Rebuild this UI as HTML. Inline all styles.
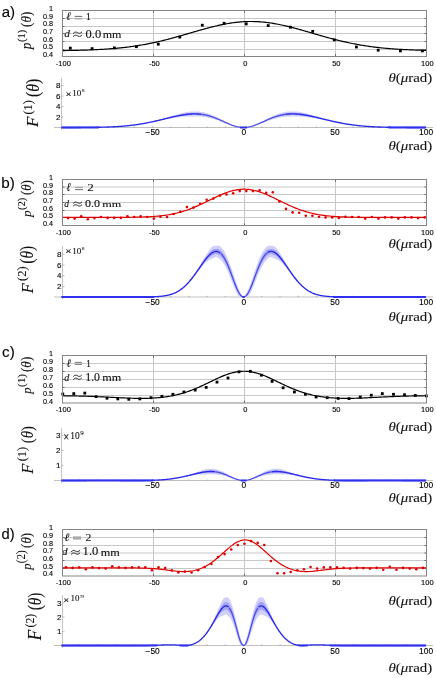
<!DOCTYPE html>
<html><head><meta charset="utf-8"><style>
html,body{margin:0;padding:0;background:#fff;}
svg{display:block;will-change:transform;}
</style></head><body>
<svg width="436" height="678" viewBox="0 0 436 678">
<rect width="436" height="678" fill="#fff"/>
<line x1="62.50" y1="18.50" x2="426.50" y2="18.50" stroke="#c8c8c8" stroke-width="1"/>
<line x1="62.50" y1="26.50" x2="426.50" y2="26.50" stroke="#c8c8c8" stroke-width="1"/>
<line x1="62.50" y1="33.50" x2="426.50" y2="33.50" stroke="#c8c8c8" stroke-width="1"/>
<line x1="62.50" y1="41.50" x2="426.50" y2="41.50" stroke="#c8c8c8" stroke-width="1"/>
<line x1="62.50" y1="49.50" x2="426.50" y2="49.50" stroke="#c8c8c8" stroke-width="1"/>
<line x1="153.50" y1="10.50" x2="153.50" y2="56.50" stroke="#c8c8c8" stroke-width="1"/>
<line x1="153.50" y1="10.50" x2="153.50" y2="12.70" stroke="#666" stroke-width="1"/>
<line x1="153.50" y1="54.30" x2="153.50" y2="56.50" stroke="#666" stroke-width="1"/>
<line x1="244.50" y1="10.50" x2="244.50" y2="56.50" stroke="#c8c8c8" stroke-width="1"/>
<line x1="244.50" y1="10.50" x2="244.50" y2="12.70" stroke="#666" stroke-width="1"/>
<line x1="244.50" y1="54.30" x2="244.50" y2="56.50" stroke="#666" stroke-width="1"/>
<line x1="335.50" y1="10.50" x2="335.50" y2="56.50" stroke="#c8c8c8" stroke-width="1"/>
<line x1="335.50" y1="10.50" x2="335.50" y2="12.70" stroke="#666" stroke-width="1"/>
<line x1="335.50" y1="54.30" x2="335.50" y2="56.50" stroke="#666" stroke-width="1"/>
<line x1="62.50" y1="18.50" x2="64.50" y2="18.50" stroke="#666" stroke-width="1"/>
<line x1="424.50" y1="18.50" x2="426.50" y2="18.50" stroke="#666" stroke-width="1"/>
<line x1="62.50" y1="26.50" x2="64.50" y2="26.50" stroke="#666" stroke-width="1"/>
<line x1="424.50" y1="26.50" x2="426.50" y2="26.50" stroke="#666" stroke-width="1"/>
<line x1="62.50" y1="33.50" x2="64.50" y2="33.50" stroke="#666" stroke-width="1"/>
<line x1="424.50" y1="33.50" x2="426.50" y2="33.50" stroke="#666" stroke-width="1"/>
<line x1="62.50" y1="41.50" x2="64.50" y2="41.50" stroke="#666" stroke-width="1"/>
<line x1="424.50" y1="41.50" x2="426.50" y2="41.50" stroke="#666" stroke-width="1"/>
<line x1="62.50" y1="49.50" x2="64.50" y2="49.50" stroke="#666" stroke-width="1"/>
<line x1="424.50" y1="49.50" x2="426.50" y2="49.50" stroke="#666" stroke-width="1"/>
<text transform="matrix(1.0739 0 0 1.1551 66.180 20.287)" x="0" y="0" fill="#111" stroke="#111" stroke-width="0.108" style="font-kerning:none" ><tspan style="font-family:'Liberation Serif',serif;font-style:italic;font-size:10.00px" y="0.00">ℓ</tspan></text>
<line x1="74.75" y1="16.40" x2="82.20" y2="16.40" stroke="#444" stroke-width="0.8"/>
<line x1="74.75" y1="18.90" x2="82.20" y2="18.90" stroke="#888" stroke-width="0.8"/>
<text transform="matrix(0.9658 0 0 0.9392 86.051 20.400)" x="0" y="0" fill="#111" stroke="#111" stroke-width="0.126" style="font-kerning:none" ><tspan style="font-family:'Liberation Serif',serif;font-style:normal;font-size:10.00px" y="0.00">1</tspan></text>
<text transform="matrix(1.1437 0 0 1.1078 64.154 37.286)" x="0" y="0" fill="#111" stroke="#111" stroke-width="0.107" style="font-kerning:none" ><tspan style="font-family:'Liberation Serif',serif;font-style:italic;font-size:10.00px" y="0.00">d</tspan></text>
<path d="M73.10 33.50 C74.88 31.40 76.66 32.10 77.55 32.70 C78.44 33.30 80.22 34.00 82.00 31.90" fill="none" stroke="#111" stroke-width="0.9"/>
<path d="M73.10 36.60 C74.88 34.50 76.66 35.20 77.55 35.80 C78.44 36.40 80.22 37.10 82.00 35.00" fill="none" stroke="#111" stroke-width="0.9"/>
<text transform="matrix(1.2523 0 0 1.2220 85.523 38.027)" x="0" y="0" fill="#111" stroke="#111" stroke-width="0.097" style="font-kerning:none" ><tspan style="font-family:'Liberation Serif',serif;font-style:normal;font-size:10.00px" y="0.00">0.0</tspan></text>
<text transform="matrix(1.2047 0 0 1.1036 102.747 37.900)" x="0" y="0" fill="#111" stroke="#111" stroke-width="0.104" style="font-kerning:none" ><tspan style="font-family:'Liberation Serif',serif;font-style:normal;font-size:10.00px" y="0.00">mm</tspan></text>
<path d="M62.50 50.56 L63.72 50.55 L64.93 50.53 L66.15 50.51 L67.37 50.49 L68.59 50.47 L69.80 50.45 L71.02 50.43 L72.24 50.41 L73.46 50.39 L74.67 50.36 L75.89 50.34 L77.11 50.31 L78.33 50.28 L79.54 50.25 L80.76 50.22 L81.98 50.19 L83.20 50.15 L84.41 50.11 L85.63 50.07 L86.85 50.03 L88.07 49.99 L89.28 49.95 L90.50 49.90 L91.72 49.85 L92.93 49.80 L94.15 49.75 L95.37 49.69 L96.59 49.64 L97.80 49.57 L99.02 49.51 L100.24 49.45 L101.46 49.38 L102.67 49.31 L103.89 49.23 L105.11 49.15 L106.33 49.07 L107.54 48.99 L108.76 48.90 L109.98 48.81 L111.20 48.72 L112.41 48.62 L113.63 48.52 L114.85 48.41 L116.07 48.30 L117.28 48.19 L118.50 48.07 L119.72 47.95 L120.93 47.83 L122.15 47.70 L123.37 47.56 L124.59 47.43 L125.80 47.28 L127.02 47.14 L128.24 46.98 L129.46 46.83 L130.67 46.67 L131.89 46.50 L133.11 46.33 L134.33 46.15 L135.54 45.97 L136.76 45.79 L137.98 45.59 L139.20 45.40 L140.41 45.20 L141.63 44.99 L142.85 44.78 L144.07 44.56 L145.28 44.34 L146.50 44.11 L147.72 43.88 L148.93 43.64 L150.15 43.40 L151.37 43.15 L152.59 42.89 L153.80 42.64 L155.02 42.37 L156.24 42.10 L157.46 41.83 L158.67 41.55 L159.89 41.27 L161.11 40.98 L162.33 40.68 L163.54 40.39 L164.76 40.08 L165.98 39.78 L167.20 39.47 L168.41 39.15 L169.63 38.83 L170.85 38.51 L172.07 38.19 L173.28 37.86 L174.50 37.52 L175.72 37.19 L176.93 36.85 L178.15 36.51 L179.37 36.16 L180.59 35.82 L181.80 35.47 L183.02 35.12 L184.24 34.77 L185.46 34.41 L186.67 34.06 L187.89 33.70 L189.11 33.35 L190.33 32.99 L191.54 32.64 L192.76 32.28 L193.98 31.93 L195.20 31.57 L196.41 31.22 L197.63 30.87 L198.85 30.52 L200.07 30.17 L201.28 29.83 L202.50 29.48 L203.72 29.15 L204.93 28.81 L206.15 28.48 L207.37 28.15 L208.59 27.83 L209.80 27.51 L211.02 27.20 L212.24 26.89 L213.46 26.59 L214.67 26.29 L215.89 26.00 L217.11 25.72 L218.33 25.44 L219.54 25.17 L220.76 24.91 L221.98 24.65 L223.20 24.41 L224.41 24.17 L225.63 23.94 L226.85 23.72 L228.07 23.51 L229.28 23.31 L230.50 23.12 L231.72 22.94 L232.93 22.77 L234.15 22.60 L235.37 22.45 L236.59 22.31 L237.80 22.18 L239.02 22.06 L240.24 21.96 L241.46 21.86 L242.67 21.77 L243.89 21.70 L245.11 21.64 L246.33 21.59 L247.54 21.55 L248.76 21.52 L249.98 21.50 L251.20 21.50 L252.41 21.51 L253.63 21.53 L254.85 21.56 L256.07 21.60 L257.28 21.66 L258.50 21.72 L259.72 21.80 L260.93 21.89 L262.15 21.99 L263.37 22.10 L264.59 22.22 L265.80 22.36 L267.02 22.50 L268.24 22.65 L269.46 22.82 L270.67 22.99 L271.89 23.18 L273.11 23.37 L274.33 23.58 L275.54 23.79 L276.76 24.02 L277.98 24.25 L279.20 24.49 L280.41 24.74 L281.63 24.99 L282.85 25.26 L284.07 25.53 L285.28 25.81 L286.50 26.09 L287.72 26.38 L288.93 26.68 L290.15 26.99 L291.37 27.30 L292.59 27.61 L293.80 27.93 L295.02 28.26 L296.24 28.58 L297.46 28.92 L298.67 29.25 L299.89 29.59 L301.11 29.94 L302.33 30.28 L303.54 30.63 L304.76 30.98 L305.98 31.33 L307.20 31.69 L308.41 32.04 L309.63 32.39 L310.85 32.75 L312.07 33.11 L313.28 33.46 L314.50 33.82 L315.72 34.17 L316.93 34.53 L318.15 34.88 L319.37 35.23 L320.59 35.58 L321.80 35.93 L323.02 36.27 L324.24 36.62 L325.46 36.96 L326.67 37.30 L327.89 37.63 L329.11 37.96 L330.33 38.29 L331.54 38.62 L332.76 38.94 L333.98 39.25 L335.20 39.57 L336.41 39.88 L337.63 40.18 L338.85 40.48 L340.07 40.78 L341.28 41.07 L342.50 41.36 L343.72 41.64 L344.93 41.92 L346.15 42.19 L347.37 42.46 L348.59 42.72 L349.80 42.98 L351.02 43.23 L352.24 43.48 L353.46 43.72 L354.67 43.95 L355.89 44.18 L357.11 44.41 L358.33 44.63 L359.54 44.85 L360.76 45.06 L361.98 45.26 L363.20 45.46 L364.41 45.66 L365.63 45.85 L366.85 46.03 L368.07 46.21 L369.28 46.38 L370.50 46.55 L371.72 46.72 L372.93 46.88 L374.15 47.03 L375.37 47.18 L376.59 47.33 L377.80 47.47 L379.02 47.61 L380.24 47.74 L381.46 47.87 L382.67 47.99 L383.89 48.11 L385.11 48.23 L386.33 48.34 L387.54 48.45 L388.76 48.55 L389.98 48.65 L391.20 48.75 L392.41 48.84 L393.63 48.93 L394.85 49.02 L396.07 49.10 L397.28 49.18 L398.50 49.26 L399.72 49.33 L400.93 49.40 L402.15 49.47 L403.37 49.53 L404.59 49.59 L405.80 49.65 L407.02 49.71 L408.24 49.77 L409.46 49.82 L410.67 49.87 L411.89 49.92 L413.11 49.96 L414.33 50.01 L415.54 50.05 L416.76 50.09 L417.98 50.13 L419.20 50.16 L420.41 50.20 L421.63 50.23 L422.85 50.26 L424.07 50.29 L425.28 50.32 L426.50 50.35" fill="none" stroke="#000" stroke-width="1.2"/>
<rect x="68.90" y="46.70" width="2.8" height="2.8" fill="#000"/>
<rect x="90.70" y="47.20" width="2.8" height="2.8" fill="#000"/>
<rect x="113.00" y="46.50" width="2.8" height="2.8" fill="#000"/>
<rect x="135.00" y="45.30" width="2.8" height="2.8" fill="#000"/>
<rect x="156.90" y="42.80" width="2.8" height="2.8" fill="#000"/>
<rect x="178.40" y="35.70" width="2.8" height="2.8" fill="#000"/>
<rect x="200.90" y="23.80" width="2.8" height="2.8" fill="#000"/>
<rect x="222.70" y="21.90" width="2.8" height="2.8" fill="#000"/>
<rect x="244.80" y="22.50" width="2.8" height="2.8" fill="#000"/>
<rect x="266.80" y="24.20" width="2.8" height="2.8" fill="#000"/>
<rect x="289.10" y="25.80" width="2.8" height="2.8" fill="#000"/>
<rect x="311.30" y="30.00" width="2.8" height="2.8" fill="#000"/>
<rect x="332.90" y="38.50" width="2.8" height="2.8" fill="#000"/>
<rect x="355.00" y="45.60" width="2.8" height="2.8" fill="#000"/>
<rect x="376.80" y="48.80" width="2.8" height="2.8" fill="#000"/>
<rect x="399.00" y="49.50" width="2.8" height="2.8" fill="#000"/>
<rect x="421.00" y="49.50" width="2.8" height="2.8" fill="#000"/>
<rect x="62.50" y="10.50" width="364.00" height="46.00" fill="none" stroke="#858585" stroke-width="1"/>
<text transform="translate(53.05 11.05) scale(0.930 1)" text-anchor="end" style="font-family:'Liberation Sans',sans-serif;font-size:7.80px;font-kerning:none" fill="#000" stroke="#000" stroke-width="0.12">1</text>
<text transform="translate(53.05 18.69) scale(0.930 1)" text-anchor="end" style="font-family:'Liberation Sans',sans-serif;font-size:7.80px;font-kerning:none" fill="#000" stroke="#000" stroke-width="0.12">0.9</text>
<text transform="translate(53.05 26.33) scale(0.930 1)" text-anchor="end" style="font-family:'Liberation Sans',sans-serif;font-size:7.80px;font-kerning:none" fill="#000" stroke="#000" stroke-width="0.12">0.8</text>
<text transform="translate(53.05 33.98) scale(0.930 1)" text-anchor="end" style="font-family:'Liberation Sans',sans-serif;font-size:7.80px;font-kerning:none" fill="#000" stroke="#000" stroke-width="0.12">0.7</text>
<text transform="translate(53.05 41.62) scale(0.930 1)" text-anchor="end" style="font-family:'Liberation Sans',sans-serif;font-size:7.80px;font-kerning:none" fill="#000" stroke="#000" stroke-width="0.12">0.6</text>
<text transform="translate(53.05 49.26) scale(0.930 1)" text-anchor="end" style="font-family:'Liberation Sans',sans-serif;font-size:7.80px;font-kerning:none" fill="#000" stroke="#000" stroke-width="0.12">0.5</text>
<text transform="translate(53.05 56.90) scale(0.930 1)" text-anchor="end" style="font-family:'Liberation Sans',sans-serif;font-size:7.80px;font-kerning:none" fill="#000" stroke="#000" stroke-width="0.12">0.4</text>
<text transform="translate(63.30 65.50) scale(1.040 1)" text-anchor="middle" style="font-family:'Liberation Sans',sans-serif;font-size:7.20px;font-kerning:none" fill="#000" stroke="#000" stroke-width="0.12">-100</text>
<text transform="translate(154.30 65.50) scale(1.040 1)" text-anchor="middle" style="font-family:'Liberation Sans',sans-serif;font-size:7.20px;font-kerning:none" fill="#000" stroke="#000" stroke-width="0.12">-50</text>
<text transform="translate(245.30 65.50) scale(1.040 1)" text-anchor="middle" style="font-family:'Liberation Sans',sans-serif;font-size:7.20px;font-kerning:none" fill="#000" stroke="#000" stroke-width="0.12">0</text>
<text transform="translate(336.30 65.50) scale(1.040 1)" text-anchor="middle" style="font-family:'Liberation Sans',sans-serif;font-size:7.20px;font-kerning:none" fill="#000" stroke="#000" stroke-width="0.12">50</text>
<text transform="translate(427.30 65.50) scale(1.040 1)" text-anchor="middle" style="font-family:'Liberation Sans',sans-serif;font-size:7.20px;font-kerning:none" fill="#000" stroke="#000" stroke-width="0.12">100</text>
<text transform="matrix(1.4912 0 0 1.2814 388.472 81.960)" x="0" y="0" fill="#111" stroke="#111" stroke-width="0.072" style="font-kerning:none" ><tspan style="font-family:'Liberation Serif',serif;font-style:italic;font-size:10.00px" y="0.00">θ</tspan><tspan style="font-family:'Liberation Serif',serif;font-style:normal;font-size:10.00px" y="0.00">(</tspan><tspan style="font-family:'Liberation Serif',serif;font-style:italic;font-size:10.00px" y="0.00">μ</tspan><tspan style="font-family:'Liberation Serif',serif;font-style:normal;font-size:10.00px" y="0.00">rad)</tspan></text>
<text transform="matrix(1.5038 0 0 1.4705 1.661 17.356)" x="0" y="0" fill="#000" stroke="#000" stroke-width="0.067" style="font-kerning:none" ><tspan style="font-family:'Liberation Sans',sans-serif;font-style:normal;font-size:10.00px" y="0.00">a)</tspan></text>
<text transform="matrix(0 -1.3060 1.3595 0 30.806 49.235)" x="0" y="0" fill="#111" stroke="#111" stroke-width="0.075" style="font-kerning:none" ><tspan style="font-family:'Liberation Serif',serif;font-style:italic;font-size:10.00px" y="0.00">p</tspan></text>
<text transform="matrix(0 -1.0388 1.0698 0 25.023 41.957)" x="0" y="0" fill="#111" stroke="#111" stroke-width="0.095" style="font-kerning:none" ><tspan style="font-family:'Liberation Serif',serif;font-style:normal;font-size:10.00px" y="0.00">(1)</tspan></text>
<text transform="matrix(0 -1.3279 1.5020 0 30.902 26.984)" x="0" y="0" fill="#111" stroke="#111" stroke-width="0.071" style="font-kerning:none" ><tspan style="font-family:'Liberation Serif',serif;font-style:normal;font-size:10.00px" y="0.00">(</tspan><tspan style="font-family:'Liberation Serif',serif;font-style:italic;font-size:10.00px" y="0.00">θ</tspan><tspan style="font-family:'Liberation Serif',serif;font-style:normal;font-size:10.00px" y="0.00">)</tspan></text>
<line x1="54" y1="127.50" x2="433" y2="127.50" stroke="#c0c0c0" stroke-width="1"/>
<line x1="61.50" y1="77.70" x2="61.50" y2="130.00" stroke="#c4c4c4" stroke-width="1"/>
<line x1="79.56" y1="126.30" x2="79.56" y2="127.50" stroke="#909090" stroke-width="0.6"/>
<line x1="97.78" y1="126.30" x2="97.78" y2="127.50" stroke="#909090" stroke-width="0.6"/>
<line x1="116.01" y1="126.30" x2="116.01" y2="127.50" stroke="#909090" stroke-width="0.6"/>
<line x1="134.24" y1="126.30" x2="134.24" y2="127.50" stroke="#909090" stroke-width="0.6"/>
<line x1="152.46" y1="126.30" x2="152.46" y2="127.50" stroke="#909090" stroke-width="0.6"/>
<line x1="170.69" y1="126.30" x2="170.69" y2="127.50" stroke="#909090" stroke-width="0.6"/>
<line x1="188.92" y1="126.30" x2="188.92" y2="127.50" stroke="#909090" stroke-width="0.6"/>
<line x1="207.15" y1="126.30" x2="207.15" y2="127.50" stroke="#909090" stroke-width="0.6"/>
<line x1="225.37" y1="126.30" x2="225.37" y2="127.50" stroke="#909090" stroke-width="0.6"/>
<line x1="243.60" y1="126.30" x2="243.60" y2="127.50" stroke="#909090" stroke-width="0.6"/>
<line x1="261.83" y1="126.30" x2="261.83" y2="127.50" stroke="#909090" stroke-width="0.6"/>
<line x1="280.05" y1="126.30" x2="280.05" y2="127.50" stroke="#909090" stroke-width="0.6"/>
<line x1="298.28" y1="126.30" x2="298.28" y2="127.50" stroke="#909090" stroke-width="0.6"/>
<line x1="316.51" y1="126.30" x2="316.51" y2="127.50" stroke="#909090" stroke-width="0.6"/>
<line x1="334.74" y1="126.30" x2="334.74" y2="127.50" stroke="#909090" stroke-width="0.6"/>
<line x1="352.96" y1="126.30" x2="352.96" y2="127.50" stroke="#909090" stroke-width="0.6"/>
<line x1="371.19" y1="126.30" x2="371.19" y2="127.50" stroke="#909090" stroke-width="0.6"/>
<line x1="389.42" y1="126.30" x2="389.42" y2="127.50" stroke="#909090" stroke-width="0.6"/>
<line x1="407.64" y1="126.30" x2="407.64" y2="127.50" stroke="#909090" stroke-width="0.6"/>
<line x1="425.87" y1="126.30" x2="425.87" y2="127.50" stroke="#909090" stroke-width="0.6"/>
<path d="M61.53 127.49 L62.13 127.49 L62.73 127.49 L63.33 127.49 L63.93 127.49 L64.53 127.49 L65.13 127.49 L65.73 127.49 L66.33 127.49 L66.94 127.49 L67.54 127.48 L68.14 127.48 L68.74 127.48 L69.34 127.48 L69.94 127.48 L70.54 127.48 L71.14 127.48 L71.74 127.48 L72.34 127.48 L72.94 127.47 L73.54 127.47 L74.14 127.47 L74.74 127.47 L75.34 127.47 L75.94 127.47 L76.54 127.46 L77.14 127.46 L77.75 127.46 L78.35 127.46 L78.95 127.45 L79.55 127.45 L80.15 127.45 L80.75 127.45 L81.35 127.44 L81.95 127.44 L82.55 127.44 L83.15 127.43 L83.75 127.43 L84.35 127.42 L84.95 127.42 L85.55 127.42 L86.15 127.41 L86.75 127.41 L87.35 127.40 L87.95 127.40 L88.56 127.39 L89.16 127.38 L89.76 127.38 L90.36 127.37 L90.96 127.37 L91.56 127.36 L92.16 127.35 L92.76 127.34 L93.36 127.34 L93.96 127.33 L94.56 127.32 L95.16 127.31 L95.76 127.30 L96.36 127.29 L96.96 127.28 L97.56 127.27 L98.16 127.26 L98.76 127.25 L99.37 127.23 L99.97 127.22 L100.57 127.21 L101.17 127.19 L101.77 127.18 L102.37 127.17 L102.97 127.15 L103.57 127.13 L104.17 127.12 L104.77 127.10 L105.37 127.08 L105.97 127.06 L106.57 127.04 L107.17 127.02 L107.77 127.00 L108.37 126.98 L108.97 126.96 L109.57 126.93 L110.18 126.91 L110.78 126.88 L111.38 126.86 L111.98 126.83 L112.58 126.80 L113.18 126.77 L113.78 126.74 L114.38 126.71 L114.98 126.68 L115.58 126.65 L116.18 126.61 L116.78 126.57 L117.38 126.54 L117.98 126.50 L118.58 126.46 L119.18 126.42 L119.78 126.38 L120.38 126.34 L120.99 126.29 L121.59 126.25 L122.19 126.20 L122.79 126.15 L123.39 126.10 L123.99 126.05 L124.59 126.00 L125.19 125.94 L125.79 125.88 L126.39 125.83 L126.99 125.77 L127.59 125.71 L128.19 125.64 L128.79 125.58 L129.39 125.51 L129.99 125.45 L130.59 125.38 L131.20 125.31 L131.80 125.23 L132.40 125.16 L133.00 125.08 L133.60 125.00 L134.20 124.92 L134.80 124.84 L135.40 124.76 L136.00 124.67 L136.60 124.58 L137.20 124.49 L137.80 124.40 L138.40 124.31 L139.00 124.21 L139.60 124.11 L140.20 124.01 L140.80 123.91 L141.40 123.81 L142.01 123.70 L142.61 123.59 L143.21 123.48 L143.81 123.37 L144.41 123.25 L145.01 123.14 L145.61 123.02 L146.21 122.90 L146.81 122.77 L147.41 122.65 L148.01 122.52 L148.61 122.39 L149.21 122.26 L149.81 122.13 L150.41 121.99 L151.01 121.85 L151.61 121.71 L152.21 121.57 L152.82 121.42 L153.42 121.28 L154.02 121.13 L154.62 120.98 L155.22 120.82 L155.82 120.67 L156.42 120.51 L157.02 120.35 L157.62 120.19 L158.22 120.03 L158.82 119.87 L159.42 119.70 L160.02 119.53 L160.62 119.36 L161.22 119.19 L161.82 119.02 L162.42 118.85 L163.02 118.67 L163.63 118.50 L164.23 118.32 L164.83 118.14 L165.43 117.96 L166.03 117.78 L166.63 117.60 L167.23 117.41 L167.83 117.23 L168.43 117.05 L169.03 116.86 L169.63 116.68 L170.23 116.50 L170.83 116.31 L171.43 116.13 L172.03 115.94 L172.63 115.76 L173.23 115.58 L173.83 115.40 L174.44 115.22 L175.04 115.04 L175.64 114.86 L176.24 114.69 L176.84 114.51 L177.44 114.34 L178.04 114.17 L178.64 113.99 L179.24 113.82 L179.84 113.65 L180.44 113.48 L181.04 113.32 L181.64 113.16 L182.24 113.01 L182.84 112.86 L183.44 112.71 L184.04 112.58 L184.64 112.44 L185.25 112.32 L185.85 112.20 L186.45 112.08 L187.05 111.98 L187.65 111.88 L188.25 111.80 L188.85 111.72 L189.45 111.65 L190.05 111.59 L190.65 111.54 L191.25 111.50 L191.85 111.47 L192.45 111.45 L193.05 111.44 L193.65 111.44 L194.25 111.44 L194.85 111.44 L195.45 111.43 L196.06 111.44 L196.66 111.45 L197.26 111.47 L197.86 111.50 L198.46 111.54 L199.06 111.59 L199.66 111.65 L200.26 111.72 L200.86 111.80 L201.46 111.89 L202.06 111.99 L202.66 112.10 L203.26 112.22 L203.86 112.35 L204.46 112.49 L205.06 112.64 L205.66 112.80 L206.27 112.97 L206.87 113.15 L207.47 113.33 L208.07 113.53 L208.67 113.73 L209.27 113.95 L209.87 114.17 L210.47 114.40 L211.07 114.63 L211.67 114.87 L212.27 115.12 L212.87 115.38 L213.47 115.64 L214.07 115.91 L214.67 116.18 L215.27 116.46 L215.87 116.74 L216.47 117.02 L217.08 117.31 L217.68 117.60 L218.28 117.90 L218.88 118.19 L219.48 118.49 L220.08 118.79 L220.68 119.09 L221.28 119.39 L221.88 119.70 L222.48 120.00 L223.08 120.30 L223.68 120.60 L224.28 120.90 L224.88 121.20 L225.48 121.50 L226.08 121.79 L226.68 122.08 L227.28 122.37 L227.89 122.66 L228.49 122.94 L229.09 123.22 L229.69 123.49 L230.29 123.76 L230.89 124.02 L231.49 124.28 L232.09 124.53 L232.69 124.77 L233.29 125.00 L233.89 125.23 L234.49 125.45 L235.09 125.66 L235.69 125.87 L236.29 126.06 L236.89 126.24 L237.49 126.42 L238.09 126.58 L238.70 126.73 L239.30 126.87 L239.90 127.00 L240.50 127.11 L241.10 127.21 L241.70 127.30 L242.30 127.38 L242.90 127.44 L243.50 127.49 L244.10 127.46 L244.70 127.40 L245.30 127.33 L245.90 127.24 L246.50 127.15 L247.10 127.04 L247.70 126.91 L248.30 126.78 L248.90 126.63 L249.51 126.47 L250.11 126.30 L250.71 126.12 L251.31 125.93 L251.91 125.73 L252.51 125.52 L253.11 125.31 L253.71 125.08 L254.31 124.85 L254.91 124.61 L255.51 124.36 L256.11 124.11 L256.71 123.85 L257.31 123.58 L257.91 123.31 L258.51 123.03 L259.11 122.75 L259.71 122.47 L260.32 122.18 L260.92 121.89 L261.52 121.60 L262.12 121.30 L262.72 121.00 L263.32 120.70 L263.92 120.40 L264.52 120.10 L265.12 119.80 L265.72 119.50 L266.32 119.19 L266.92 118.89 L267.52 118.59 L268.12 118.29 L268.72 117.99 L269.32 117.70 L269.92 117.41 L270.53 117.12 L271.13 116.83 L271.73 116.55 L272.33 116.27 L272.93 116.00 L273.53 115.73 L274.13 115.47 L274.73 115.21 L275.33 114.96 L275.93 114.71 L276.53 114.47 L277.13 114.24 L277.73 114.02 L278.33 113.80 L278.93 113.60 L279.53 113.40 L280.13 113.21 L280.73 113.03 L281.34 112.85 L281.94 112.69 L282.54 112.54 L283.14 112.39 L283.74 112.26 L284.34 112.14 L284.94 112.02 L285.54 111.92 L286.14 111.82 L286.74 111.74 L287.34 111.67 L287.94 111.60 L288.54 111.55 L289.14 111.51 L289.74 111.47 L290.34 111.45 L290.94 111.44 L291.54 111.43 L292.15 111.44 L292.75 111.45 L293.35 111.44 L293.95 111.43 L294.55 111.44 L295.15 111.46 L295.75 111.49 L296.35 111.52 L296.95 111.57 L297.55 111.63 L298.15 111.69 L298.75 111.77 L299.35 111.85 L299.95 111.95 L300.55 112.05 L301.15 112.16 L301.75 112.28 L302.35 112.40 L302.96 112.53 L303.56 112.67 L304.16 112.81 L304.76 112.96 L305.36 113.11 L305.96 113.27 L306.56 113.43 L307.16 113.59 L307.76 113.76 L308.36 113.93 L308.96 114.11 L309.56 114.28 L310.16 114.45 L310.76 114.63 L311.36 114.80 L311.96 114.98 L312.56 115.16 L313.16 115.34 L313.77 115.52 L314.37 115.70 L314.97 115.88 L315.57 116.07 L316.17 116.25 L316.77 116.43 L317.37 116.62 L317.97 116.80 L318.57 116.99 L319.17 117.17 L319.77 117.35 L320.37 117.54 L320.97 117.72 L321.57 117.90 L322.17 118.08 L322.77 118.26 L323.37 118.44 L323.97 118.61 L324.58 118.79 L325.18 118.96 L325.78 119.14 L326.38 119.31 L326.98 119.48 L327.58 119.64 L328.18 119.81 L328.78 119.98 L329.38 120.14 L329.98 120.30 L330.58 120.46 L331.18 120.62 L331.78 120.77 L332.38 120.93 L332.98 121.08 L333.58 121.23 L334.18 121.37 L334.78 121.52 L335.39 121.66 L335.99 121.80 L336.59 121.94 L337.19 122.08 L337.79 122.21 L338.39 122.35 L338.99 122.48 L339.59 122.61 L340.19 122.73 L340.79 122.86 L341.39 122.98 L341.99 123.10 L342.59 123.22 L343.19 123.33 L343.79 123.45 L344.39 123.56 L344.99 123.67 L345.60 123.77 L346.20 123.88 L346.80 123.98 L347.40 124.08 L348.00 124.18 L348.60 124.28 L349.20 124.37 L349.80 124.46 L350.40 124.55 L351.00 124.64 L351.60 124.73 L352.20 124.81 L352.80 124.90 L353.40 124.98 L354.00 125.06 L354.60 125.13 L355.20 125.21 L355.80 125.28 L356.41 125.35 L357.01 125.42 L357.61 125.49 L358.21 125.56 L358.81 125.62 L359.41 125.69 L360.01 125.75 L360.61 125.81 L361.21 125.87 L361.81 125.92 L362.41 125.98 L363.01 126.03 L363.61 126.08 L364.21 126.13 L364.81 126.18 L365.41 126.23 L366.01 126.28 L366.61 126.32 L367.22 126.36 L367.82 126.41 L368.42 126.45 L369.02 126.49 L369.62 126.53 L370.22 126.56 L370.82 126.60 L371.42 126.63 L372.02 126.67 L372.62 126.70 L373.22 126.73 L373.82 126.76 L374.42 126.79 L375.02 126.82 L375.62 126.85 L376.22 126.87 L376.82 126.90 L377.42 126.92 L378.03 126.95 L378.63 126.97 L379.23 126.99 L379.83 127.02 L380.43 127.04 L381.03 127.06 L381.63 127.07 L382.23 127.09 L382.83 127.11 L383.43 127.13 L384.03 127.14 L384.63 127.16 L385.23 127.18 L385.83 127.19 L386.43 127.20 L387.03 127.22 L387.63 127.23 L388.23 127.24 L388.84 127.25 L389.44 127.27 L390.04 127.28 L390.64 127.29 L391.24 127.30 L391.84 127.31 L392.44 127.32 L393.04 127.32 L393.64 127.33 L394.24 127.34 L394.84 127.35 L395.44 127.36 L396.04 127.36 L396.64 127.37 L397.24 127.38 L397.84 127.38 L398.44 127.39 L399.04 127.39 L399.65 127.40 L400.25 127.40 L400.85 127.41 L401.45 127.41 L402.05 127.42 L402.65 127.42 L403.25 127.43 L403.85 127.43 L404.45 127.43 L405.05 127.44 L405.65 127.44 L406.25 127.44 L406.85 127.45 L407.45 127.45 L408.05 127.45 L408.65 127.46 L409.25 127.46 L409.86 127.46 L410.46 127.46 L411.06 127.46 L411.66 127.47 L412.26 127.47 L412.86 127.47 L413.46 127.47 L414.06 127.47 L414.66 127.47 L415.26 127.48 L415.86 127.48 L416.46 127.48 L417.06 127.48 L417.66 127.48 L418.26 127.48 L418.86 127.48 L419.46 127.48 L420.06 127.49 L420.67 127.49 L421.27 127.49 L421.87 127.49 L422.47 127.49 L423.07 127.49 L423.67 127.49 L424.27 127.49 L424.87 127.49 L425.47 127.49 L425.47 127.49 L424.87 127.49 L424.27 127.49 L423.67 127.49 L423.07 127.49 L422.47 127.49 L421.87 127.49 L421.27 127.49 L420.67 127.49 L420.06 127.49 L419.46 127.49 L418.86 127.48 L418.26 127.48 L417.66 127.48 L417.06 127.48 L416.46 127.48 L415.86 127.48 L415.26 127.48 L414.66 127.48 L414.06 127.47 L413.46 127.47 L412.86 127.47 L412.26 127.47 L411.66 127.47 L411.06 127.47 L410.46 127.46 L409.86 127.46 L409.25 127.46 L408.65 127.46 L408.05 127.46 L407.45 127.45 L406.85 127.45 L406.25 127.45 L405.65 127.44 L405.05 127.44 L404.45 127.44 L403.85 127.43 L403.25 127.43 L402.65 127.43 L402.05 127.42 L401.45 127.42 L400.85 127.41 L400.25 127.41 L399.65 127.40 L399.04 127.40 L398.44 127.39 L397.84 127.39 L397.24 127.38 L396.64 127.38 L396.04 127.37 L395.44 127.36 L394.84 127.36 L394.24 127.35 L393.64 127.34 L393.04 127.33 L392.44 127.32 L391.84 127.32 L391.24 127.31 L390.64 127.30 L390.04 127.29 L389.44 127.28 L388.84 127.26 L388.23 127.25 L387.63 127.24 L387.03 127.23 L386.43 127.22 L385.83 127.20 L385.23 127.19 L384.63 127.17 L384.03 127.16 L383.43 127.14 L382.83 127.13 L382.23 127.11 L381.63 127.09 L381.03 127.07 L380.43 127.05 L379.83 127.03 L379.23 127.01 L378.63 126.99 L378.03 126.97 L377.42 126.95 L376.82 126.92 L376.22 126.90 L375.62 126.87 L375.02 126.85 L374.42 126.82 L373.82 126.79 L373.22 126.76 L372.62 126.73 L372.02 126.70 L371.42 126.67 L370.82 126.63 L370.22 126.60 L369.62 126.56 L369.02 126.52 L368.42 126.49 L367.82 126.45 L367.22 126.40 L366.61 126.36 L366.01 126.32 L365.41 126.28 L364.81 126.23 L364.21 126.18 L363.61 126.13 L363.01 126.08 L362.41 126.03 L361.81 125.98 L361.21 125.92 L360.61 125.87 L360.01 125.81 L359.41 125.75 L358.81 125.69 L358.21 125.63 L357.61 125.57 L357.01 125.50 L356.41 125.43 L355.80 125.37 L355.20 125.30 L354.60 125.23 L354.00 125.15 L353.40 125.08 L352.80 125.00 L352.20 124.92 L351.60 124.84 L351.00 124.76 L350.40 124.68 L349.80 124.59 L349.20 124.51 L348.60 124.42 L348.00 124.33 L347.40 124.24 L346.80 124.15 L346.20 124.05 L345.60 123.96 L344.99 123.86 L344.39 123.76 L343.79 123.66 L343.19 123.56 L342.59 123.46 L341.99 123.35 L341.39 123.25 L340.79 123.14 L340.19 123.03 L339.59 122.92 L338.99 122.81 L338.39 122.70 L337.79 122.58 L337.19 122.47 L336.59 122.36 L335.99 122.24 L335.39 122.12 L334.78 122.00 L334.18 121.89 L333.58 121.77 L332.98 121.65 L332.38 121.53 L331.78 121.41 L331.18 121.29 L330.58 121.17 L329.98 121.05 L329.38 120.92 L328.78 120.80 L328.18 120.68 L327.58 120.56 L326.98 120.44 L326.38 120.32 L325.78 120.20 L325.18 120.08 L324.58 119.96 L323.97 119.85 L323.37 119.73 L322.77 119.61 L322.17 119.50 L321.57 119.38 L320.97 119.27 L320.37 119.16 L319.77 119.05 L319.17 118.94 L318.57 118.83 L317.97 118.73 L317.37 118.62 L316.77 118.52 L316.17 118.42 L315.57 118.32 L314.97 118.23 L314.37 118.13 L313.77 118.04 L313.16 117.95 L312.56 117.86 L311.96 117.78 L311.36 117.69 L310.76 117.61 L310.16 117.53 L309.56 117.46 L308.96 117.39 L308.36 117.33 L307.76 117.27 L307.16 117.21 L306.56 117.15 L305.96 117.10 L305.36 117.05 L304.76 117.00 L304.16 116.96 L303.56 116.91 L302.96 116.87 L302.35 116.83 L301.75 116.79 L301.15 116.76 L300.55 116.72 L299.95 116.69 L299.35 116.65 L298.75 116.62 L298.15 116.59 L297.55 116.56 L296.95 116.53 L296.35 116.50 L295.75 116.47 L295.15 116.44 L294.55 116.42 L293.95 116.39 L293.35 116.37 L292.75 116.35 L292.15 116.37 L291.54 116.39 L290.94 116.41 L290.34 116.44 L289.74 116.48 L289.14 116.51 L288.54 116.55 L287.94 116.60 L287.34 116.64 L286.74 116.70 L286.14 116.75 L285.54 116.81 L284.94 116.87 L284.34 116.94 L283.74 117.01 L283.14 117.09 L282.54 117.17 L281.94 117.26 L281.34 117.35 L280.73 117.44 L280.13 117.55 L279.53 117.65 L278.93 117.77 L278.33 117.88 L277.73 118.01 L277.13 118.14 L276.53 118.27 L275.93 118.42 L275.33 118.57 L274.73 118.72 L274.13 118.88 L273.53 119.05 L272.93 119.22 L272.33 119.40 L271.73 119.59 L271.13 119.78 L270.53 119.98 L269.92 120.18 L269.32 120.39 L268.72 120.61 L268.12 120.83 L267.52 121.05 L266.92 121.28 L266.32 121.51 L265.72 121.75 L265.12 121.99 L264.52 122.23 L263.92 122.47 L263.32 122.72 L262.72 122.96 L262.12 123.21 L261.52 123.46 L260.92 123.70 L260.32 123.94 L259.71 124.18 L259.11 124.42 L258.51 124.65 L257.91 124.88 L257.31 125.11 L256.71 125.32 L256.11 125.54 L255.51 125.74 L254.91 125.93 L254.31 126.12 L253.71 126.30 L253.11 126.47 L252.51 126.62 L251.91 126.77 L251.31 126.91 L250.71 127.03 L250.11 127.14 L249.51 127.24 L248.90 127.33 L248.30 127.40 L247.70 127.46 L247.10 127.50 L246.50 127.50 L245.90 127.50 L245.30 127.50 L244.70 127.50 L244.10 127.50 L243.50 127.50 L242.90 127.50 L242.30 127.50 L241.70 127.50 L241.10 127.50 L240.50 127.50 L239.90 127.49 L239.30 127.44 L238.70 127.38 L238.09 127.30 L237.49 127.21 L236.89 127.11 L236.29 126.99 L235.69 126.86 L235.09 126.72 L234.49 126.57 L233.89 126.41 L233.29 126.24 L232.69 126.06 L232.09 125.87 L231.49 125.67 L230.89 125.47 L230.29 125.25 L229.69 125.03 L229.09 124.81 L228.49 124.58 L227.89 124.34 L227.28 124.10 L226.68 123.86 L226.08 123.62 L225.48 123.37 L224.88 123.13 L224.28 122.88 L223.68 122.64 L223.08 122.39 L222.48 122.15 L221.88 121.91 L221.28 121.67 L220.68 121.43 L220.08 121.20 L219.48 120.98 L218.88 120.75 L218.28 120.53 L217.68 120.32 L217.08 120.11 L216.47 119.91 L215.87 119.72 L215.27 119.53 L214.67 119.34 L214.07 119.16 L213.47 118.99 L212.87 118.83 L212.27 118.67 L211.67 118.52 L211.07 118.37 L210.47 118.23 L209.87 118.09 L209.27 117.97 L208.67 117.84 L208.07 117.73 L207.47 117.62 L206.87 117.51 L206.27 117.41 L205.66 117.32 L205.06 117.23 L204.46 117.14 L203.86 117.06 L203.26 116.99 L202.66 116.92 L202.06 116.85 L201.46 116.79 L200.86 116.73 L200.26 116.68 L199.66 116.63 L199.06 116.58 L198.46 116.54 L197.86 116.50 L197.26 116.47 L196.66 116.43 L196.06 116.41 L195.45 116.38 L194.85 116.36 L194.25 116.36 L193.65 116.38 L193.05 116.40 L192.45 116.42 L191.85 116.45 L191.25 116.48 L190.65 116.51 L190.05 116.54 L189.45 116.57 L188.85 116.60 L188.25 116.63 L187.65 116.66 L187.05 116.70 L186.45 116.73 L185.85 116.77 L185.25 116.81 L184.64 116.85 L184.04 116.89 L183.44 116.93 L182.84 116.97 L182.24 117.02 L181.64 117.07 L181.04 117.12 L180.44 117.17 L179.84 117.23 L179.24 117.29 L178.64 117.35 L178.04 117.41 L177.44 117.48 L176.84 117.56 L176.24 117.64 L175.64 117.72 L175.04 117.80 L174.44 117.89 L173.83 117.98 L173.23 118.07 L172.63 118.16 L172.03 118.26 L171.43 118.36 L170.83 118.45 L170.23 118.56 L169.63 118.66 L169.03 118.76 L168.43 118.87 L167.83 118.98 L167.23 119.09 L166.63 119.20 L166.03 119.31 L165.43 119.42 L164.83 119.54 L164.23 119.65 L163.63 119.77 L163.02 119.89 L162.42 120.00 L161.82 120.12 L161.22 120.24 L160.62 120.36 L160.02 120.48 L159.42 120.60 L158.82 120.72 L158.22 120.84 L157.62 120.97 L157.02 121.09 L156.42 121.21 L155.82 121.33 L155.22 121.45 L154.62 121.57 L154.02 121.69 L153.42 121.81 L152.82 121.93 L152.21 122.04 L151.61 122.16 L151.01 122.28 L150.41 122.39 L149.81 122.51 L149.21 122.62 L148.61 122.73 L148.01 122.85 L147.41 122.96 L146.81 123.07 L146.21 123.17 L145.61 123.28 L145.01 123.39 L144.41 123.49 L143.81 123.59 L143.21 123.69 L142.61 123.79 L142.01 123.89 L141.40 123.99 L140.80 124.08 L140.20 124.18 L139.60 124.27 L139.00 124.36 L138.40 124.45 L137.80 124.54 L137.20 124.62 L136.60 124.71 L136.00 124.79 L135.40 124.87 L134.80 124.95 L134.20 125.03 L133.60 125.10 L133.00 125.18 L132.40 125.25 L131.80 125.32 L131.20 125.39 L130.59 125.46 L129.99 125.52 L129.39 125.59 L128.79 125.65 L128.19 125.71 L127.59 125.77 L126.99 125.83 L126.39 125.89 L125.79 125.94 L125.19 126.00 L124.59 126.05 L123.99 126.10 L123.39 126.15 L122.79 126.20 L122.19 126.24 L121.59 126.29 L120.99 126.33 L120.38 126.38 L119.78 126.42 L119.18 126.46 L118.58 126.50 L117.98 126.54 L117.38 126.57 L116.78 126.61 L116.18 126.64 L115.58 126.68 L114.98 126.71 L114.38 126.74 L113.78 126.77 L113.18 126.80 L112.58 126.83 L111.98 126.85 L111.38 126.88 L110.78 126.91 L110.18 126.93 L109.57 126.95 L108.97 126.98 L108.37 127.00 L107.77 127.02 L107.17 127.04 L106.57 127.06 L105.97 127.08 L105.37 127.10 L104.77 127.12 L104.17 127.13 L103.57 127.15 L102.97 127.16 L102.37 127.18 L101.77 127.19 L101.17 127.21 L100.57 127.22 L99.97 127.23 L99.37 127.25 L98.76 127.26 L98.16 127.27 L97.56 127.28 L96.96 127.29 L96.36 127.30 L95.76 127.31 L95.16 127.32 L94.56 127.33 L93.96 127.34 L93.36 127.34 L92.76 127.35 L92.16 127.36 L91.56 127.37 L90.96 127.37 L90.36 127.38 L89.76 127.38 L89.16 127.39 L88.56 127.40 L87.95 127.40 L87.35 127.41 L86.75 127.41 L86.15 127.42 L85.55 127.42 L84.95 127.42 L84.35 127.43 L83.75 127.43 L83.15 127.44 L82.55 127.44 L81.95 127.44 L81.35 127.44 L80.75 127.45 L80.15 127.45 L79.55 127.45 L78.95 127.46 L78.35 127.46 L77.75 127.46 L77.14 127.46 L76.54 127.46 L75.94 127.47 L75.34 127.47 L74.74 127.47 L74.14 127.47 L73.54 127.47 L72.94 127.48 L72.34 127.48 L71.74 127.48 L71.14 127.48 L70.54 127.48 L69.94 127.48 L69.34 127.48 L68.74 127.48 L68.14 127.48 L67.54 127.49 L66.94 127.49 L66.33 127.49 L65.73 127.49 L65.13 127.49 L64.53 127.49 L63.93 127.49 L63.33 127.49 L62.73 127.49 L62.13 127.49 L61.53 127.49 Z" fill="#d0d0fa"/>
<path d="M61.53 127.49 L62.13 127.49 L62.73 127.49 L63.33 127.49 L63.93 127.49 L64.53 127.49 L65.13 127.49 L65.73 127.49 L66.33 127.49 L66.94 127.49 L67.54 127.48 L68.14 127.48 L68.74 127.48 L69.34 127.48 L69.94 127.48 L70.54 127.48 L71.14 127.48 L71.74 127.48 L72.34 127.48 L72.94 127.47 L73.54 127.47 L74.14 127.47 L74.74 127.47 L75.34 127.47 L75.94 127.47 L76.54 127.46 L77.14 127.46 L77.75 127.46 L78.35 127.46 L78.95 127.45 L79.55 127.45 L80.15 127.45 L80.75 127.45 L81.35 127.44 L81.95 127.44 L82.55 127.44 L83.15 127.43 L83.75 127.43 L84.35 127.43 L84.95 127.42 L85.55 127.42 L86.15 127.41 L86.75 127.41 L87.35 127.40 L87.95 127.40 L88.56 127.39 L89.16 127.39 L89.76 127.38 L90.36 127.37 L90.96 127.37 L91.56 127.36 L92.16 127.35 L92.76 127.35 L93.36 127.34 L93.96 127.33 L94.56 127.32 L95.16 127.31 L95.76 127.30 L96.36 127.29 L96.96 127.28 L97.56 127.27 L98.16 127.26 L98.76 127.25 L99.37 127.24 L99.97 127.22 L100.57 127.21 L101.17 127.20 L101.77 127.18 L102.37 127.17 L102.97 127.15 L103.57 127.14 L104.17 127.12 L104.77 127.10 L105.37 127.09 L105.97 127.07 L106.57 127.05 L107.17 127.03 L107.77 127.01 L108.37 126.98 L108.97 126.96 L109.57 126.94 L110.18 126.91 L110.78 126.89 L111.38 126.86 L111.98 126.84 L112.58 126.81 L113.18 126.78 L113.78 126.75 L114.38 126.72 L114.98 126.69 L115.58 126.65 L116.18 126.62 L116.78 126.58 L117.38 126.55 L117.98 126.51 L118.58 126.47 L119.18 126.43 L119.78 126.39 L120.38 126.35 L120.99 126.30 L121.59 126.26 L122.19 126.21 L122.79 126.16 L123.39 126.11 L123.99 126.06 L124.59 126.01 L125.19 125.96 L125.79 125.90 L126.39 125.84 L126.99 125.79 L127.59 125.73 L128.19 125.66 L128.79 125.60 L129.39 125.53 L129.99 125.47 L130.59 125.40 L131.20 125.33 L131.80 125.26 L132.40 125.18 L133.00 125.11 L133.60 125.03 L134.20 124.95 L134.80 124.87 L135.40 124.79 L136.00 124.70 L136.60 124.62 L137.20 124.53 L137.80 124.44 L138.40 124.35 L139.00 124.25 L139.60 124.16 L140.20 124.06 L140.80 123.96 L141.40 123.86 L142.01 123.75 L142.61 123.65 L143.21 123.54 L143.81 123.43 L144.41 123.32 L145.01 123.21 L145.61 123.09 L146.21 122.97 L146.81 122.85 L147.41 122.73 L148.01 122.61 L148.61 122.49 L149.21 122.36 L149.81 122.23 L150.41 122.10 L151.01 121.97 L151.61 121.83 L152.21 121.70 L152.82 121.56 L153.42 121.42 L154.02 121.28 L154.62 121.14 L155.22 121.00 L155.82 120.85 L156.42 120.70 L157.02 120.55 L157.62 120.41 L158.22 120.25 L158.82 120.10 L159.42 119.95 L160.02 119.79 L160.62 119.64 L161.22 119.48 L161.82 119.32 L162.42 119.16 L163.02 119.01 L163.63 118.85 L164.23 118.68 L164.83 118.52 L165.43 118.36 L166.03 118.20 L166.63 118.04 L167.23 117.87 L167.83 117.71 L168.43 117.55 L169.03 117.39 L169.63 117.22 L170.23 117.06 L170.83 116.90 L171.43 116.74 L172.03 116.58 L172.63 116.42 L173.23 116.26 L173.83 116.11 L174.44 115.95 L175.04 115.80 L175.64 115.65 L176.24 115.50 L176.84 115.35 L177.44 115.20 L178.04 115.06 L178.64 114.91 L179.24 114.77 L179.84 114.63 L180.44 114.50 L181.04 114.37 L181.64 114.24 L182.24 114.11 L182.84 113.99 L183.44 113.87 L184.04 113.76 L184.64 113.65 L185.25 113.55 L185.85 113.45 L186.45 113.36 L187.05 113.28 L187.65 113.20 L188.25 113.13 L188.85 113.06 L189.45 113.00 L190.05 112.95 L190.65 112.91 L191.25 112.87 L191.85 112.84 L192.45 112.82 L193.05 112.80 L193.65 112.79 L194.25 112.80 L194.85 112.79 L195.45 112.79 L196.06 112.80 L196.66 112.82 L197.26 112.84 L197.86 112.87 L198.46 112.91 L199.06 112.96 L199.66 113.02 L200.26 113.08 L200.86 113.15 L201.46 113.23 L202.06 113.32 L202.66 113.42 L203.26 113.53 L203.86 113.65 L204.46 113.77 L205.06 113.90 L205.66 114.04 L206.27 114.19 L206.87 114.35 L207.47 114.51 L208.07 114.68 L208.67 114.86 L209.27 115.05 L209.87 115.25 L210.47 115.45 L211.07 115.66 L211.67 115.88 L212.27 116.10 L212.87 116.33 L213.47 116.56 L214.07 116.80 L214.67 117.05 L215.27 117.30 L215.87 117.56 L216.47 117.82 L217.08 118.08 L217.68 118.35 L218.28 118.62 L218.88 118.90 L219.48 119.17 L220.08 119.45 L220.68 119.74 L221.28 120.02 L221.88 120.30 L222.48 120.59 L223.08 120.88 L223.68 121.16 L224.28 121.45 L224.88 121.73 L225.48 122.01 L226.08 122.30 L226.68 122.57 L227.28 122.85 L227.89 123.12 L228.49 123.39 L229.09 123.65 L229.69 123.91 L230.29 124.17 L230.89 124.42 L231.49 124.66 L232.09 124.90 L232.69 125.12 L233.29 125.34 L233.89 125.56 L234.49 125.76 L235.09 125.96 L235.69 126.14 L236.29 126.32 L236.89 126.48 L237.49 126.63 L238.09 126.78 L238.70 126.91 L239.30 127.03 L239.90 127.13 L240.50 127.23 L241.10 127.31 L241.70 127.37 L242.30 127.43 L242.90 127.47 L243.50 127.50 L244.10 127.48 L244.70 127.44 L245.30 127.39 L245.90 127.33 L246.50 127.25 L247.10 127.16 L247.70 127.06 L248.30 126.95 L248.90 126.82 L249.51 126.68 L250.11 126.53 L250.71 126.37 L251.31 126.20 L251.91 126.02 L252.51 125.83 L253.11 125.63 L253.71 125.42 L254.31 125.20 L254.91 124.97 L255.51 124.74 L256.11 124.50 L256.71 124.25 L257.31 124.00 L257.91 123.74 L258.51 123.48 L259.11 123.21 L259.71 122.94 L260.32 122.67 L260.92 122.39 L261.52 122.11 L262.12 121.83 L262.72 121.54 L263.32 121.26 L263.92 120.97 L264.52 120.69 L265.12 120.40 L265.72 120.12 L266.32 119.83 L266.92 119.55 L267.52 119.27 L268.12 118.99 L268.72 118.71 L269.32 118.44 L269.92 118.17 L270.53 117.90 L271.13 117.64 L271.73 117.38 L272.33 117.13 L272.93 116.88 L273.53 116.64 L274.13 116.40 L274.73 116.17 L275.33 115.95 L275.93 115.73 L276.53 115.52 L277.13 115.31 L277.73 115.12 L278.33 114.93 L278.93 114.74 L279.53 114.57 L280.13 114.40 L280.73 114.24 L281.34 114.09 L281.94 113.95 L282.54 113.81 L283.14 113.69 L283.74 113.57 L284.34 113.46 L284.94 113.36 L285.54 113.26 L286.14 113.18 L286.74 113.10 L287.34 113.04 L287.94 112.98 L288.54 112.93 L289.14 112.88 L289.74 112.85 L290.34 112.82 L290.94 112.81 L291.54 112.80 L292.15 112.79 L292.75 112.80 L293.35 112.79 L293.95 112.80 L294.55 112.81 L295.15 112.83 L295.75 112.86 L296.35 112.89 L296.95 112.93 L297.55 112.98 L298.15 113.04 L298.75 113.10 L299.35 113.17 L299.95 113.25 L300.55 113.33 L301.15 113.42 L301.75 113.52 L302.35 113.62 L302.96 113.72 L303.56 113.83 L304.16 113.95 L304.76 114.07 L305.36 114.19 L305.96 114.32 L306.56 114.45 L307.16 114.59 L307.76 114.73 L308.36 114.87 L308.96 115.01 L309.56 115.16 L310.16 115.30 L310.76 115.45 L311.36 115.60 L311.96 115.75 L312.56 115.90 L313.16 116.06 L313.77 116.21 L314.37 116.37 L314.97 116.53 L315.57 116.69 L316.17 116.85 L316.77 117.01 L317.37 117.17 L317.97 117.33 L318.57 117.49 L319.17 117.66 L319.77 117.82 L320.37 117.98 L320.97 118.14 L321.57 118.31 L322.17 118.47 L322.77 118.63 L323.37 118.79 L323.97 118.95 L324.58 119.11 L325.18 119.27 L325.78 119.43 L326.38 119.59 L326.98 119.74 L327.58 119.90 L328.18 120.05 L328.78 120.20 L329.38 120.36 L329.98 120.51 L330.58 120.65 L331.18 120.80 L331.78 120.95 L332.38 121.09 L332.98 121.23 L333.58 121.38 L334.18 121.51 L334.78 121.65 L335.39 121.79 L335.99 121.92 L336.59 122.06 L337.19 122.19 L337.79 122.32 L338.39 122.44 L338.99 122.57 L339.59 122.69 L340.19 122.81 L340.79 122.93 L341.39 123.05 L341.99 123.17 L342.59 123.28 L343.19 123.39 L343.79 123.50 L344.39 123.61 L344.99 123.72 L345.60 123.82 L346.20 123.93 L346.80 124.03 L347.40 124.12 L348.00 124.22 L348.60 124.32 L349.20 124.41 L349.80 124.50 L350.40 124.59 L351.00 124.68 L351.60 124.76 L352.20 124.84 L352.80 124.93 L353.40 125.01 L354.00 125.08 L354.60 125.16 L355.20 125.23 L355.80 125.31 L356.41 125.38 L357.01 125.45 L357.61 125.51 L358.21 125.58 L358.81 125.64 L359.41 125.70 L360.01 125.77 L360.61 125.82 L361.21 125.88 L361.81 125.94 L362.41 125.99 L363.01 126.05 L363.61 126.10 L364.21 126.15 L364.81 126.20 L365.41 126.24 L366.01 126.29 L366.61 126.33 L367.22 126.38 L367.82 126.42 L368.42 126.46 L369.02 126.50 L369.62 126.54 L370.22 126.57 L370.82 126.61 L371.42 126.64 L372.02 126.68 L372.62 126.71 L373.22 126.74 L373.82 126.77 L374.42 126.80 L375.02 126.83 L375.62 126.85 L376.22 126.88 L376.82 126.91 L377.42 126.93 L378.03 126.95 L378.63 126.98 L379.23 127.00 L379.83 127.02 L380.43 127.04 L381.03 127.06 L381.63 127.08 L382.23 127.10 L382.83 127.12 L383.43 127.13 L384.03 127.15 L384.63 127.16 L385.23 127.18 L385.83 127.19 L386.43 127.21 L387.03 127.22 L387.63 127.23 L388.23 127.25 L388.84 127.26 L389.44 127.27 L390.04 127.28 L390.64 127.29 L391.24 127.30 L391.84 127.31 L392.44 127.32 L393.04 127.33 L393.64 127.34 L394.24 127.34 L394.84 127.35 L395.44 127.36 L396.04 127.37 L396.64 127.37 L397.24 127.38 L397.84 127.38 L398.44 127.39 L399.04 127.40 L399.65 127.40 L400.25 127.41 L400.85 127.41 L401.45 127.42 L402.05 127.42 L402.65 127.42 L403.25 127.43 L403.85 127.43 L404.45 127.44 L405.05 127.44 L405.65 127.44 L406.25 127.44 L406.85 127.45 L407.45 127.45 L408.05 127.45 L408.65 127.46 L409.25 127.46 L409.86 127.46 L410.46 127.46 L411.06 127.46 L411.66 127.47 L412.26 127.47 L412.86 127.47 L413.46 127.47 L414.06 127.47 L414.66 127.48 L415.26 127.48 L415.86 127.48 L416.46 127.48 L417.06 127.48 L417.66 127.48 L418.26 127.48 L418.86 127.48 L419.46 127.48 L420.06 127.49 L420.67 127.49 L421.27 127.49 L421.87 127.49 L422.47 127.49 L423.07 127.49 L423.67 127.49 L424.27 127.49 L424.87 127.49 L425.47 127.49 L425.47 127.49 L424.87 127.49 L424.27 127.49 L423.67 127.49 L423.07 127.49 L422.47 127.49 L421.87 127.49 L421.27 127.49 L420.67 127.49 L420.06 127.49 L419.46 127.48 L418.86 127.48 L418.26 127.48 L417.66 127.48 L417.06 127.48 L416.46 127.48 L415.86 127.48 L415.26 127.48 L414.66 127.48 L414.06 127.47 L413.46 127.47 L412.86 127.47 L412.26 127.47 L411.66 127.47 L411.06 127.47 L410.46 127.46 L409.86 127.46 L409.25 127.46 L408.65 127.46 L408.05 127.45 L407.45 127.45 L406.85 127.45 L406.25 127.45 L405.65 127.44 L405.05 127.44 L404.45 127.44 L403.85 127.43 L403.25 127.43 L402.65 127.43 L402.05 127.42 L401.45 127.42 L400.85 127.41 L400.25 127.41 L399.65 127.40 L399.04 127.40 L398.44 127.39 L397.84 127.39 L397.24 127.38 L396.64 127.37 L396.04 127.37 L395.44 127.36 L394.84 127.35 L394.24 127.35 L393.64 127.34 L393.04 127.33 L392.44 127.32 L391.84 127.31 L391.24 127.30 L390.64 127.29 L390.04 127.28 L389.44 127.27 L388.84 127.26 L388.23 127.25 L387.63 127.24 L387.03 127.23 L386.43 127.21 L385.83 127.20 L385.23 127.18 L384.63 127.17 L384.03 127.15 L383.43 127.14 L382.83 127.12 L382.23 127.10 L381.63 127.09 L381.03 127.07 L380.43 127.05 L379.83 127.03 L379.23 127.01 L378.63 126.99 L378.03 126.96 L377.42 126.94 L376.82 126.92 L376.22 126.89 L375.62 126.87 L375.02 126.84 L374.42 126.81 L373.82 126.78 L373.22 126.75 L372.62 126.72 L372.02 126.69 L371.42 126.66 L370.82 126.62 L370.22 126.59 L369.62 126.55 L369.02 126.51 L368.42 126.47 L367.82 126.43 L367.22 126.39 L366.61 126.35 L366.01 126.31 L365.41 126.26 L364.81 126.22 L364.21 126.17 L363.61 126.12 L363.01 126.07 L362.41 126.02 L361.81 125.96 L361.21 125.91 L360.61 125.85 L360.01 125.79 L359.41 125.73 L358.81 125.67 L358.21 125.61 L357.61 125.55 L357.01 125.48 L356.41 125.41 L355.80 125.34 L355.20 125.27 L354.60 125.20 L354.00 125.13 L353.40 125.05 L352.80 124.97 L352.20 124.89 L351.60 124.81 L351.00 124.73 L350.40 124.64 L349.80 124.56 L349.20 124.47 L348.60 124.38 L348.00 124.29 L347.40 124.20 L346.80 124.10 L346.20 124.00 L345.60 123.91 L344.99 123.81 L344.39 123.70 L343.79 123.60 L343.19 123.50 L342.59 123.39 L341.99 123.28 L341.39 123.17 L340.79 123.06 L340.19 122.95 L339.59 122.83 L338.99 122.72 L338.39 122.60 L337.79 122.48 L337.19 122.36 L336.59 122.24 L335.99 122.12 L335.39 122.00 L334.78 121.87 L334.18 121.75 L333.58 121.62 L332.98 121.49 L332.38 121.36 L331.78 121.23 L331.18 121.10 L330.58 120.97 L329.98 120.84 L329.38 120.71 L328.78 120.58 L328.18 120.44 L327.58 120.31 L326.98 120.18 L326.38 120.04 L325.78 119.91 L325.18 119.77 L324.58 119.64 L323.97 119.51 L323.37 119.37 L322.77 119.24 L322.17 119.11 L321.57 118.98 L320.97 118.84 L320.37 118.71 L319.77 118.58 L319.17 118.45 L318.57 118.33 L317.97 118.20 L317.37 118.07 L316.77 117.95 L316.17 117.82 L315.57 117.70 L314.97 117.58 L314.37 117.46 L313.77 117.35 L313.16 117.23 L312.56 117.12 L311.96 117.01 L311.36 116.90 L310.76 116.79 L310.16 116.69 L309.56 116.58 L308.96 116.49 L308.36 116.39 L307.76 116.30 L307.16 116.21 L306.56 116.13 L305.96 116.05 L305.36 115.97 L304.76 115.89 L304.16 115.82 L303.56 115.75 L302.96 115.68 L302.35 115.61 L301.75 115.55 L301.15 115.49 L300.55 115.44 L299.95 115.38 L299.35 115.33 L298.75 115.29 L298.15 115.24 L297.55 115.20 L296.95 115.16 L296.35 115.13 L295.75 115.10 L295.15 115.07 L294.55 115.05 L293.95 115.03 L293.35 115.01 L292.75 115.00 L292.15 115.01 L291.54 115.03 L290.94 115.05 L290.34 115.07 L289.74 115.10 L289.14 115.14 L288.54 115.18 L287.94 115.22 L287.34 115.28 L286.74 115.33 L286.14 115.40 L285.54 115.46 L284.94 115.54 L284.34 115.62 L283.74 115.71 L283.14 115.80 L282.54 115.90 L281.94 116.00 L281.34 116.11 L280.73 116.23 L280.13 116.35 L279.53 116.48 L278.93 116.62 L278.33 116.76 L277.73 116.91 L277.13 117.07 L276.53 117.23 L275.93 117.40 L275.33 117.57 L274.73 117.75 L274.13 117.94 L273.53 118.14 L272.93 118.34 L272.33 118.54 L271.73 118.75 L271.13 118.97 L270.53 119.19 L269.92 119.42 L269.32 119.65 L268.72 119.89 L268.12 120.13 L267.52 120.37 L266.92 120.62 L266.32 120.87 L265.72 121.13 L265.12 121.39 L264.52 121.64 L263.92 121.90 L263.32 122.16 L262.72 122.42 L262.12 122.69 L261.52 122.94 L260.92 123.20 L260.32 123.46 L259.71 123.71 L259.11 123.96 L258.51 124.21 L257.91 124.45 L257.31 124.69 L256.71 124.92 L256.11 125.14 L255.51 125.36 L254.91 125.57 L254.31 125.77 L253.71 125.96 L253.11 126.15 L252.51 126.32 L251.91 126.49 L251.31 126.64 L250.71 126.78 L250.11 126.91 L249.51 127.03 L248.90 127.13 L248.30 127.23 L247.70 127.31 L247.10 127.38 L246.50 127.43 L245.90 127.47 L245.30 127.50 L244.70 127.50 L244.10 127.50 L243.50 127.50 L242.90 127.50 L242.30 127.50 L241.70 127.49 L241.10 127.46 L240.50 127.41 L239.90 127.35 L239.30 127.28 L238.70 127.20 L238.09 127.10 L237.49 126.99 L236.89 126.87 L236.29 126.73 L235.69 126.59 L235.09 126.43 L234.49 126.26 L233.89 126.09 L233.29 125.90 L232.69 125.70 L232.09 125.50 L231.49 125.29 L230.89 125.07 L230.29 124.84 L229.69 124.61 L229.09 124.37 L228.49 124.13 L227.89 123.88 L227.28 123.63 L226.68 123.37 L226.08 123.12 L225.48 122.86 L224.88 122.60 L224.28 122.34 L223.68 122.08 L223.08 121.82 L222.48 121.56 L221.88 121.30 L221.28 121.04 L220.68 120.79 L220.08 120.54 L219.48 120.29 L218.88 120.05 L218.28 119.81 L217.68 119.57 L217.08 119.34 L216.47 119.12 L215.87 118.90 L215.27 118.68 L214.67 118.47 L214.07 118.27 L213.47 118.07 L212.87 117.88 L212.27 117.69 L211.67 117.51 L211.07 117.34 L210.47 117.17 L209.87 117.01 L209.27 116.86 L208.67 116.71 L208.07 116.57 L207.47 116.44 L206.87 116.31 L206.27 116.19 L205.66 116.07 L205.06 115.97 L204.46 115.86 L203.86 115.77 L203.26 115.68 L202.66 115.59 L202.06 115.51 L201.46 115.44 L200.86 115.37 L200.26 115.31 L199.66 115.26 L199.06 115.21 L198.46 115.16 L197.86 115.12 L197.26 115.09 L196.66 115.06 L196.06 115.04 L195.45 115.02 L194.85 115.01 L194.25 115.01 L193.65 115.02 L193.05 115.03 L192.45 115.06 L191.85 115.08 L191.25 115.11 L190.65 115.14 L190.05 115.18 L189.45 115.21 L188.85 115.26 L188.25 115.30 L187.65 115.35 L187.05 115.40 L186.45 115.45 L185.85 115.51 L185.25 115.57 L184.64 115.63 L184.04 115.70 L183.44 115.77 L182.84 115.84 L182.24 115.92 L181.64 115.99 L181.04 116.07 L180.44 116.16 L179.84 116.24 L179.24 116.33 L178.64 116.42 L178.04 116.52 L177.44 116.62 L176.84 116.72 L176.24 116.83 L175.64 116.93 L175.04 117.04 L174.44 117.16 L173.83 117.27 L173.23 117.39 L172.63 117.50 L172.03 117.62 L171.43 117.74 L170.83 117.87 L170.23 117.99 L169.63 118.11 L169.03 118.24 L168.43 118.37 L167.83 118.50 L167.23 118.63 L166.63 118.76 L166.03 118.89 L165.43 119.02 L164.83 119.15 L164.23 119.28 L163.63 119.42 L163.02 119.55 L162.42 119.69 L161.82 119.82 L161.22 119.95 L160.62 120.09 L160.02 120.22 L159.42 120.35 L158.82 120.49 L158.22 120.62 L157.62 120.75 L157.02 120.88 L156.42 121.02 L155.82 121.15 L155.22 121.28 L154.62 121.41 L154.02 121.53 L153.42 121.66 L152.82 121.79 L152.21 121.91 L151.61 122.04 L151.01 122.16 L150.41 122.28 L149.81 122.40 L149.21 122.52 L148.61 122.64 L148.01 122.76 L147.41 122.87 L146.81 122.99 L146.21 123.10 L145.61 123.21 L145.01 123.32 L144.41 123.43 L143.81 123.53 L143.21 123.64 L142.61 123.74 L142.01 123.84 L141.40 123.94 L140.80 124.04 L140.20 124.13 L139.60 124.23 L139.00 124.32 L138.40 124.41 L137.80 124.50 L137.20 124.59 L136.60 124.67 L136.00 124.76 L135.40 124.84 L134.80 124.92 L134.20 125.00 L133.60 125.08 L133.00 125.15 L132.40 125.22 L131.80 125.30 L131.20 125.37 L130.59 125.44 L129.99 125.50 L129.39 125.57 L128.79 125.63 L128.19 125.69 L127.59 125.75 L126.99 125.81 L126.39 125.87 L125.79 125.93 L125.19 125.98 L124.59 126.03 L123.99 126.09 L123.39 126.14 L122.79 126.18 L122.19 126.23 L121.59 126.28 L120.99 126.32 L120.38 126.37 L119.78 126.41 L119.18 126.45 L118.58 126.49 L117.98 126.53 L117.38 126.56 L116.78 126.60 L116.18 126.63 L115.58 126.67 L114.98 126.70 L114.38 126.73 L113.78 126.76 L113.18 126.79 L112.58 126.82 L111.98 126.85 L111.38 126.87 L110.78 126.90 L110.18 126.92 L109.57 126.95 L108.97 126.97 L108.37 126.99 L107.77 127.01 L107.17 127.04 L106.57 127.06 L105.97 127.07 L105.37 127.09 L104.77 127.11 L104.17 127.13 L103.57 127.14 L102.97 127.16 L102.37 127.18 L101.77 127.19 L101.17 127.20 L100.57 127.22 L99.97 127.23 L99.37 127.24 L98.76 127.25 L98.16 127.27 L97.56 127.28 L96.96 127.29 L96.36 127.30 L95.76 127.31 L95.16 127.32 L94.56 127.32 L93.96 127.33 L93.36 127.34 L92.76 127.35 L92.16 127.36 L91.56 127.36 L90.96 127.37 L90.36 127.38 L89.76 127.38 L89.16 127.39 L88.56 127.39 L87.95 127.40 L87.35 127.40 L86.75 127.41 L86.15 127.41 L85.55 127.42 L84.95 127.42 L84.35 127.43 L83.75 127.43 L83.15 127.43 L82.55 127.44 L81.95 127.44 L81.35 127.44 L80.75 127.45 L80.15 127.45 L79.55 127.45 L78.95 127.46 L78.35 127.46 L77.75 127.46 L77.14 127.46 L76.54 127.46 L75.94 127.47 L75.34 127.47 L74.74 127.47 L74.14 127.47 L73.54 127.47 L72.94 127.47 L72.34 127.48 L71.74 127.48 L71.14 127.48 L70.54 127.48 L69.94 127.48 L69.34 127.48 L68.74 127.48 L68.14 127.48 L67.54 127.49 L66.94 127.49 L66.33 127.49 L65.73 127.49 L65.13 127.49 L64.53 127.49 L63.93 127.49 L63.33 127.49 L62.73 127.49 L62.13 127.49 L61.53 127.49 Z" fill="#a4a4f4"/>
<path d="M61.53 127.49 L62.13 127.49 L62.73 127.49 L63.33 127.49 L63.93 127.49 L64.53 127.49 L65.13 127.49 L65.73 127.49 L66.33 127.49 L66.94 127.49 L67.54 127.49 L68.14 127.48 L68.74 127.48 L69.34 127.48 L69.94 127.48 L70.54 127.48 L71.14 127.48 L71.74 127.48 L72.34 127.48 L72.94 127.47 L73.54 127.47 L74.14 127.47 L74.74 127.47 L75.34 127.47 L75.94 127.47 L76.54 127.46 L77.14 127.46 L77.75 127.46 L78.35 127.46 L78.95 127.45 L79.55 127.45 L80.15 127.45 L80.75 127.45 L81.35 127.44 L81.95 127.44 L82.55 127.44 L83.15 127.43 L83.75 127.43 L84.35 127.43 L84.95 127.42 L85.55 127.42 L86.15 127.41 L86.75 127.41 L87.35 127.40 L87.95 127.40 L88.56 127.39 L89.16 127.39 L89.76 127.38 L90.36 127.38 L90.96 127.37 L91.56 127.36 L92.16 127.35 L92.76 127.35 L93.36 127.34 L93.96 127.33 L94.56 127.32 L95.16 127.31 L95.76 127.30 L96.36 127.29 L96.96 127.28 L97.56 127.27 L98.16 127.26 L98.76 127.25 L99.37 127.24 L99.97 127.23 L100.57 127.21 L101.17 127.20 L101.77 127.19 L102.37 127.17 L102.97 127.16 L103.57 127.14 L104.17 127.12 L104.77 127.11 L105.37 127.09 L105.97 127.07 L106.57 127.05 L107.17 127.03 L107.77 127.01 L108.37 126.99 L108.97 126.97 L109.57 126.94 L110.18 126.92 L110.78 126.89 L111.38 126.87 L111.98 126.84 L112.58 126.81 L113.18 126.79 L113.78 126.76 L114.38 126.73 L114.98 126.69 L115.58 126.66 L116.18 126.63 L116.78 126.59 L117.38 126.56 L117.98 126.52 L118.58 126.48 L119.18 126.44 L119.78 126.40 L120.38 126.36 L120.99 126.31 L121.59 126.27 L122.19 126.22 L122.79 126.17 L123.39 126.12 L123.99 126.07 L124.59 126.02 L125.19 125.97 L125.79 125.91 L126.39 125.86 L126.99 125.80 L127.59 125.74 L128.19 125.68 L128.79 125.62 L129.39 125.55 L129.99 125.49 L130.59 125.42 L131.20 125.35 L131.80 125.28 L132.40 125.20 L133.00 125.13 L133.60 125.05 L134.20 124.98 L134.80 124.90 L135.40 124.81 L136.00 124.73 L136.60 124.65 L137.20 124.56 L137.80 124.47 L138.40 124.38 L139.00 124.29 L139.60 124.19 L140.20 124.10 L140.80 124.00 L141.40 123.90 L142.01 123.80 L142.61 123.69 L143.21 123.59 L143.81 123.48 L144.41 123.37 L145.01 123.26 L145.61 123.15 L146.21 123.04 L146.81 122.92 L147.41 122.80 L148.01 122.68 L148.61 122.56 L149.21 122.44 L149.81 122.32 L150.41 122.19 L151.01 122.06 L151.61 121.94 L152.21 121.81 L152.82 121.67 L153.42 121.54 L154.02 121.41 L154.62 121.27 L155.22 121.14 L155.82 121.00 L156.42 120.86 L157.02 120.72 L157.62 120.58 L158.22 120.44 L158.82 120.29 L159.42 120.15 L160.02 120.01 L160.62 119.86 L161.22 119.72 L161.82 119.57 L162.42 119.43 L163.02 119.28 L163.63 119.13 L164.23 118.98 L164.83 118.84 L165.43 118.69 L166.03 118.54 L166.63 118.40 L167.23 118.25 L167.83 118.10 L168.43 117.96 L169.03 117.81 L169.63 117.67 L170.23 117.53 L170.83 117.38 L171.43 117.24 L172.03 117.10 L172.63 116.96 L173.23 116.82 L173.83 116.69 L174.44 116.55 L175.04 116.42 L175.64 116.29 L176.24 116.16 L176.84 116.04 L177.44 115.91 L178.04 115.79 L178.64 115.67 L179.24 115.55 L179.84 115.44 L180.44 115.33 L181.04 115.22 L181.64 115.11 L182.24 115.01 L182.84 114.92 L183.44 114.82 L184.04 114.73 L184.64 114.64 L185.25 114.56 L185.85 114.48 L186.45 114.41 L187.05 114.34 L187.65 114.27 L188.25 114.21 L188.85 114.16 L189.45 114.11 L190.05 114.06 L190.65 114.02 L191.25 113.99 L191.85 113.96 L192.45 113.94 L193.05 113.92 L193.65 113.91 L194.25 113.90 L194.85 113.90 L195.45 113.91 L196.06 113.92 L196.66 113.94 L197.26 113.97 L197.86 114.00 L198.46 114.04 L199.06 114.08 L199.66 114.14 L200.26 114.20 L200.86 114.26 L201.46 114.34" fill="none" stroke="#2a2aec" stroke-width="1.35"/>
<path d="M285.54 114.36 L286.14 114.29 L286.74 114.22 L287.34 114.16 L287.94 114.10 L288.54 114.05 L289.14 114.01 L289.74 113.98 L290.34 113.95 L290.94 113.93 L291.54 113.91 L292.15 113.90 L292.75 113.90 L293.35 113.90 L293.95 113.91 L294.55 113.93 L295.15 113.95 L295.75 113.98 L296.35 114.01 L296.95 114.05 L297.55 114.09 L298.15 114.14 L298.75 114.20 L299.35 114.25 L299.95 114.32 L300.55 114.39 L301.15 114.46 L301.75 114.53 L302.35 114.62 L302.96 114.70 L303.56 114.79 L304.16 114.88 L304.76 114.98 L305.36 115.08 L305.96 115.18 L306.56 115.29 L307.16 115.40 L307.76 115.51 L308.36 115.63 L308.96 115.75 L309.56 115.87 L310.16 115.99 L310.76 116.12 L311.36 116.25 L311.96 116.38 L312.56 116.51 L313.16 116.64 L313.77 116.78 L314.37 116.92 L314.97 117.05 L315.57 117.19 L316.17 117.34 L316.77 117.48 L317.37 117.62 L317.97 117.77 L318.57 117.91 L319.17 118.06 L319.77 118.20 L320.37 118.35 L320.97 118.49 L321.57 118.64 L322.17 118.79 L322.77 118.94 L323.37 119.08 L323.97 119.23 L324.58 119.38 L325.18 119.52 L325.78 119.67 L326.38 119.81 L326.98 119.96 L327.58 120.10 L328.18 120.25 L328.78 120.39 L329.38 120.53 L329.98 120.67 L330.58 120.81 L331.18 120.95 L331.78 121.09 L332.38 121.23 L332.98 121.36 L333.58 121.50 L334.18 121.63 L334.78 121.76 L335.39 121.89 L335.99 122.02 L336.59 122.15 L337.19 122.27 L337.79 122.40 L338.39 122.52 L338.99 122.64 L339.59 122.76 L340.19 122.88 L340.79 123.00 L341.39 123.11 L341.99 123.22 L342.59 123.34 L343.19 123.45 L343.79 123.55 L344.39 123.66 L344.99 123.76 L345.60 123.86 L346.20 123.97 L346.80 124.06 L347.40 124.16 L348.00 124.26 L348.60 124.35 L349.20 124.44 L349.80 124.53 L350.40 124.62 L351.00 124.70 L351.60 124.79 L352.20 124.87 L352.80 124.95 L353.40 125.03 L354.00 125.10 L354.60 125.18 L355.20 125.25 L355.80 125.32 L356.41 125.39 L357.01 125.46 L357.61 125.53 L358.21 125.59 L358.81 125.66 L359.41 125.72 L360.01 125.78 L360.61 125.84 L361.21 125.90 L361.81 125.95 L362.41 126.00 L363.01 126.06 L363.61 126.11 L364.21 126.16 L364.81 126.21 L365.41 126.25 L366.01 126.30 L366.61 126.34 L367.22 126.38 L367.82 126.43 L368.42 126.47 L369.02 126.51 L369.62 126.54 L370.22 126.58 L370.82 126.62 L371.42 126.65 L372.02 126.68 L372.62 126.71 L373.22 126.75 L373.82 126.78 L374.42 126.80 L375.02 126.83 L375.62 126.86 L376.22 126.89 L376.82 126.91 L377.42 126.94 L378.03 126.96 L378.63 126.98 L379.23 127.00 L379.83 127.02 L380.43 127.04 L381.03 127.06 L381.63 127.08 L382.23 127.10 L382.83 127.12 L383.43 127.14 L384.03 127.15 L384.63 127.17 L385.23 127.18 L385.83 127.20 L386.43 127.21 L387.03 127.22 L387.63 127.24 L388.23 127.25 L388.84 127.26 L389.44 127.27 L390.04 127.28 L390.64 127.29 L391.24 127.30 L391.84 127.31 L392.44 127.32 L393.04 127.33 L393.64 127.34 L394.24 127.34 L394.84 127.35 L395.44 127.36 L396.04 127.37 L396.64 127.37 L397.24 127.38 L397.84 127.39 L398.44 127.39 L399.04 127.40 L399.65 127.40 L400.25 127.41 L400.85 127.41 L401.45 127.42 L402.05 127.42 L402.65 127.42 L403.25 127.43 L403.85 127.43 L404.45 127.44 L405.05 127.44 L405.65 127.44 L406.25 127.45 L406.85 127.45 L407.45 127.45 L408.05 127.45 L408.65 127.46 L409.25 127.46 L409.86 127.46 L410.46 127.46 L411.06 127.47 L411.66 127.47 L412.26 127.47 L412.86 127.47 L413.46 127.47 L414.06 127.47 L414.66 127.48 L415.26 127.48 L415.86 127.48 L416.46 127.48 L417.06 127.48 L417.66 127.48 L418.26 127.48 L418.86 127.48 L419.46 127.48 L420.06 127.49 L420.67 127.49 L421.27 127.49 L421.87 127.49 L422.47 127.49 L423.07 127.49 L423.67 127.49 L424.27 127.49 L424.87 127.49 L425.47 127.49" fill="none" stroke="#2a2aec" stroke-width="1.35"/>
<path d="M202.06 114.42 L202.66 114.51 L203.26 114.60 L203.86 114.71 L204.46 114.82 L205.06 114.93 L205.66 115.06 L206.27 115.19 L206.87 115.33 L207.47 115.48 L208.07 115.63 L208.67 115.79 L209.27 115.96 L209.87 116.13 L210.47 116.31 L211.07 116.50 L211.67 116.69 L212.27 116.90 L212.87 117.10 L213.47 117.32 L214.07 117.54 L214.67 117.76 L215.27 117.99 L215.87 118.23 L216.47 118.47 L217.08 118.71 L217.68 118.96 L218.28 119.22 L218.88 119.47 L219.48 119.73 L220.08 120.00 L220.68 120.26 L221.28 120.53 L221.88 120.80 L222.48 121.07 L223.08 121.35 L223.68 121.62 L224.28 121.89 L224.88 122.16 L225.48 122.44 L226.08 122.71 L226.68 122.97 L227.28 123.24 L227.89 123.50 L228.49 123.76 L229.09 124.01 L229.69 124.26 L230.29 124.51 L230.89 124.74 L231.49 124.97 L232.09 125.20 L232.69 125.41 L233.29 125.62 L233.89 125.82 L234.49 126.01 L235.09 126.19 L235.69 126.36 L236.29 126.52 L236.89 126.67 L237.49 126.81 L238.09 126.94 L238.70 127.05 L239.30 127.15 L239.90 127.24 L240.50 127.32 L241.10 127.38 L241.70 127.43 L242.30 127.47 L242.90 127.49 L243.50 127.50 L244.10 127.50 L244.70 127.48 L245.30 127.45 L245.90 127.40 L246.50 127.34 L247.10 127.27 L247.70 127.19 L248.30 127.09 L248.90 126.98 L249.51 126.86 L250.11 126.72 L250.71 126.58 L251.31 126.42 L251.91 126.25 L252.51 126.07 L253.11 125.89 L253.71 125.69 L254.31 125.48 L254.91 125.27 L255.51 125.05 L256.11 124.82 L256.71 124.59 L257.31 124.34 L257.91 124.10 L258.51 123.84 L259.11 123.59 L259.71 123.33 L260.32 123.06 L260.92 122.80 L261.52 122.53 L262.12 122.26 L262.72 121.98 L263.32 121.71 L263.92 121.44 L264.52 121.16 L265.12 120.89 L265.72 120.62 L266.32 120.35 L266.92 120.09 L267.52 119.82 L268.12 119.56 L268.72 119.30 L269.32 119.05 L269.92 118.79 L270.53 118.55 L271.13 118.31 L271.73 118.07 L272.33 117.84 L272.93 117.61 L273.53 117.39 L274.13 117.17 L274.73 116.96 L275.33 116.76 L275.93 116.56 L276.53 116.37 L277.13 116.19 L277.73 116.01 L278.33 115.84 L278.93 115.68 L279.53 115.53 L280.13 115.38 L280.73 115.24 L281.34 115.10 L281.94 114.97 L282.54 114.85 L283.14 114.74 L283.74 114.64 L284.34 114.54 L284.94 114.45" fill="none" stroke="#4646ec" stroke-width="1.1"/>
<line x1="61.53" y1="127.50" x2="98.76" y2="127.50" stroke="#3030ee" stroke-width="2.0"/>
<line x1="240.10" y1="127.50" x2="247.10" y2="127.50" stroke="#3030ee" stroke-width="2.0"/>
<line x1="388.44" y1="127.50" x2="425.87" y2="127.50" stroke="#3030ee" stroke-width="2.0"/>
<line x1="61.50" y1="117.02" x2="63.50" y2="117.02" stroke="#909090" stroke-width="0.6"/>
<text transform="translate(60.50 119.82) scale(1.000 1)" text-anchor="end" style="font-family:'Liberation Sans',sans-serif;font-size:8.00px;font-kerning:none" fill="#000" stroke="#000" stroke-width="0.12">2</text>
<line x1="61.50" y1="106.54" x2="63.50" y2="106.54" stroke="#909090" stroke-width="0.6"/>
<text transform="translate(60.50 109.34) scale(1.000 1)" text-anchor="end" style="font-family:'Liberation Sans',sans-serif;font-size:8.00px;font-kerning:none" fill="#000" stroke="#000" stroke-width="0.12">4</text>
<line x1="61.50" y1="96.06" x2="63.50" y2="96.06" stroke="#909090" stroke-width="0.6"/>
<text transform="translate(60.50 98.86) scale(1.000 1)" text-anchor="end" style="font-family:'Liberation Sans',sans-serif;font-size:8.00px;font-kerning:none" fill="#000" stroke="#000" stroke-width="0.12">6</text>
<line x1="61.50" y1="85.58" x2="63.50" y2="85.58" stroke="#909090" stroke-width="0.6"/>
<text transform="translate(60.50 88.38) scale(1.000 1)" text-anchor="end" style="font-family:'Liberation Sans',sans-serif;font-size:8.00px;font-kerning:none" fill="#000" stroke="#000" stroke-width="0.12">8</text>
<text transform="matrix(0.9834 0 0 0.9086 65.822 97.371)" x="0" y="0" fill="#111" stroke="#111" stroke-width="0.264" style="font-kerning:none" ><tspan style="font-family:'Liberation Serif',serif;font-style:normal;font-size:10.00px" y="0.00">×</tspan></text>
<text transform="matrix(0.9039 0 0 0.7410 72.206 96.128)" x="0" y="0" fill="#111" stroke="#111" stroke-width="0.122" style="font-kerning:none" ><tspan style="font-family:'Liberation Serif',serif;font-style:normal;font-size:10.00px" y="0.00">10</tspan></text>
<text transform="matrix(0.5663 0 0 0.4001 81.784 91.961)" x="0" y="0" fill="#111" stroke="#111" stroke-width="0.105" style="font-kerning:none" ><tspan style="font-family:'Liberation Serif',serif;font-style:normal;font-size:10.00px" y="0.00">8</tspan></text>
<text transform="translate(152.66 135.10) scale(1.000 1)" text-anchor="middle" style="font-family:'Liberation Sans',sans-serif;font-size:8.40px;font-kerning:none" fill="#000" stroke="#000" stroke-width="0.12">−50</text>
<text transform="translate(243.80 135.10) scale(1.000 1)" text-anchor="middle" style="font-family:'Liberation Sans',sans-serif;font-size:8.40px;font-kerning:none" fill="#000" stroke="#000" stroke-width="0.12">0</text>
<text transform="translate(334.94 135.10) scale(1.000 1)" text-anchor="middle" style="font-family:'Liberation Sans',sans-serif;font-size:8.40px;font-kerning:none" fill="#000" stroke="#000" stroke-width="0.12">50</text>
<text transform="translate(426.07 135.10) scale(1.000 1)" text-anchor="middle" style="font-family:'Liberation Sans',sans-serif;font-size:8.40px;font-kerning:none" fill="#000" stroke="#000" stroke-width="0.12">100</text>
<text transform="matrix(1.4912 0 0 1.2814 388.472 149.660)" x="0" y="0" fill="#111" stroke="#111" stroke-width="0.072" style="font-kerning:none" ><tspan style="font-family:'Liberation Serif',serif;font-style:italic;font-size:10.00px" y="0.00">θ</tspan><tspan style="font-family:'Liberation Serif',serif;font-style:normal;font-size:10.00px" y="0.00">(</tspan><tspan style="font-family:'Liberation Serif',serif;font-style:italic;font-size:10.00px" y="0.00">μ</tspan><tspan style="font-family:'Liberation Serif',serif;font-style:normal;font-size:10.00px" y="0.00">rad)</tspan></text>
<text transform="matrix(0 -1.6973 1.7258 0 38.300 127.109)" x="0" y="0" fill="#111" stroke="#111" stroke-width="0.058" style="font-kerning:none" ><tspan style="font-family:'Liberation Serif',serif;font-style:italic;font-size:10.00px" y="0.00">F</tspan></text>
<text transform="matrix(0 -1.2522 1.2352 0 32.170 114.550)" x="0" y="0" fill="#111" stroke="#111" stroke-width="0.080" style="font-kerning:none" ><tspan style="font-family:'Liberation Serif',serif;font-style:normal;font-size:10.00px" y="0.00">(1)</tspan></text>
<text transform="matrix(0 -1.5898 1.8090 0 39.049 96.999)" x="0" y="0" fill="#111" stroke="#111" stroke-width="0.059" style="font-kerning:none" ><tspan style="font-family:'Liberation Serif',serif;font-style:normal;font-size:10.00px" y="0.00">(</tspan><tspan style="font-family:'Liberation Serif',serif;font-style:italic;font-size:10.00px" y="0.00">θ</tspan><tspan style="font-family:'Liberation Serif',serif;font-style:normal;font-size:10.00px" y="0.00">)</tspan></text>
<line x1="62.50" y1="187.00" x2="426.50" y2="187.00" stroke="#c8c8c8" stroke-width="1"/>
<line x1="62.50" y1="194.50" x2="426.50" y2="194.50" stroke="#c8c8c8" stroke-width="1"/>
<line x1="62.50" y1="202.50" x2="426.50" y2="202.50" stroke="#c8c8c8" stroke-width="1"/>
<line x1="62.50" y1="210.50" x2="426.50" y2="210.50" stroke="#c8c8c8" stroke-width="1"/>
<line x1="62.50" y1="217.50" x2="426.50" y2="217.50" stroke="#c8c8c8" stroke-width="1"/>
<line x1="153.50" y1="179.50" x2="153.50" y2="225.50" stroke="#c8c8c8" stroke-width="1"/>
<line x1="153.50" y1="179.50" x2="153.50" y2="181.70" stroke="#666" stroke-width="1"/>
<line x1="153.50" y1="223.30" x2="153.50" y2="225.50" stroke="#666" stroke-width="1"/>
<line x1="244.50" y1="179.50" x2="244.50" y2="225.50" stroke="#c8c8c8" stroke-width="1"/>
<line x1="244.50" y1="179.50" x2="244.50" y2="181.70" stroke="#666" stroke-width="1"/>
<line x1="244.50" y1="223.30" x2="244.50" y2="225.50" stroke="#666" stroke-width="1"/>
<line x1="335.50" y1="179.50" x2="335.50" y2="225.50" stroke="#c8c8c8" stroke-width="1"/>
<line x1="335.50" y1="179.50" x2="335.50" y2="181.70" stroke="#666" stroke-width="1"/>
<line x1="335.50" y1="223.30" x2="335.50" y2="225.50" stroke="#666" stroke-width="1"/>
<line x1="62.50" y1="187.00" x2="64.50" y2="187.00" stroke="#666" stroke-width="1"/>
<line x1="424.50" y1="187.00" x2="426.50" y2="187.00" stroke="#666" stroke-width="1"/>
<line x1="62.50" y1="194.50" x2="64.50" y2="194.50" stroke="#666" stroke-width="1"/>
<line x1="424.50" y1="194.50" x2="426.50" y2="194.50" stroke="#666" stroke-width="1"/>
<line x1="62.50" y1="202.50" x2="64.50" y2="202.50" stroke="#666" stroke-width="1"/>
<line x1="424.50" y1="202.50" x2="426.50" y2="202.50" stroke="#666" stroke-width="1"/>
<line x1="62.50" y1="210.50" x2="64.50" y2="210.50" stroke="#666" stroke-width="1"/>
<line x1="424.50" y1="210.50" x2="426.50" y2="210.50" stroke="#666" stroke-width="1"/>
<line x1="62.50" y1="217.50" x2="64.50" y2="217.50" stroke="#666" stroke-width="1"/>
<line x1="424.50" y1="217.50" x2="426.50" y2="217.50" stroke="#666" stroke-width="1"/>
<text transform="matrix(0.9972 0 0 1.1995 66.396 190.883)" x="0" y="0" fill="#111" stroke="#111" stroke-width="0.110" style="font-kerning:none" ><tspan style="font-family:'Liberation Serif',serif;font-style:italic;font-size:10.00px" y="0.00">ℓ</tspan></text>
<line x1="75.00" y1="187.40" x2="83.00" y2="187.40" stroke="#888" stroke-width="0.8"/>
<line x1="75.00" y1="189.60" x2="83.00" y2="189.60" stroke="#444" stroke-width="0.8"/>
<text transform="matrix(1.2971 0 0 0.9968 87.130 191.300)" x="0" y="0" fill="#111" stroke="#111" stroke-width="0.106" style="font-kerning:none" ><tspan style="font-family:'Liberation Serif',serif;font-style:normal;font-size:10.00px" y="0.00">2</tspan></text>
<text transform="matrix(0.9531 0 0 1.0226 64.311 206.795)" x="0" y="0" fill="#111" stroke="#111" stroke-width="0.122" style="font-kerning:none" ><tspan style="font-family:'Liberation Serif',serif;font-style:italic;font-size:10.00px" y="0.00">d</tspan></text>
<path d="M73.10 203.50 C74.88 201.40 76.66 202.10 77.55 202.70 C78.44 203.30 80.22 204.00 82.00 201.90" fill="none" stroke="#111" stroke-width="0.9"/>
<path d="M73.10 206.20 C74.88 204.10 76.66 204.80 77.55 205.40 C78.44 206.00 80.22 206.70 82.00 204.60" fill="none" stroke="#111" stroke-width="0.9"/>
<text transform="matrix(1.2012 0 0 1.0601 85.043 207.050)" x="0" y="0" fill="#111" stroke="#111" stroke-width="0.106" style="font-kerning:none" ><tspan style="font-family:'Liberation Serif',serif;font-style:normal;font-size:10.00px" y="0.00">0.0</tspan></text>
<text transform="matrix(1.2245 0 0 0.8914 102.343 206.900)" x="0" y="0" fill="#111" stroke="#111" stroke-width="0.115" style="font-kerning:none" ><tspan style="font-family:'Liberation Serif',serif;font-style:normal;font-size:10.00px" y="0.00">mm</tspan></text>
<path d="M62.50 217.40 L63.72 217.40 L64.93 217.40 L66.15 217.40 L67.37 217.40 L68.59 217.40 L69.80 217.40 L71.02 217.40 L72.24 217.40 L73.46 217.40 L74.67 217.40 L75.89 217.40 L77.11 217.40 L78.33 217.40 L79.54 217.40 L80.76 217.40 L81.98 217.40 L83.20 217.40 L84.41 217.40 L85.63 217.40 L86.85 217.40 L88.07 217.40 L89.28 217.40 L90.50 217.40 L91.72 217.40 L92.93 217.40 L94.15 217.40 L95.37 217.40 L96.59 217.40 L97.80 217.40 L99.02 217.40 L100.24 217.39 L101.46 217.39 L102.67 217.39 L103.89 217.39 L105.11 217.39 L106.33 217.39 L107.54 217.39 L108.76 217.39 L109.98 217.38 L111.20 217.38 L112.41 217.38 L113.63 217.38 L114.85 217.37 L116.07 217.37 L117.28 217.36 L118.50 217.36 L119.72 217.35 L120.93 217.35 L122.15 217.34 L123.37 217.33 L124.59 217.32 L125.80 217.31 L127.02 217.30 L128.24 217.29 L129.46 217.28 L130.67 217.26 L131.89 217.25 L133.11 217.23 L134.33 217.21 L135.54 217.19 L136.76 217.16 L137.98 217.14 L139.20 217.11 L140.41 217.07 L141.63 217.04 L142.85 217.00 L144.07 216.95 L145.28 216.91 L146.50 216.86 L147.72 216.80 L148.93 216.74 L150.15 216.67 L151.37 216.60 L152.59 216.52 L153.80 216.44 L155.02 216.35 L156.24 216.25 L157.46 216.14 L158.67 216.03 L159.89 215.91 L161.11 215.77 L162.33 215.63 L163.54 215.48 L164.76 215.32 L165.98 215.15 L167.20 214.97 L168.41 214.77 L169.63 214.56 L170.85 214.34 L172.07 214.11 L173.28 213.87 L174.50 213.61 L175.72 213.33 L176.93 213.04 L178.15 212.74 L179.37 212.42 L180.59 212.09 L181.80 211.74 L183.02 211.38 L184.24 211.00 L185.46 210.61 L186.67 210.20 L187.89 209.77 L189.11 209.33 L190.33 208.87 L191.54 208.40 L192.76 207.92 L193.98 207.42 L195.20 206.91 L196.41 206.39 L197.63 205.85 L198.85 205.31 L200.07 204.75 L201.28 204.18 L202.50 203.61 L203.72 203.02 L204.93 202.44 L206.15 201.84 L207.37 201.25 L208.59 200.65 L209.80 200.05 L211.02 199.45 L212.24 198.85 L213.46 198.26 L214.67 197.67 L215.89 197.09 L217.11 196.51 L218.33 195.95 L219.54 195.40 L220.76 194.87 L221.98 194.34 L223.20 193.84 L224.41 193.35 L225.63 192.89 L226.85 192.44 L228.07 192.02 L229.28 191.63 L230.50 191.26 L231.72 190.91 L232.93 190.60 L234.15 190.31 L235.37 190.06 L236.59 189.84 L237.80 189.65 L239.02 189.49 L240.24 189.37 L241.46 189.28 L242.67 189.22 L243.89 189.20 L245.11 189.21 L246.33 189.26 L247.54 189.35 L248.76 189.46 L249.98 189.62 L251.20 189.80 L252.41 190.02 L253.63 190.27 L254.85 190.54 L256.07 190.85 L257.28 191.19 L258.50 191.56 L259.72 191.95 L260.93 192.37 L262.15 192.81 L263.37 193.27 L264.59 193.75 L265.80 194.25 L267.02 194.77 L268.24 195.31 L269.46 195.85 L270.67 196.41 L271.89 196.98 L273.11 197.56 L274.33 198.15 L275.54 198.74 L276.76 199.34 L277.98 199.94 L279.20 200.54 L280.41 201.14 L281.63 201.74 L282.85 202.33 L284.07 202.92 L285.28 203.50 L286.50 204.08 L287.72 204.65 L288.93 205.21 L290.15 205.76 L291.37 206.29 L292.59 206.82 L293.80 207.33 L295.02 207.83 L296.24 208.32 L297.46 208.79 L298.67 209.25 L299.89 209.69 L301.11 210.12 L302.33 210.53 L303.54 210.93 L304.76 211.31 L305.98 211.68 L307.20 212.03 L308.41 212.36 L309.63 212.69 L310.85 212.99 L312.07 213.28 L313.28 213.56 L314.50 213.82 L315.72 214.07 L316.93 214.30 L318.15 214.53 L319.37 214.73 L320.59 214.93 L321.80 215.12 L323.02 215.29 L324.24 215.45 L325.46 215.61 L326.67 215.75 L327.89 215.88 L329.11 216.01 L330.33 216.12 L331.54 216.23 L332.76 216.33 L333.98 216.42 L335.20 216.51 L336.41 216.59 L337.63 216.66 L338.85 216.73 L340.07 216.79 L341.28 216.85 L342.50 216.90 L343.72 216.95 L344.93 216.99 L346.15 217.03 L347.37 217.07 L348.59 217.10 L349.80 217.13 L351.02 217.16 L352.24 217.18 L353.46 217.21 L354.67 217.23 L355.89 217.24 L357.11 217.26 L358.33 217.28 L359.54 217.29 L360.76 217.30 L361.98 217.31 L363.20 217.32 L364.41 217.33 L365.63 217.34 L366.85 217.35 L368.07 217.35 L369.28 217.36 L370.50 217.36 L371.72 217.37 L372.93 217.37 L374.15 217.38 L375.37 217.38 L376.59 217.38 L377.80 217.38 L379.02 217.39 L380.24 217.39 L381.46 217.39 L382.67 217.39 L383.89 217.39 L385.11 217.39 L386.33 217.39 L387.54 217.39 L388.76 217.40 L389.98 217.40 L391.20 217.40 L392.41 217.40 L393.63 217.40 L394.85 217.40 L396.07 217.40 L397.28 217.40 L398.50 217.40 L399.72 217.40 L400.93 217.40 L402.15 217.40 L403.37 217.40 L404.59 217.40 L405.80 217.40 L407.02 217.40 L408.24 217.40 L409.46 217.40 L410.67 217.40 L411.89 217.40 L413.11 217.40 L414.33 217.40 L415.54 217.40 L416.76 217.40 L417.98 217.40 L419.20 217.40 L420.41 217.40 L421.63 217.40 L422.85 217.40 L424.07 217.40 L425.28 217.40 L426.50 217.40" fill="none" stroke="#e00000" stroke-width="1.2"/>
<circle cx="68.00" cy="218.10" r="1.3" fill="#e00000"/>
<circle cx="74.61" cy="218.60" r="1.3" fill="#e00000"/>
<circle cx="81.21" cy="216.30" r="1.3" fill="#e00000"/>
<circle cx="87.82" cy="219.30" r="1.3" fill="#e00000"/>
<circle cx="94.42" cy="218.10" r="1.3" fill="#e00000"/>
<circle cx="101.03" cy="217.00" r="1.3" fill="#e00000"/>
<circle cx="107.63" cy="217.90" r="1.3" fill="#e00000"/>
<circle cx="114.24" cy="217.90" r="1.3" fill="#e00000"/>
<circle cx="120.84" cy="217.90" r="1.3" fill="#e00000"/>
<circle cx="127.45" cy="216.30" r="1.3" fill="#e00000"/>
<circle cx="134.06" cy="217.00" r="1.3" fill="#e00000"/>
<circle cx="140.66" cy="216.30" r="1.3" fill="#e00000"/>
<circle cx="147.27" cy="217.00" r="1.3" fill="#e00000"/>
<circle cx="153.87" cy="218.60" r="1.3" fill="#e00000"/>
<circle cx="160.48" cy="216.70" r="1.3" fill="#e00000"/>
<circle cx="167.08" cy="217.00" r="1.3" fill="#e00000"/>
<circle cx="173.69" cy="214.00" r="1.3" fill="#e00000"/>
<circle cx="180.29" cy="211.70" r="1.3" fill="#e00000"/>
<circle cx="186.90" cy="207.10" r="1.3" fill="#e00000"/>
<circle cx="193.51" cy="207.60" r="1.3" fill="#e00000"/>
<circle cx="200.11" cy="203.70" r="1.3" fill="#e00000"/>
<circle cx="206.72" cy="199.80" r="1.3" fill="#e00000"/>
<circle cx="213.32" cy="198.60" r="1.3" fill="#e00000"/>
<circle cx="219.93" cy="195.60" r="1.3" fill="#e00000"/>
<circle cx="226.53" cy="194.50" r="1.3" fill="#e00000"/>
<circle cx="233.14" cy="193.30" r="1.3" fill="#e00000"/>
<circle cx="239.74" cy="191.10" r="1.3" fill="#e00000"/>
<circle cx="246.35" cy="191.10" r="1.3" fill="#e00000"/>
<circle cx="252.96" cy="191.10" r="1.3" fill="#e00000"/>
<circle cx="259.56" cy="190.40" r="1.3" fill="#e00000"/>
<circle cx="266.17" cy="192.90" r="1.3" fill="#e00000"/>
<circle cx="272.77" cy="192.20" r="1.3" fill="#e00000"/>
<circle cx="279.38" cy="201.40" r="1.3" fill="#e00000"/>
<circle cx="285.98" cy="208.90" r="1.3" fill="#e00000"/>
<circle cx="292.59" cy="212.40" r="1.3" fill="#e00000"/>
<circle cx="299.19" cy="212.80" r="1.3" fill="#e00000"/>
<circle cx="305.80" cy="215.80" r="1.3" fill="#e00000"/>
<circle cx="312.41" cy="215.80" r="1.3" fill="#e00000"/>
<circle cx="319.01" cy="216.70" r="1.3" fill="#e00000"/>
<circle cx="325.62" cy="217.40" r="1.3" fill="#e00000"/>
<circle cx="332.22" cy="217.40" r="1.3" fill="#e00000"/>
<circle cx="338.83" cy="217.90" r="1.3" fill="#e00000"/>
<circle cx="345.43" cy="216.70" r="1.3" fill="#e00000"/>
<circle cx="352.04" cy="217.00" r="1.3" fill="#e00000"/>
<circle cx="358.64" cy="217.00" r="1.3" fill="#e00000"/>
<circle cx="365.25" cy="218.60" r="1.3" fill="#e00000"/>
<circle cx="371.86" cy="217.00" r="1.3" fill="#e00000"/>
<circle cx="378.46" cy="218.60" r="1.3" fill="#e00000"/>
<circle cx="385.07" cy="217.40" r="1.3" fill="#e00000"/>
<circle cx="391.67" cy="217.40" r="1.3" fill="#e00000"/>
<circle cx="398.28" cy="218.60" r="1.3" fill="#e00000"/>
<circle cx="404.88" cy="217.40" r="1.3" fill="#e00000"/>
<circle cx="411.49" cy="217.40" r="1.3" fill="#e00000"/>
<circle cx="418.09" cy="218.10" r="1.3" fill="#e00000"/>
<circle cx="424.70" cy="217.40" r="1.3" fill="#e00000"/>
<rect x="62.50" y="179.50" width="364.00" height="46.00" fill="none" stroke="#858585" stroke-width="1"/>
<text transform="translate(53.05 180.00) scale(0.930 1)" text-anchor="end" style="font-family:'Liberation Sans',sans-serif;font-size:7.80px;font-kerning:none" fill="#000" stroke="#000" stroke-width="0.12">1</text>
<text transform="translate(53.05 187.67) scale(0.930 1)" text-anchor="end" style="font-family:'Liberation Sans',sans-serif;font-size:7.80px;font-kerning:none" fill="#000" stroke="#000" stroke-width="0.12">0.9</text>
<text transform="translate(53.05 195.33) scale(0.930 1)" text-anchor="end" style="font-family:'Liberation Sans',sans-serif;font-size:7.80px;font-kerning:none" fill="#000" stroke="#000" stroke-width="0.12">0.8</text>
<text transform="translate(53.05 203.00) scale(0.930 1)" text-anchor="end" style="font-family:'Liberation Sans',sans-serif;font-size:7.80px;font-kerning:none" fill="#000" stroke="#000" stroke-width="0.12">0.7</text>
<text transform="translate(53.05 210.67) scale(0.930 1)" text-anchor="end" style="font-family:'Liberation Sans',sans-serif;font-size:7.80px;font-kerning:none" fill="#000" stroke="#000" stroke-width="0.12">0.6</text>
<text transform="translate(53.05 218.33) scale(0.930 1)" text-anchor="end" style="font-family:'Liberation Sans',sans-serif;font-size:7.80px;font-kerning:none" fill="#000" stroke="#000" stroke-width="0.12">0.5</text>
<text transform="translate(53.05 226.00) scale(0.930 1)" text-anchor="end" style="font-family:'Liberation Sans',sans-serif;font-size:7.80px;font-kerning:none" fill="#000" stroke="#000" stroke-width="0.12">0.4</text>
<text transform="translate(63.30 234.60) scale(1.040 1)" text-anchor="middle" style="font-family:'Liberation Sans',sans-serif;font-size:7.20px;font-kerning:none" fill="#000" stroke="#000" stroke-width="0.12">-100</text>
<text transform="translate(154.30 234.60) scale(1.040 1)" text-anchor="middle" style="font-family:'Liberation Sans',sans-serif;font-size:7.20px;font-kerning:none" fill="#000" stroke="#000" stroke-width="0.12">-50</text>
<text transform="translate(245.30 234.60) scale(1.040 1)" text-anchor="middle" style="font-family:'Liberation Sans',sans-serif;font-size:7.20px;font-kerning:none" fill="#000" stroke="#000" stroke-width="0.12">0</text>
<text transform="translate(336.30 234.60) scale(1.040 1)" text-anchor="middle" style="font-family:'Liberation Sans',sans-serif;font-size:7.20px;font-kerning:none" fill="#000" stroke="#000" stroke-width="0.12">50</text>
<text transform="translate(427.30 234.60) scale(1.040 1)" text-anchor="middle" style="font-family:'Liberation Sans',sans-serif;font-size:7.20px;font-kerning:none" fill="#000" stroke="#000" stroke-width="0.12">100</text>
<text transform="matrix(1.4912 0 0 1.2814 388.472 248.460)" x="0" y="0" fill="#111" stroke="#111" stroke-width="0.072" style="font-kerning:none" ><tspan style="font-family:'Liberation Serif',serif;font-style:italic;font-size:10.00px" y="0.00">θ</tspan><tspan style="font-family:'Liberation Serif',serif;font-style:normal;font-size:10.00px" y="0.00">(</tspan><tspan style="font-family:'Liberation Serif',serif;font-style:italic;font-size:10.00px" y="0.00">μ</tspan><tspan style="font-family:'Liberation Serif',serif;font-style:normal;font-size:10.00px" y="0.00">rad)</tspan></text>
<text transform="matrix(1.5209 0 0 1.5349 1.220 188.422)" x="0" y="0" fill="#000" stroke="#000" stroke-width="0.065" style="font-kerning:none" ><tspan style="font-family:'Liberation Sans',sans-serif;font-style:normal;font-size:10.00px" y="0.00">b)</tspan></text>
<text transform="matrix(0 -1.3250 1.3156 0 30.799 217.124)" x="0" y="0" fill="#111" stroke="#111" stroke-width="0.076" style="font-kerning:none" ><tspan style="font-family:'Liberation Serif',serif;font-style:italic;font-size:10.00px" y="0.00">p</tspan></text>
<text transform="matrix(0 -1.0667 1.0698 0 24.723 210.069)" x="0" y="0" fill="#111" stroke="#111" stroke-width="0.094" style="font-kerning:none" ><tspan style="font-family:'Liberation Serif',serif;font-style:normal;font-size:10.00px" y="0.00">(2)</tspan></text>
<text transform="matrix(0 -1.2905 1.5459 0 31.109 195.067)" x="0" y="0" fill="#111" stroke="#111" stroke-width="0.071" style="font-kerning:none" ><tspan style="font-family:'Liberation Serif',serif;font-style:normal;font-size:10.00px" y="0.00">(</tspan><tspan style="font-family:'Liberation Serif',serif;font-style:italic;font-size:10.00px" y="0.00">θ</tspan><tspan style="font-family:'Liberation Serif',serif;font-style:normal;font-size:10.00px" y="0.00">)</tspan></text>
<line x1="54" y1="297.00" x2="433" y2="297.00" stroke="#c0c0c0" stroke-width="1"/>
<line x1="62.50" y1="245.80" x2="62.50" y2="299.50" stroke="#c4c4c4" stroke-width="1"/>
<line x1="79.56" y1="295.80" x2="79.56" y2="297.00" stroke="#909090" stroke-width="0.6"/>
<line x1="97.78" y1="295.80" x2="97.78" y2="297.00" stroke="#909090" stroke-width="0.6"/>
<line x1="116.01" y1="295.80" x2="116.01" y2="297.00" stroke="#909090" stroke-width="0.6"/>
<line x1="134.24" y1="295.80" x2="134.24" y2="297.00" stroke="#909090" stroke-width="0.6"/>
<line x1="152.46" y1="295.80" x2="152.46" y2="297.00" stroke="#909090" stroke-width="0.6"/>
<line x1="170.69" y1="295.80" x2="170.69" y2="297.00" stroke="#909090" stroke-width="0.6"/>
<line x1="188.92" y1="295.80" x2="188.92" y2="297.00" stroke="#909090" stroke-width="0.6"/>
<line x1="207.15" y1="295.80" x2="207.15" y2="297.00" stroke="#909090" stroke-width="0.6"/>
<line x1="225.37" y1="295.80" x2="225.37" y2="297.00" stroke="#909090" stroke-width="0.6"/>
<line x1="243.60" y1="295.80" x2="243.60" y2="297.00" stroke="#909090" stroke-width="0.6"/>
<line x1="261.83" y1="295.80" x2="261.83" y2="297.00" stroke="#909090" stroke-width="0.6"/>
<line x1="280.05" y1="295.80" x2="280.05" y2="297.00" stroke="#909090" stroke-width="0.6"/>
<line x1="298.28" y1="295.80" x2="298.28" y2="297.00" stroke="#909090" stroke-width="0.6"/>
<line x1="316.51" y1="295.80" x2="316.51" y2="297.00" stroke="#909090" stroke-width="0.6"/>
<line x1="334.74" y1="295.80" x2="334.74" y2="297.00" stroke="#909090" stroke-width="0.6"/>
<line x1="352.96" y1="295.80" x2="352.96" y2="297.00" stroke="#909090" stroke-width="0.6"/>
<line x1="371.19" y1="295.80" x2="371.19" y2="297.00" stroke="#909090" stroke-width="0.6"/>
<line x1="389.42" y1="295.80" x2="389.42" y2="297.00" stroke="#909090" stroke-width="0.6"/>
<line x1="407.64" y1="295.80" x2="407.64" y2="297.00" stroke="#909090" stroke-width="0.6"/>
<line x1="425.87" y1="295.80" x2="425.87" y2="297.00" stroke="#909090" stroke-width="0.6"/>
<path d="M61.53 297.00 L62.13 297.00 L62.73 297.00 L63.33 297.00 L63.93 297.00 L64.53 297.00 L65.13 297.00 L65.73 297.00 L66.33 297.00 L66.94 297.00 L67.54 297.00 L68.14 297.00 L68.74 297.00 L69.34 297.00 L69.94 297.00 L70.54 297.00 L71.14 297.00 L71.74 297.00 L72.34 297.00 L72.94 297.00 L73.54 297.00 L74.14 297.00 L74.74 297.00 L75.34 297.00 L75.94 297.00 L76.54 297.00 L77.14 297.00 L77.75 297.00 L78.35 297.00 L78.95 297.00 L79.55 297.00 L80.15 297.00 L80.75 297.00 L81.35 297.00 L81.95 297.00 L82.55 297.00 L83.15 297.00 L83.75 297.00 L84.35 297.00 L84.95 297.00 L85.55 297.00 L86.15 297.00 L86.75 297.00 L87.35 297.00 L87.95 297.00 L88.56 297.00 L89.16 297.00 L89.76 297.00 L90.36 297.00 L90.96 297.00 L91.56 297.00 L92.16 297.00 L92.76 297.00 L93.36 297.00 L93.96 297.00 L94.56 297.00 L95.16 297.00 L95.76 297.00 L96.36 297.00 L96.96 297.00 L97.56 297.00 L98.16 297.00 L98.76 297.00 L99.37 297.00 L99.97 297.00 L100.57 297.00 L101.17 297.00 L101.77 297.00 L102.37 297.00 L102.97 297.00 L103.57 297.00 L104.17 297.00 L104.77 297.00 L105.37 297.00 L105.97 297.00 L106.57 297.00 L107.17 297.00 L107.77 297.00 L108.37 297.00 L108.97 297.00 L109.57 297.00 L110.18 297.00 L110.78 297.00 L111.38 297.00 L111.98 297.00 L112.58 297.00 L113.18 297.00 L113.78 297.00 L114.38 297.00 L114.98 297.00 L115.58 297.00 L116.18 297.00 L116.78 297.00 L117.38 297.00 L117.98 297.00 L118.58 297.00 L119.18 297.00 L119.78 297.00 L120.38 297.00 L120.99 297.00 L121.59 297.00 L122.19 297.00 L122.79 297.00 L123.39 297.00 L123.99 297.00 L124.59 297.00 L125.19 297.00 L125.79 297.00 L126.39 297.00 L126.99 297.00 L127.59 297.00 L128.19 297.00 L128.79 297.00 L129.39 297.00 L129.99 297.00 L130.59 297.00 L131.20 297.00 L131.80 297.00 L132.40 296.99 L133.00 296.99 L133.60 296.99 L134.20 296.99 L134.80 296.99 L135.40 296.99 L136.00 296.99 L136.60 296.99 L137.20 296.99 L137.80 296.98 L138.40 296.98 L139.00 296.98 L139.60 296.98 L140.20 296.98 L140.80 296.97 L141.40 296.97 L142.01 296.97 L142.61 296.96 L143.21 296.96 L143.81 296.95 L144.41 296.95 L145.01 296.94 L145.61 296.93 L146.21 296.93 L146.81 296.92 L147.41 296.91 L148.01 296.90 L148.61 296.89 L149.21 296.88 L149.81 296.87 L150.41 296.85 L151.01 296.84 L151.61 296.82 L152.21 296.80 L152.82 296.78 L153.42 296.76 L154.02 296.74 L154.62 296.71 L155.22 296.68 L155.82 296.65 L156.42 296.62 L157.02 296.58 L157.62 296.54 L158.22 296.50 L158.82 296.45 L159.42 296.40 L160.02 296.35 L160.62 296.29 L161.22 296.23 L161.82 296.16 L162.42 296.09 L163.02 296.01 L163.63 295.93 L164.23 295.84 L164.83 295.74 L165.43 295.64 L166.03 295.53 L166.63 295.41 L167.23 295.28 L167.83 295.15 L168.43 295.01 L169.03 294.85 L169.63 294.69 L170.23 294.52 L170.83 294.33 L171.43 294.14 L172.03 293.93 L172.63 293.71 L173.23 293.48 L173.83 293.24 L174.44 292.98 L175.04 292.71 L175.64 292.42 L176.24 292.12 L176.84 291.80 L177.44 291.47 L178.04 291.12 L178.64 290.75 L179.24 290.37 L179.84 289.97 L180.44 289.55 L181.04 289.11 L181.64 288.65 L182.24 288.18 L182.84 287.68 L183.44 287.16 L184.04 286.63 L184.64 286.07 L185.25 285.49 L185.85 284.89 L186.45 284.27 L187.05 283.63 L187.65 282.97 L188.25 282.29 L188.85 281.59 L189.45 280.86 L190.05 280.12 L190.65 279.35 L191.25 278.56 L191.85 277.76 L192.45 276.93 L193.05 276.09 L193.65 275.22 L194.25 274.34 L194.85 273.44 L195.45 272.52 L196.06 271.59 L196.66 270.65 L197.26 269.69 L197.86 268.71 L198.46 267.73 L199.06 266.74 L199.66 265.74 L200.26 264.73 L200.86 263.72 L201.46 262.70 L202.06 261.69 L202.66 260.68 L203.26 259.68 L203.86 258.68 L204.46 257.69 L205.06 256.72 L205.66 255.76 L206.27 254.82 L206.87 253.87 L207.47 252.89 L208.07 251.94 L208.67 251.02 L209.27 250.14 L209.87 249.31 L210.47 248.55 L211.07 247.85 L211.67 247.24 L212.27 246.72 L212.87 246.30 L213.47 245.99 L214.07 245.79 L214.67 245.70 L215.27 245.71 L215.87 245.83 L216.47 245.82 L217.08 245.69 L217.68 245.65 L218.28 245.69 L218.88 245.82 L219.48 246.05 L220.08 246.38 L220.68 246.79 L221.28 247.31 L221.88 247.92 L222.48 248.62 L223.08 249.42 L223.68 250.31 L224.28 251.29 L224.88 252.35 L225.48 253.50 L226.08 254.72 L226.68 256.02 L227.28 257.39 L227.89 258.82 L228.49 260.32 L229.09 261.87 L229.69 263.46 L230.29 265.10 L230.89 266.78 L231.49 268.49 L232.09 270.22 L232.69 271.97 L233.29 273.72 L233.89 275.49 L234.49 277.24 L235.09 278.99 L235.69 280.71 L236.29 282.41 L236.89 284.07 L237.49 285.67 L238.09 287.22 L238.70 288.71 L239.30 290.11 L239.90 291.43 L240.50 292.64 L241.10 293.75 L241.70 294.74 L242.30 295.60 L242.90 296.33 L243.50 296.92 L244.10 296.54 L244.70 295.86 L245.30 295.04 L245.90 294.09 L246.50 293.02 L247.10 291.84 L247.70 290.56 L248.30 289.19 L248.90 287.73 L249.51 286.20 L250.11 284.61 L250.71 282.97 L251.31 281.28 L251.91 279.57 L252.51 277.83 L253.11 276.07 L253.71 274.31 L254.31 272.55 L254.91 270.80 L255.51 269.06 L256.11 267.35 L256.71 265.66 L257.31 264.01 L257.91 262.39 L258.51 260.83 L259.11 259.32 L259.71 257.86 L260.32 256.47 L260.92 255.15 L261.52 253.90 L262.12 252.72 L262.72 251.63 L263.32 250.62 L263.92 249.71 L264.52 248.88 L265.12 248.14 L265.72 247.50 L266.32 246.96 L266.92 246.50 L267.52 246.15 L268.12 245.89 L268.72 245.72 L269.32 245.65 L269.92 245.67 L270.53 245.77 L271.13 245.90 L271.73 245.74 L272.33 245.69 L272.93 245.74 L273.53 245.91 L274.13 246.19 L274.73 246.57 L275.33 247.06 L275.93 247.64 L276.53 248.31 L277.13 249.05 L277.73 249.86 L278.33 250.72 L278.93 251.63 L279.53 252.57 L280.13 253.54 L280.73 254.52 L281.34 255.45 L281.94 256.40 L282.54 257.36 L283.14 258.35 L283.74 259.34 L284.34 260.34 L284.94 261.35 L285.54 262.37 L286.14 263.38 L286.74 264.39 L287.34 265.40 L287.94 266.40 L288.54 267.40 L289.14 268.39 L289.74 269.36 L290.34 270.33 L290.94 271.28 L291.54 272.21 L292.15 273.14 L292.75 274.04 L293.35 274.93 L293.95 275.80 L294.55 276.65 L295.15 277.48 L295.75 278.30 L296.35 279.09 L296.95 279.86 L297.55 280.61 L298.15 281.35 L298.75 282.06 L299.35 282.75 L299.95 283.42 L300.55 284.06 L301.15 284.69 L301.75 285.29 L302.35 285.88 L302.96 286.44 L303.56 286.99 L304.16 287.51 L304.76 288.01 L305.36 288.50 L305.96 288.96 L306.56 289.40 L307.16 289.83 L307.76 290.24 L308.36 290.63 L308.96 291.00 L309.56 291.36 L310.16 291.69 L310.76 292.02 L311.36 292.32 L311.96 292.62 L312.56 292.89 L313.16 293.15 L313.77 293.40 L314.37 293.64 L314.97 293.86 L315.57 294.07 L316.17 294.27 L316.77 294.46 L317.37 294.63 L317.97 294.80 L318.57 294.96 L319.17 295.10 L319.77 295.24 L320.37 295.37 L320.97 295.49 L321.57 295.60 L322.17 295.71 L322.77 295.81 L323.37 295.90 L323.97 295.99 L324.58 296.06 L325.18 296.14 L325.78 296.21 L326.38 296.27 L326.98 296.33 L327.58 296.39 L328.18 296.44 L328.78 296.49 L329.38 296.53 L329.98 296.57 L330.58 296.61 L331.18 296.64 L331.78 296.67 L332.38 296.70 L332.98 296.73 L333.58 296.75 L334.18 296.77 L334.78 296.80 L335.39 296.81 L335.99 296.83 L336.59 296.85 L337.19 296.86 L337.79 296.87 L338.39 296.89 L338.99 296.90 L339.59 296.91 L340.19 296.92 L340.79 296.92 L341.39 296.93 L341.99 296.94 L342.59 296.95 L343.19 296.95 L343.79 296.96 L344.39 296.96 L344.99 296.96 L345.60 296.97 L346.20 296.97 L346.80 296.97 L347.40 296.98 L348.00 296.98 L348.60 296.98 L349.20 296.98 L349.80 296.99 L350.40 296.99 L351.00 296.99 L351.60 296.99 L352.20 296.99 L352.80 296.99 L353.40 296.99 L354.00 296.99 L354.60 296.99 L355.20 297.00 L355.80 297.00 L356.41 297.00 L357.01 297.00 L357.61 297.00 L358.21 297.00 L358.81 297.00 L359.41 297.00 L360.01 297.00 L360.61 297.00 L361.21 297.00 L361.81 297.00 L362.41 297.00 L363.01 297.00 L363.61 297.00 L364.21 297.00 L364.81 297.00 L365.41 297.00 L366.01 297.00 L366.61 297.00 L367.22 297.00 L367.82 297.00 L368.42 297.00 L369.02 297.00 L369.62 297.00 L370.22 297.00 L370.82 297.00 L371.42 297.00 L372.02 297.00 L372.62 297.00 L373.22 297.00 L373.82 297.00 L374.42 297.00 L375.02 297.00 L375.62 297.00 L376.22 297.00 L376.82 297.00 L377.42 297.00 L378.03 297.00 L378.63 297.00 L379.23 297.00 L379.83 297.00 L380.43 297.00 L381.03 297.00 L381.63 297.00 L382.23 297.00 L382.83 297.00 L383.43 297.00 L384.03 297.00 L384.63 297.00 L385.23 297.00 L385.83 297.00 L386.43 297.00 L387.03 297.00 L387.63 297.00 L388.23 297.00 L388.84 297.00 L389.44 297.00 L390.04 297.00 L390.64 297.00 L391.24 297.00 L391.84 297.00 L392.44 297.00 L393.04 297.00 L393.64 297.00 L394.24 297.00 L394.84 297.00 L395.44 297.00 L396.04 297.00 L396.64 297.00 L397.24 297.00 L397.84 297.00 L398.44 297.00 L399.04 297.00 L399.65 297.00 L400.25 297.00 L400.85 297.00 L401.45 297.00 L402.05 297.00 L402.65 297.00 L403.25 297.00 L403.85 297.00 L404.45 297.00 L405.05 297.00 L405.65 297.00 L406.25 297.00 L406.85 297.00 L407.45 297.00 L408.05 297.00 L408.65 297.00 L409.25 297.00 L409.86 297.00 L410.46 297.00 L411.06 297.00 L411.66 297.00 L412.26 297.00 L412.86 297.00 L413.46 297.00 L414.06 297.00 L414.66 297.00 L415.26 297.00 L415.86 297.00 L416.46 297.00 L417.06 297.00 L417.66 297.00 L418.26 297.00 L418.86 297.00 L419.46 297.00 L420.06 297.00 L420.67 297.00 L421.27 297.00 L421.87 297.00 L422.47 297.00 L423.07 297.00 L423.67 297.00 L424.27 297.00 L424.87 297.00 L425.47 297.00 L425.47 297.00 L424.87 297.00 L424.27 297.00 L423.67 297.00 L423.07 297.00 L422.47 297.00 L421.87 297.00 L421.27 297.00 L420.67 297.00 L420.06 297.00 L419.46 297.00 L418.86 297.00 L418.26 297.00 L417.66 297.00 L417.06 297.00 L416.46 297.00 L415.86 297.00 L415.26 297.00 L414.66 297.00 L414.06 297.00 L413.46 297.00 L412.86 297.00 L412.26 297.00 L411.66 297.00 L411.06 297.00 L410.46 297.00 L409.86 297.00 L409.25 297.00 L408.65 297.00 L408.05 297.00 L407.45 297.00 L406.85 297.00 L406.25 297.00 L405.65 297.00 L405.05 297.00 L404.45 297.00 L403.85 297.00 L403.25 297.00 L402.65 297.00 L402.05 297.00 L401.45 297.00 L400.85 297.00 L400.25 297.00 L399.65 297.00 L399.04 297.00 L398.44 297.00 L397.84 297.00 L397.24 297.00 L396.64 297.00 L396.04 297.00 L395.44 297.00 L394.84 297.00 L394.24 297.00 L393.64 297.00 L393.04 297.00 L392.44 297.00 L391.84 297.00 L391.24 297.00 L390.64 297.00 L390.04 297.00 L389.44 297.00 L388.84 297.00 L388.23 297.00 L387.63 297.00 L387.03 297.00 L386.43 297.00 L385.83 297.00 L385.23 297.00 L384.63 297.00 L384.03 297.00 L383.43 297.00 L382.83 297.00 L382.23 297.00 L381.63 297.00 L381.03 297.00 L380.43 297.00 L379.83 297.00 L379.23 297.00 L378.63 297.00 L378.03 297.00 L377.42 297.00 L376.82 297.00 L376.22 297.00 L375.62 297.00 L375.02 297.00 L374.42 297.00 L373.82 297.00 L373.22 297.00 L372.62 297.00 L372.02 297.00 L371.42 297.00 L370.82 297.00 L370.22 297.00 L369.62 297.00 L369.02 297.00 L368.42 297.00 L367.82 297.00 L367.22 297.00 L366.61 297.00 L366.01 297.00 L365.41 297.00 L364.81 297.00 L364.21 297.00 L363.61 297.00 L363.01 297.00 L362.41 297.00 L361.81 297.00 L361.21 297.00 L360.61 297.00 L360.01 297.00 L359.41 297.00 L358.81 297.00 L358.21 297.00 L357.61 297.00 L357.01 297.00 L356.41 297.00 L355.80 297.00 L355.20 297.00 L354.60 297.00 L354.00 296.99 L353.40 296.99 L352.80 296.99 L352.20 296.99 L351.60 296.99 L351.00 296.99 L350.40 296.99 L349.80 296.99 L349.20 296.99 L348.60 296.98 L348.00 296.98 L347.40 296.98 L346.80 296.98 L346.20 296.97 L345.60 296.97 L344.99 296.97 L344.39 296.96 L343.79 296.96 L343.19 296.96 L342.59 296.95 L341.99 296.95 L341.39 296.94 L340.79 296.93 L340.19 296.92 L339.59 296.92 L338.99 296.91 L338.39 296.90 L337.79 296.89 L337.19 296.87 L336.59 296.86 L335.99 296.85 L335.39 296.83 L334.78 296.81 L334.18 296.80 L333.58 296.77 L332.98 296.75 L332.38 296.73 L331.78 296.70 L331.18 296.67 L330.58 296.64 L329.98 296.61 L329.38 296.57 L328.78 296.53 L328.18 296.49 L327.58 296.44 L326.98 296.39 L326.38 296.33 L325.78 296.27 L325.18 296.21 L324.58 296.14 L323.97 296.06 L323.37 295.99 L322.77 295.90 L322.17 295.81 L321.57 295.71 L320.97 295.60 L320.37 295.49 L319.77 295.37 L319.17 295.24 L318.57 295.10 L317.97 294.96 L317.37 294.80 L316.77 294.64 L316.17 294.46 L315.57 294.27 L314.97 294.07 L314.37 293.87 L313.77 293.64 L313.16 293.41 L312.56 293.16 L311.96 292.90 L311.36 292.62 L310.76 292.34 L310.16 292.03 L309.56 291.71 L308.96 291.38 L308.36 291.02 L307.76 290.66 L307.16 290.27 L306.56 289.87 L305.96 289.45 L305.36 289.02 L304.76 288.57 L304.16 288.09 L303.56 287.61 L302.96 287.10 L302.35 286.58 L301.75 286.03 L301.15 285.48 L300.55 284.90 L299.95 284.31 L299.35 283.70 L298.75 283.07 L298.15 282.43 L297.55 281.77 L296.95 281.10 L296.35 280.42 L295.75 279.72 L295.15 279.01 L294.55 278.29 L293.95 277.56 L293.35 276.83 L292.75 276.08 L292.15 275.33 L291.54 274.58 L290.94 273.82 L290.34 273.06 L289.74 272.30 L289.14 271.54 L288.54 270.78 L287.94 270.03 L287.34 269.28 L286.74 268.55 L286.14 267.82 L285.54 267.10 L284.94 266.40 L284.34 265.71 L283.74 265.04 L283.14 264.39 L282.54 263.75 L281.94 263.13 L281.34 262.54 L280.73 261.97 L280.13 261.50 L279.53 261.08 L278.93 260.69 L278.33 260.33 L277.73 259.99 L277.13 259.68 L276.53 259.38 L275.93 259.09 L275.33 258.81 L274.73 258.53 L274.13 258.24 L273.53 257.96 L272.93 257.68 L272.33 257.40 L271.73 257.14 L271.13 256.90 L270.53 257.08 L269.92 257.36 L269.32 257.70 L268.72 258.09 L268.12 258.54 L267.52 259.03 L266.92 259.59 L266.32 260.20 L265.72 260.87 L265.12 261.60 L264.52 262.39 L263.92 263.24 L263.32 264.16 L262.72 265.14 L262.12 266.18 L261.52 267.29 L260.92 268.45 L260.32 269.68 L259.71 270.96 L259.11 272.30 L258.51 273.69 L257.91 275.12 L257.31 276.59 L256.71 278.09 L256.11 279.61 L255.51 281.14 L254.91 282.67 L254.31 284.20 L253.71 285.70 L253.11 287.17 L252.51 288.60 L251.91 289.96 L251.31 291.25 L250.71 292.46 L250.11 293.56 L249.51 294.56 L248.90 295.44 L248.30 296.19 L247.70 296.80 L247.10 297.00 L246.50 297.00 L245.90 297.00 L245.30 297.00 L244.70 297.00 L244.10 297.00 L243.50 297.00 L242.90 297.00 L242.30 297.00 L241.70 297.00 L241.10 297.00 L240.50 297.00 L239.90 297.00 L239.30 296.62 L238.70 295.96 L238.09 295.16 L237.49 294.24 L236.89 293.21 L236.29 292.06 L235.69 290.83 L235.09 289.51 L234.49 288.13 L233.89 286.69 L233.29 285.21 L232.69 283.69 L232.09 282.16 L231.49 280.63 L230.89 279.10 L230.29 277.58 L229.69 276.09 L229.09 274.64 L228.49 273.22 L227.89 271.85 L227.28 270.53 L226.68 269.26 L226.08 268.06 L225.48 266.91 L224.88 265.83 L224.28 264.81 L223.68 263.85 L223.08 262.95 L222.48 262.12 L221.88 261.35 L221.28 260.64 L220.68 259.99 L220.08 259.40 L219.48 258.86 L218.88 258.38 L218.28 257.96 L217.68 257.58 L217.08 257.26 L216.47 256.99 L215.87 256.98 L215.27 257.23 L214.67 257.49 L214.07 257.77 L213.47 258.05 L212.87 258.34 L212.27 258.62 L211.67 258.90 L211.07 259.19 L210.47 259.48 L209.87 259.78 L209.27 260.10 L208.67 260.44 L208.07 260.81 L207.47 261.21 L206.87 261.65 L206.27 262.16 L205.66 262.74 L205.06 263.34 L204.46 263.96 L203.86 264.60 L203.26 265.26 L202.66 265.94 L202.06 266.63 L201.46 267.34 L200.86 268.06 L200.26 268.79 L199.66 269.53 L199.06 270.28 L198.46 271.03 L197.86 271.79 L197.26 272.55 L196.66 273.31 L196.06 274.07 L195.45 274.83 L194.85 275.58 L194.25 276.33 L193.65 277.07 L193.05 277.81 L192.45 278.53 L191.85 279.25 L191.25 279.95 L190.65 280.65 L190.05 281.33 L189.45 281.99 L188.85 282.64 L188.25 283.28 L187.65 283.90 L187.05 284.51 L186.45 285.09 L185.85 285.66 L185.25 286.22 L184.64 286.75 L184.04 287.27 L183.44 287.77 L182.84 288.25 L182.24 288.72 L181.64 289.17 L181.04 289.60 L180.44 290.01 L179.84 290.40 L179.24 290.78 L178.64 291.14 L178.04 291.49 L177.44 291.82 L176.84 292.13 L176.24 292.43 L175.64 292.72 L175.04 292.99 L174.44 293.25 L173.83 293.49 L173.23 293.72 L172.63 293.94 L172.03 294.14 L171.43 294.34 L170.83 294.52 L170.23 294.69 L169.63 294.85 L169.03 295.01 L168.43 295.15 L167.83 295.28 L167.23 295.41 L166.63 295.53 L166.03 295.64 L165.43 295.74 L164.83 295.84 L164.23 295.93 L163.63 296.01 L163.02 296.09 L162.42 296.16 L161.82 296.23 L161.22 296.29 L160.62 296.35 L160.02 296.40 L159.42 296.45 L158.82 296.50 L158.22 296.54 L157.62 296.58 L157.02 296.62 L156.42 296.65 L155.82 296.68 L155.22 296.71 L154.62 296.74 L154.02 296.76 L153.42 296.78 L152.82 296.80 L152.21 296.82 L151.61 296.84 L151.01 296.85 L150.41 296.87 L149.81 296.88 L149.21 296.89 L148.61 296.90 L148.01 296.91 L147.41 296.92 L146.81 296.93 L146.21 296.93 L145.61 296.94 L145.01 296.95 L144.41 296.95 L143.81 296.96 L143.21 296.96 L142.61 296.97 L142.01 296.97 L141.40 296.97 L140.80 296.98 L140.20 296.98 L139.60 296.98 L139.00 296.98 L138.40 296.98 L137.80 296.99 L137.20 296.99 L136.60 296.99 L136.00 296.99 L135.40 296.99 L134.80 296.99 L134.20 296.99 L133.60 296.99 L133.00 296.99 L132.40 297.00 L131.80 297.00 L131.20 297.00 L130.59 297.00 L129.99 297.00 L129.39 297.00 L128.79 297.00 L128.19 297.00 L127.59 297.00 L126.99 297.00 L126.39 297.00 L125.79 297.00 L125.19 297.00 L124.59 297.00 L123.99 297.00 L123.39 297.00 L122.79 297.00 L122.19 297.00 L121.59 297.00 L120.99 297.00 L120.38 297.00 L119.78 297.00 L119.18 297.00 L118.58 297.00 L117.98 297.00 L117.38 297.00 L116.78 297.00 L116.18 297.00 L115.58 297.00 L114.98 297.00 L114.38 297.00 L113.78 297.00 L113.18 297.00 L112.58 297.00 L111.98 297.00 L111.38 297.00 L110.78 297.00 L110.18 297.00 L109.57 297.00 L108.97 297.00 L108.37 297.00 L107.77 297.00 L107.17 297.00 L106.57 297.00 L105.97 297.00 L105.37 297.00 L104.77 297.00 L104.17 297.00 L103.57 297.00 L102.97 297.00 L102.37 297.00 L101.77 297.00 L101.17 297.00 L100.57 297.00 L99.97 297.00 L99.37 297.00 L98.76 297.00 L98.16 297.00 L97.56 297.00 L96.96 297.00 L96.36 297.00 L95.76 297.00 L95.16 297.00 L94.56 297.00 L93.96 297.00 L93.36 297.00 L92.76 297.00 L92.16 297.00 L91.56 297.00 L90.96 297.00 L90.36 297.00 L89.76 297.00 L89.16 297.00 L88.56 297.00 L87.95 297.00 L87.35 297.00 L86.75 297.00 L86.15 297.00 L85.55 297.00 L84.95 297.00 L84.35 297.00 L83.75 297.00 L83.15 297.00 L82.55 297.00 L81.95 297.00 L81.35 297.00 L80.75 297.00 L80.15 297.00 L79.55 297.00 L78.95 297.00 L78.35 297.00 L77.75 297.00 L77.14 297.00 L76.54 297.00 L75.94 297.00 L75.34 297.00 L74.74 297.00 L74.14 297.00 L73.54 297.00 L72.94 297.00 L72.34 297.00 L71.74 297.00 L71.14 297.00 L70.54 297.00 L69.94 297.00 L69.34 297.00 L68.74 297.00 L68.14 297.00 L67.54 297.00 L66.94 297.00 L66.33 297.00 L65.73 297.00 L65.13 297.00 L64.53 297.00 L63.93 297.00 L63.33 297.00 L62.73 297.00 L62.13 297.00 L61.53 297.00 Z" fill="#d0d0fa"/>
<path d="M61.53 297.00 L62.13 297.00 L62.73 297.00 L63.33 297.00 L63.93 297.00 L64.53 297.00 L65.13 297.00 L65.73 297.00 L66.33 297.00 L66.94 297.00 L67.54 297.00 L68.14 297.00 L68.74 297.00 L69.34 297.00 L69.94 297.00 L70.54 297.00 L71.14 297.00 L71.74 297.00 L72.34 297.00 L72.94 297.00 L73.54 297.00 L74.14 297.00 L74.74 297.00 L75.34 297.00 L75.94 297.00 L76.54 297.00 L77.14 297.00 L77.75 297.00 L78.35 297.00 L78.95 297.00 L79.55 297.00 L80.15 297.00 L80.75 297.00 L81.35 297.00 L81.95 297.00 L82.55 297.00 L83.15 297.00 L83.75 297.00 L84.35 297.00 L84.95 297.00 L85.55 297.00 L86.15 297.00 L86.75 297.00 L87.35 297.00 L87.95 297.00 L88.56 297.00 L89.16 297.00 L89.76 297.00 L90.36 297.00 L90.96 297.00 L91.56 297.00 L92.16 297.00 L92.76 297.00 L93.36 297.00 L93.96 297.00 L94.56 297.00 L95.16 297.00 L95.76 297.00 L96.36 297.00 L96.96 297.00 L97.56 297.00 L98.16 297.00 L98.76 297.00 L99.37 297.00 L99.97 297.00 L100.57 297.00 L101.17 297.00 L101.77 297.00 L102.37 297.00 L102.97 297.00 L103.57 297.00 L104.17 297.00 L104.77 297.00 L105.37 297.00 L105.97 297.00 L106.57 297.00 L107.17 297.00 L107.77 297.00 L108.37 297.00 L108.97 297.00 L109.57 297.00 L110.18 297.00 L110.78 297.00 L111.38 297.00 L111.98 297.00 L112.58 297.00 L113.18 297.00 L113.78 297.00 L114.38 297.00 L114.98 297.00 L115.58 297.00 L116.18 297.00 L116.78 297.00 L117.38 297.00 L117.98 297.00 L118.58 297.00 L119.18 297.00 L119.78 297.00 L120.38 297.00 L120.99 297.00 L121.59 297.00 L122.19 297.00 L122.79 297.00 L123.39 297.00 L123.99 297.00 L124.59 297.00 L125.19 297.00 L125.79 297.00 L126.39 297.00 L126.99 297.00 L127.59 297.00 L128.19 297.00 L128.79 297.00 L129.39 297.00 L129.99 297.00 L130.59 297.00 L131.20 297.00 L131.80 297.00 L132.40 296.99 L133.00 296.99 L133.60 296.99 L134.20 296.99 L134.80 296.99 L135.40 296.99 L136.00 296.99 L136.60 296.99 L137.20 296.99 L137.80 296.98 L138.40 296.98 L139.00 296.98 L139.60 296.98 L140.20 296.98 L140.80 296.97 L141.40 296.97 L142.01 296.97 L142.61 296.96 L143.21 296.96 L143.81 296.95 L144.41 296.95 L145.01 296.94 L145.61 296.94 L146.21 296.93 L146.81 296.92 L147.41 296.91 L148.01 296.90 L148.61 296.89 L149.21 296.88 L149.81 296.87 L150.41 296.86 L151.01 296.84 L151.61 296.82 L152.21 296.81 L152.82 296.79 L153.42 296.77 L154.02 296.74 L154.62 296.72 L155.22 296.69 L155.82 296.66 L156.42 296.63 L157.02 296.59 L157.62 296.55 L158.22 296.51 L158.82 296.47 L159.42 296.42 L160.02 296.37 L160.62 296.31 L161.22 296.25 L161.82 296.18 L162.42 296.11 L163.02 296.03 L163.63 295.95 L164.23 295.86 L164.83 295.77 L165.43 295.67 L166.03 295.56 L166.63 295.44 L167.23 295.32 L167.83 295.19 L168.43 295.05 L169.03 294.90 L169.63 294.74 L170.23 294.57 L170.83 294.39 L171.43 294.19 L172.03 293.99 L172.63 293.78 L173.23 293.55 L173.83 293.31 L174.44 293.05 L175.04 292.79 L175.64 292.50 L176.24 292.21 L176.84 291.89 L177.44 291.57 L178.04 291.22 L178.64 290.86 L179.24 290.48 L179.84 290.09 L180.44 289.67 L181.04 289.24 L181.64 288.79 L182.24 288.32 L182.84 287.84 L183.44 287.33 L184.04 286.80 L184.64 286.26 L185.25 285.69 L185.85 285.10 L186.45 284.50 L187.05 283.87 L187.65 283.23 L188.25 282.56 L188.85 281.88 L189.45 281.17 L190.05 280.45 L190.65 279.71 L191.25 278.95 L191.85 278.17 L192.45 277.37 L193.05 276.56 L193.65 275.73 L194.25 274.89 L194.85 274.03 L195.45 273.16 L196.06 272.27 L196.66 271.38 L197.26 270.47 L197.86 269.56 L198.46 268.64 L199.06 267.71 L199.66 266.78 L200.26 265.85 L200.86 264.91 L201.46 263.98 L202.06 263.05 L202.66 262.13 L203.26 261.21 L203.86 260.31 L204.46 259.41 L205.06 258.54 L205.66 257.68 L206.27 256.84 L206.87 256.01 L207.47 255.18 L208.07 254.38 L208.67 253.61 L209.27 252.88 L209.87 252.19 L210.47 251.55 L211.07 250.97 L211.67 250.45 L212.27 249.99 L212.87 249.61 L213.47 249.31 L214.07 249.08 L214.67 248.94 L215.27 248.88 L215.87 248.90 L216.47 248.90 L217.08 248.87 L217.68 248.93 L218.28 249.06 L218.88 249.28 L219.48 249.57 L220.08 249.96 L220.68 250.42 L221.28 250.97 L221.88 251.61 L222.48 252.33 L223.08 253.14 L223.68 254.03 L224.28 255.00 L224.88 256.06 L225.48 257.18 L226.08 258.39 L226.68 259.66 L227.28 261.00 L227.89 262.41 L228.49 263.87 L229.09 265.38 L229.69 266.94 L230.29 268.53 L230.89 270.17 L231.49 271.82 L232.09 273.50 L232.69 275.19 L233.29 276.88 L233.89 278.57 L234.49 280.24 L235.09 281.88 L235.69 283.50 L236.29 285.06 L236.89 286.58 L237.49 288.03 L238.09 289.41 L238.70 290.70 L239.30 291.90 L239.90 293.00 L240.50 293.98 L241.10 294.84 L241.70 295.58 L242.30 296.18 L242.90 296.64 L243.50 296.96 L244.10 296.77 L244.70 296.35 L245.30 295.80 L245.90 295.10 L246.50 294.28 L247.10 293.34 L247.70 292.28 L248.30 291.11 L248.90 289.85 L249.51 288.50 L250.11 287.07 L250.71 285.58 L251.31 284.02 L251.91 282.43 L252.51 280.79 L253.11 279.13 L253.71 277.44 L254.31 275.75 L254.91 274.06 L255.51 272.38 L256.11 270.72 L256.71 269.08 L257.31 267.47 L257.91 265.89 L258.51 264.36 L259.11 262.89 L259.71 261.46 L260.32 260.10 L260.92 258.81 L261.52 257.58 L262.12 256.42 L262.72 255.35 L263.32 254.35 L263.92 253.43 L264.52 252.59 L265.12 251.84 L265.72 251.18 L266.32 250.60 L266.92 250.10 L267.52 249.69 L268.12 249.37 L268.72 249.12 L269.32 248.96 L269.92 248.88 L270.53 248.88 L271.13 248.92 L271.73 248.88 L272.33 248.91 L272.93 249.03 L273.53 249.22 L274.13 249.50 L274.73 249.86 L275.33 250.29 L275.93 250.79 L276.53 251.35 L277.13 251.97 L277.73 252.64 L278.33 253.36 L278.93 254.12 L279.53 254.91 L280.13 255.73 L280.73 256.57 L281.34 257.40 L281.94 258.25 L282.54 259.12 L283.14 260.01 L283.74 260.91 L284.34 261.82 L284.94 262.74 L285.54 263.67 L286.14 264.60 L286.74 265.54 L287.34 266.47 L287.94 267.40 L288.54 268.33 L289.14 269.25 L289.74 270.17 L290.34 271.08 L290.94 271.98 L291.54 272.86 L292.15 273.74 L292.75 274.60 L293.35 275.45 L293.95 276.28 L294.55 277.10 L295.15 277.90 L295.75 278.69 L296.35 279.45 L296.95 280.20 L297.55 280.93 L298.15 281.64 L298.75 282.34 L299.35 283.01 L299.95 283.66 L300.55 284.29 L301.15 284.91 L301.75 285.50 L302.35 286.07 L302.96 286.62 L303.56 287.16 L304.16 287.67 L304.76 288.16 L305.36 288.64 L305.96 289.10 L306.56 289.53 L307.16 289.95 L307.76 290.35 L308.36 290.74 L308.96 291.10 L309.56 291.45 L310.16 291.79 L310.76 292.10 L311.36 292.41 L311.96 292.69 L312.56 292.97 L313.16 293.22 L313.77 293.47 L314.37 293.70 L314.97 293.92 L315.57 294.13 L316.17 294.32 L316.77 294.51 L317.37 294.68 L317.97 294.84 L318.57 295.00 L319.17 295.14 L319.77 295.28 L320.37 295.40 L320.97 295.52 L321.57 295.63 L322.17 295.74 L322.77 295.83 L323.37 295.92 L323.97 296.01 L324.58 296.09 L325.18 296.16 L325.78 296.23 L326.38 296.29 L326.98 296.35 L327.58 296.40 L328.18 296.45 L328.78 296.50 L329.38 296.54 L329.98 296.58 L330.58 296.62 L331.18 296.65 L331.78 296.68 L332.38 296.71 L332.98 296.73 L333.58 296.76 L334.18 296.78 L334.78 296.80 L335.39 296.82 L335.99 296.84 L336.59 296.85 L337.19 296.87 L337.79 296.88 L338.39 296.89 L338.99 296.90 L339.59 296.91 L340.19 296.92 L340.79 296.93 L341.39 296.93 L341.99 296.94 L342.59 296.95 L343.19 296.95 L343.79 296.96 L344.39 296.96 L344.99 296.97 L345.60 296.97 L346.20 296.97 L346.80 296.98 L347.40 296.98 L348.00 296.98 L348.60 296.98 L349.20 296.98 L349.80 296.99 L350.40 296.99 L351.00 296.99 L351.60 296.99 L352.20 296.99 L352.80 296.99 L353.40 296.99 L354.00 296.99 L354.60 296.99 L355.20 297.00 L355.80 297.00 L356.41 297.00 L357.01 297.00 L357.61 297.00 L358.21 297.00 L358.81 297.00 L359.41 297.00 L360.01 297.00 L360.61 297.00 L361.21 297.00 L361.81 297.00 L362.41 297.00 L363.01 297.00 L363.61 297.00 L364.21 297.00 L364.81 297.00 L365.41 297.00 L366.01 297.00 L366.61 297.00 L367.22 297.00 L367.82 297.00 L368.42 297.00 L369.02 297.00 L369.62 297.00 L370.22 297.00 L370.82 297.00 L371.42 297.00 L372.02 297.00 L372.62 297.00 L373.22 297.00 L373.82 297.00 L374.42 297.00 L375.02 297.00 L375.62 297.00 L376.22 297.00 L376.82 297.00 L377.42 297.00 L378.03 297.00 L378.63 297.00 L379.23 297.00 L379.83 297.00 L380.43 297.00 L381.03 297.00 L381.63 297.00 L382.23 297.00 L382.83 297.00 L383.43 297.00 L384.03 297.00 L384.63 297.00 L385.23 297.00 L385.83 297.00 L386.43 297.00 L387.03 297.00 L387.63 297.00 L388.23 297.00 L388.84 297.00 L389.44 297.00 L390.04 297.00 L390.64 297.00 L391.24 297.00 L391.84 297.00 L392.44 297.00 L393.04 297.00 L393.64 297.00 L394.24 297.00 L394.84 297.00 L395.44 297.00 L396.04 297.00 L396.64 297.00 L397.24 297.00 L397.84 297.00 L398.44 297.00 L399.04 297.00 L399.65 297.00 L400.25 297.00 L400.85 297.00 L401.45 297.00 L402.05 297.00 L402.65 297.00 L403.25 297.00 L403.85 297.00 L404.45 297.00 L405.05 297.00 L405.65 297.00 L406.25 297.00 L406.85 297.00 L407.45 297.00 L408.05 297.00 L408.65 297.00 L409.25 297.00 L409.86 297.00 L410.46 297.00 L411.06 297.00 L411.66 297.00 L412.26 297.00 L412.86 297.00 L413.46 297.00 L414.06 297.00 L414.66 297.00 L415.26 297.00 L415.86 297.00 L416.46 297.00 L417.06 297.00 L417.66 297.00 L418.26 297.00 L418.86 297.00 L419.46 297.00 L420.06 297.00 L420.67 297.00 L421.27 297.00 L421.87 297.00 L422.47 297.00 L423.07 297.00 L423.67 297.00 L424.27 297.00 L424.87 297.00 L425.47 297.00 L425.47 297.00 L424.87 297.00 L424.27 297.00 L423.67 297.00 L423.07 297.00 L422.47 297.00 L421.87 297.00 L421.27 297.00 L420.67 297.00 L420.06 297.00 L419.46 297.00 L418.86 297.00 L418.26 297.00 L417.66 297.00 L417.06 297.00 L416.46 297.00 L415.86 297.00 L415.26 297.00 L414.66 297.00 L414.06 297.00 L413.46 297.00 L412.86 297.00 L412.26 297.00 L411.66 297.00 L411.06 297.00 L410.46 297.00 L409.86 297.00 L409.25 297.00 L408.65 297.00 L408.05 297.00 L407.45 297.00 L406.85 297.00 L406.25 297.00 L405.65 297.00 L405.05 297.00 L404.45 297.00 L403.85 297.00 L403.25 297.00 L402.65 297.00 L402.05 297.00 L401.45 297.00 L400.85 297.00 L400.25 297.00 L399.65 297.00 L399.04 297.00 L398.44 297.00 L397.84 297.00 L397.24 297.00 L396.64 297.00 L396.04 297.00 L395.44 297.00 L394.84 297.00 L394.24 297.00 L393.64 297.00 L393.04 297.00 L392.44 297.00 L391.84 297.00 L391.24 297.00 L390.64 297.00 L390.04 297.00 L389.44 297.00 L388.84 297.00 L388.23 297.00 L387.63 297.00 L387.03 297.00 L386.43 297.00 L385.83 297.00 L385.23 297.00 L384.63 297.00 L384.03 297.00 L383.43 297.00 L382.83 297.00 L382.23 297.00 L381.63 297.00 L381.03 297.00 L380.43 297.00 L379.83 297.00 L379.23 297.00 L378.63 297.00 L378.03 297.00 L377.42 297.00 L376.82 297.00 L376.22 297.00 L375.62 297.00 L375.02 297.00 L374.42 297.00 L373.82 297.00 L373.22 297.00 L372.62 297.00 L372.02 297.00 L371.42 297.00 L370.82 297.00 L370.22 297.00 L369.62 297.00 L369.02 297.00 L368.42 297.00 L367.82 297.00 L367.22 297.00 L366.61 297.00 L366.01 297.00 L365.41 297.00 L364.81 297.00 L364.21 297.00 L363.61 297.00 L363.01 297.00 L362.41 297.00 L361.81 297.00 L361.21 297.00 L360.61 297.00 L360.01 297.00 L359.41 297.00 L358.81 297.00 L358.21 297.00 L357.61 297.00 L357.01 297.00 L356.41 297.00 L355.80 297.00 L355.20 297.00 L354.60 296.99 L354.00 296.99 L353.40 296.99 L352.80 296.99 L352.20 296.99 L351.60 296.99 L351.00 296.99 L350.40 296.99 L349.80 296.99 L349.20 296.99 L348.60 296.98 L348.00 296.98 L347.40 296.98 L346.80 296.98 L346.20 296.97 L345.60 296.97 L344.99 296.97 L344.39 296.96 L343.79 296.96 L343.19 296.95 L342.59 296.95 L341.99 296.94 L341.39 296.94 L340.79 296.93 L340.19 296.92 L339.59 296.91 L338.99 296.90 L338.39 296.89 L337.79 296.88 L337.19 296.87 L336.59 296.86 L335.99 296.84 L335.39 296.83 L334.78 296.81 L334.18 296.79 L333.58 296.77 L332.98 296.75 L332.38 296.72 L331.78 296.69 L331.18 296.66 L330.58 296.63 L329.98 296.60 L329.38 296.56 L328.78 296.52 L328.18 296.47 L327.58 296.42 L326.98 296.37 L326.38 296.32 L325.78 296.25 L325.18 296.19 L324.58 296.12 L323.97 296.04 L323.37 295.96 L322.77 295.87 L322.17 295.78 L321.57 295.68 L320.97 295.57 L320.37 295.46 L319.77 295.33 L319.17 295.20 L318.57 295.06 L317.97 294.91 L317.37 294.76 L316.77 294.59 L316.17 294.41 L315.57 294.22 L314.97 294.02 L314.37 293.80 L313.77 293.58 L313.16 293.34 L312.56 293.09 L311.96 292.82 L311.36 292.54 L310.76 292.25 L310.16 291.94 L309.56 291.61 L308.96 291.27 L308.36 290.92 L307.76 290.54 L307.16 290.15 L306.56 289.74 L305.96 289.32 L305.36 288.87 L304.76 288.41 L304.16 287.93 L303.56 287.44 L302.96 286.92 L302.35 286.38 L301.75 285.83 L301.15 285.26 L300.55 284.67 L299.95 284.06 L299.35 283.44 L298.75 282.79 L298.15 282.13 L297.55 281.45 L296.95 280.76 L296.35 280.05 L295.75 279.33 L295.15 278.59 L294.55 277.84 L293.95 277.08 L293.35 276.30 L292.75 275.52 L292.15 274.73 L291.54 273.93 L290.94 273.12 L290.34 272.31 L289.74 271.49 L289.14 270.67 L288.54 269.85 L287.94 269.03 L287.34 268.22 L286.74 267.40 L286.14 266.60 L285.54 265.80 L284.94 265.01 L284.34 264.24 L283.74 263.47 L283.14 262.72 L282.54 261.99 L281.94 261.28 L281.34 260.59 L280.73 259.92 L280.13 259.31 L279.53 258.74 L278.93 258.20 L278.33 257.69 L277.73 257.21 L277.13 256.75 L276.53 256.33 L275.93 255.94 L275.33 255.58 L274.73 255.24 L274.13 254.93 L273.53 254.65 L272.93 254.40 L272.33 254.18 L271.73 254.01 L271.13 253.88 L270.53 253.97 L269.92 254.15 L269.32 254.39 L268.72 254.69 L268.12 255.06 L267.52 255.49 L266.92 255.99 L266.32 256.56 L265.72 257.19 L265.12 257.90 L264.52 258.67 L263.92 259.52 L263.32 260.44 L262.72 261.42 L262.12 262.48 L261.52 263.60 L260.92 264.79 L260.32 266.05 L259.71 267.36 L259.11 268.73 L258.51 270.15 L257.91 271.62 L257.31 273.13 L256.71 274.67 L256.11 276.24 L255.51 277.82 L254.91 279.41 L254.31 281.00 L253.71 282.57 L253.11 284.12 L252.51 285.64 L251.91 287.10 L251.31 288.51 L250.71 289.85 L250.11 291.10 L249.51 292.26 L248.90 293.32 L248.30 294.26 L247.70 295.09 L247.10 295.78 L246.50 296.34 L245.90 296.76 L245.30 297.00 L244.70 297.00 L244.10 297.00 L243.50 297.00 L242.90 297.00 L242.30 297.00 L241.70 296.96 L241.10 296.63 L240.50 296.17 L239.90 295.56 L239.30 294.83 L238.70 293.96 L238.09 292.98 L237.49 291.89 L236.89 290.69 L236.29 289.41 L235.69 288.05 L235.09 286.62 L234.49 285.14 L233.89 283.61 L233.29 282.05 L232.69 280.47 L232.09 278.88 L231.49 277.29 L230.89 275.71 L230.29 274.15 L229.69 272.62 L229.09 271.12 L228.49 269.67 L227.89 268.27 L227.28 266.92 L226.68 265.62 L226.08 264.39 L225.48 263.22 L224.88 262.12 L224.28 261.09 L223.68 260.12 L223.08 259.23 L222.48 258.41 L221.88 257.66 L221.28 256.97 L220.68 256.36 L220.08 255.82 L219.48 255.34 L218.88 254.93 L218.28 254.58 L217.68 254.30 L217.08 254.08 L216.47 253.92 L215.87 253.91 L215.27 254.06 L214.67 254.25 L214.07 254.48 L213.47 254.74 L212.87 255.03 L212.27 255.35 L211.67 255.69 L211.07 256.07 L210.47 256.47 L209.87 256.90 L209.27 257.36 L208.67 257.85 L208.07 258.37 L207.47 258.93 L206.87 259.51 L206.27 260.14 L205.66 260.82 L205.06 261.52 L204.46 262.24 L203.86 262.97 L203.26 263.73 L202.66 264.49 L202.06 265.27 L201.46 266.07 L200.86 266.87 L200.26 267.68 L199.66 268.49 L199.06 269.31 L198.46 270.12 L197.86 270.94 L197.26 271.76 L196.66 272.58 L196.06 273.39 L195.45 274.19 L194.85 274.99 L194.25 275.78 L193.65 276.56 L193.05 277.33 L192.45 278.09 L191.85 278.84 L191.25 279.57 L190.65 280.29 L190.05 280.99 L189.45 281.68 L188.85 282.35 L188.25 283.01 L187.65 283.65 L187.05 284.27 L186.45 284.87 L185.85 285.45 L185.25 286.02 L184.64 286.56 L184.04 287.09 L183.44 287.60 L182.84 288.10 L182.24 288.57 L181.64 289.02 L181.04 289.46 L180.44 289.88 L179.84 290.28 L179.24 290.67 L178.64 291.04 L178.04 291.39 L177.44 291.72 L176.84 292.04 L176.24 292.35 L175.64 292.64 L175.04 292.91 L174.44 293.17 L173.83 293.42 L173.23 293.65 L172.63 293.88 L172.03 294.08 L171.43 294.28 L170.83 294.47 L170.23 294.64 L169.63 294.81 L169.03 294.96 L168.43 295.11 L167.83 295.25 L167.23 295.38 L166.63 295.50 L166.03 295.61 L165.43 295.71 L164.83 295.81 L164.23 295.90 L163.63 295.99 L163.02 296.07 L162.42 296.14 L161.82 296.21 L161.22 296.28 L160.62 296.33 L160.02 296.39 L159.42 296.44 L158.82 296.49 L158.22 296.53 L157.62 296.57 L157.02 296.61 L156.42 296.64 L155.82 296.67 L155.22 296.70 L154.62 296.73 L154.02 296.75 L153.42 296.78 L152.82 296.80 L152.21 296.81 L151.61 296.83 L151.01 296.85 L150.41 296.86 L149.81 296.88 L149.21 296.89 L148.61 296.90 L148.01 296.91 L147.41 296.92 L146.81 296.93 L146.21 296.93 L145.61 296.94 L145.01 296.95 L144.41 296.95 L143.81 296.96 L143.21 296.96 L142.61 296.96 L142.01 296.97 L141.40 296.97 L140.80 296.97 L140.20 296.98 L139.60 296.98 L139.00 296.98 L138.40 296.98 L137.80 296.99 L137.20 296.99 L136.60 296.99 L136.00 296.99 L135.40 296.99 L134.80 296.99 L134.20 296.99 L133.60 296.99 L133.00 296.99 L132.40 297.00 L131.80 297.00 L131.20 297.00 L130.59 297.00 L129.99 297.00 L129.39 297.00 L128.79 297.00 L128.19 297.00 L127.59 297.00 L126.99 297.00 L126.39 297.00 L125.79 297.00 L125.19 297.00 L124.59 297.00 L123.99 297.00 L123.39 297.00 L122.79 297.00 L122.19 297.00 L121.59 297.00 L120.99 297.00 L120.38 297.00 L119.78 297.00 L119.18 297.00 L118.58 297.00 L117.98 297.00 L117.38 297.00 L116.78 297.00 L116.18 297.00 L115.58 297.00 L114.98 297.00 L114.38 297.00 L113.78 297.00 L113.18 297.00 L112.58 297.00 L111.98 297.00 L111.38 297.00 L110.78 297.00 L110.18 297.00 L109.57 297.00 L108.97 297.00 L108.37 297.00 L107.77 297.00 L107.17 297.00 L106.57 297.00 L105.97 297.00 L105.37 297.00 L104.77 297.00 L104.17 297.00 L103.57 297.00 L102.97 297.00 L102.37 297.00 L101.77 297.00 L101.17 297.00 L100.57 297.00 L99.97 297.00 L99.37 297.00 L98.76 297.00 L98.16 297.00 L97.56 297.00 L96.96 297.00 L96.36 297.00 L95.76 297.00 L95.16 297.00 L94.56 297.00 L93.96 297.00 L93.36 297.00 L92.76 297.00 L92.16 297.00 L91.56 297.00 L90.96 297.00 L90.36 297.00 L89.76 297.00 L89.16 297.00 L88.56 297.00 L87.95 297.00 L87.35 297.00 L86.75 297.00 L86.15 297.00 L85.55 297.00 L84.95 297.00 L84.35 297.00 L83.75 297.00 L83.15 297.00 L82.55 297.00 L81.95 297.00 L81.35 297.00 L80.75 297.00 L80.15 297.00 L79.55 297.00 L78.95 297.00 L78.35 297.00 L77.75 297.00 L77.14 297.00 L76.54 297.00 L75.94 297.00 L75.34 297.00 L74.74 297.00 L74.14 297.00 L73.54 297.00 L72.94 297.00 L72.34 297.00 L71.74 297.00 L71.14 297.00 L70.54 297.00 L69.94 297.00 L69.34 297.00 L68.74 297.00 L68.14 297.00 L67.54 297.00 L66.94 297.00 L66.33 297.00 L65.73 297.00 L65.13 297.00 L64.53 297.00 L63.93 297.00 L63.33 297.00 L62.73 297.00 L62.13 297.00 L61.53 297.00 Z" fill="#a4a4f4"/>
<path d="M61.53 297.00 L62.13 297.00 L62.73 297.00 L63.33 297.00 L63.93 297.00 L64.53 297.00 L65.13 297.00 L65.73 297.00 L66.33 297.00 L66.94 297.00 L67.54 297.00 L68.14 297.00 L68.74 297.00 L69.34 297.00 L69.94 297.00 L70.54 297.00 L71.14 297.00 L71.74 297.00 L72.34 297.00 L72.94 297.00 L73.54 297.00 L74.14 297.00 L74.74 297.00 L75.34 297.00 L75.94 297.00 L76.54 297.00 L77.14 297.00 L77.75 297.00 L78.35 297.00 L78.95 297.00 L79.55 297.00 L80.15 297.00 L80.75 297.00 L81.35 297.00 L81.95 297.00 L82.55 297.00 L83.15 297.00 L83.75 297.00 L84.35 297.00 L84.95 297.00 L85.55 297.00 L86.15 297.00 L86.75 297.00 L87.35 297.00 L87.95 297.00 L88.56 297.00 L89.16 297.00 L89.76 297.00 L90.36 297.00 L90.96 297.00 L91.56 297.00 L92.16 297.00 L92.76 297.00 L93.36 297.00 L93.96 297.00 L94.56 297.00 L95.16 297.00 L95.76 297.00 L96.36 297.00 L96.96 297.00 L97.56 297.00 L98.16 297.00 L98.76 297.00 L99.37 297.00 L99.97 297.00 L100.57 297.00 L101.17 297.00 L101.77 297.00 L102.37 297.00 L102.97 297.00 L103.57 297.00 L104.17 297.00 L104.77 297.00 L105.37 297.00 L105.97 297.00 L106.57 297.00 L107.17 297.00 L107.77 297.00 L108.37 297.00 L108.97 297.00 L109.57 297.00 L110.18 297.00 L110.78 297.00 L111.38 297.00 L111.98 297.00 L112.58 297.00 L113.18 297.00 L113.78 297.00 L114.38 297.00 L114.98 297.00 L115.58 297.00 L116.18 297.00 L116.78 297.00 L117.38 297.00 L117.98 297.00 L118.58 297.00 L119.18 297.00 L119.78 297.00 L120.38 297.00 L120.99 297.00 L121.59 297.00 L122.19 297.00 L122.79 297.00 L123.39 297.00 L123.99 297.00 L124.59 297.00 L125.19 297.00 L125.79 297.00 L126.39 297.00 L126.99 297.00 L127.59 297.00 L128.19 297.00 L128.79 297.00 L129.39 297.00 L129.99 297.00 L130.59 297.00 L131.20 297.00 L131.80 297.00 L132.40 297.00 L133.00 296.99 L133.60 296.99 L134.20 296.99 L134.80 296.99 L135.40 296.99 L136.00 296.99 L136.60 296.99 L137.20 296.99 L137.80 296.99 L138.40 296.98 L139.00 296.98 L139.60 296.98 L140.20 296.98 L140.80 296.97 L141.40 296.97 L142.01 296.97 L142.61 296.96 L143.21 296.96 L143.81 296.95 L144.41 296.95 L145.01 296.94 L145.61 296.94 L146.21 296.93 L146.81 296.92 L147.41 296.92 L148.01 296.91 L148.61 296.90 L149.21 296.88 L149.81 296.87 L150.41 296.86 L151.01 296.84 L151.61 296.83 L152.21 296.81 L152.82 296.79 L153.42 296.77 L154.02 296.75 L154.62 296.72 L155.22 296.70 L155.82 296.67 L156.42 296.63 L157.02 296.60 L157.62 296.56 L158.22 296.52 L158.82 296.48 L159.42 296.43 L160.02 296.38 L160.62 296.32 L161.22 296.26 L161.82 296.20 L162.42 296.13 L163.02 296.05 L163.63 295.97 L164.23 295.88 L164.83 295.79 L165.43 295.69 L166.03 295.58 L166.63 295.47 L167.23 295.35 L167.83 295.22 L168.43 295.08 L169.03 294.93 L169.63 294.77 L170.23 294.61 L170.83 294.43 L171.43 294.24 L172.03 294.04 L172.63 293.83 L173.23 293.60 L173.83 293.36 L174.44 293.11 L175.04 292.85 L175.64 292.57 L176.24 292.28 L176.84 291.97 L177.44 291.64 L178.04 291.31 L178.64 290.95 L179.24 290.58 L179.84 290.19 L180.44 289.78 L181.04 289.35 L181.64 288.91 L182.24 288.45 L182.84 287.97 L183.44 287.47 L184.04 286.95 L184.64 286.41 L185.25 285.85 L185.85 285.28 L186.45 284.68 L187.05 284.07 L187.65 283.44 L188.25 282.79 L188.85 282.12 L189.45 281.43 L190.05 280.72 L190.65 280.00 L191.25 279.26 L191.85 278.50 L192.45 277.73 L193.05 276.95 L193.65 276.15 L194.25 275.34 L194.85 274.51 L195.45 273.68 L196.06 272.83 L196.66 271.98 L197.26 271.12 L197.86 270.25 L198.46 269.38 L199.06 268.51 L199.66 267.63 L200.26 266.76 L200.86 265.89 L201.46 265.02 L202.06 264.16 L202.66 263.31 L203.26 262.47 L203.86 261.64 L204.46 260.82 L205.06 260.03 L205.66 259.25 L206.27 258.49 L206.87 257.76 L207.47 257.05 L208.07 256.38 L208.67 255.73 L209.27 255.12 L209.87 254.55 L210.47 254.01 L211.07 253.52 L211.67 253.07 L212.27 252.67 L212.87 252.32 L213.47 252.02 L214.07 251.78 L214.67 251.59 L215.27 251.47 L215.87 251.41 L216.47 251.41 L217.08 251.48 L217.68 251.61 L218.28 251.82 L218.88 252.10 L219.48 252.46 L220.08 252.89" fill="none" stroke="#2a2aec" stroke-width="1.35"/>
<path d="M267.52 252.59 L268.12 252.21 L268.72 251.91 L269.32 251.68 L269.92 251.52 L270.53 251.42 L271.13 251.40 L271.73 251.44 L272.33 251.55 L272.93 251.71 L273.53 251.94 L274.13 252.22 L274.73 252.55 L275.33 252.93 L275.93 253.36 L276.53 253.84 L277.13 254.36 L277.73 254.92 L278.33 255.52 L278.93 256.16 L279.53 256.82 L280.13 257.52 L280.73 258.24 L281.34 258.99 L281.94 259.77 L282.54 260.56 L283.14 261.37 L283.74 262.19 L284.34 263.03 L284.94 263.88 L285.54 264.74 L286.14 265.60 L286.74 266.47 L287.34 267.34 L287.94 268.22 L288.54 269.09 L289.14 269.96 L289.74 270.83 L290.34 271.69 L290.94 272.55 L291.54 273.39 L292.15 274.23 L292.75 275.06 L293.35 275.88 L293.95 276.68 L294.55 277.47 L295.15 278.25 L295.75 279.01 L296.35 279.75 L296.95 280.48 L297.55 281.19 L298.15 281.89 L298.75 282.56 L299.35 283.22 L299.95 283.86 L300.55 284.48 L301.15 285.08 L301.75 285.66 L302.35 286.23 L302.96 286.77 L303.56 287.30 L304.16 287.80 L304.76 288.29 L305.36 288.76 L305.96 289.21 L306.56 289.64 L307.16 290.05 L307.76 290.45 L308.36 290.83 L308.96 291.19 L309.56 291.53 L310.16 291.86 L310.76 292.18 L311.36 292.47 L311.96 292.76 L312.56 293.03 L313.16 293.28 L313.77 293.52 L314.37 293.75 L314.97 293.97 L315.57 294.17 L316.17 294.37 L316.77 294.55 L317.37 294.72 L317.97 294.88 L318.57 295.03 L319.17 295.17 L319.77 295.31 L320.37 295.43 L320.97 295.55 L321.57 295.66 L322.17 295.76 L322.77 295.85 L323.37 295.94 L323.97 296.03 L324.58 296.10 L325.18 296.17 L325.78 296.24 L326.38 296.30 L326.98 296.36 L327.58 296.41 L328.18 296.46 L328.78 296.51 L329.38 296.55 L329.98 296.59 L330.58 296.62 L331.18 296.66 L331.78 296.69 L332.38 296.71 L332.98 296.74 L333.58 296.76 L334.18 296.78 L334.78 296.80 L335.39 296.82 L335.99 296.84 L336.59 296.85 L337.19 296.87 L337.79 296.88 L338.39 296.89 L338.99 296.90 L339.59 296.91 L340.19 296.92 L340.79 296.93 L341.39 296.94 L341.99 296.94 L342.59 296.95 L343.19 296.95 L343.79 296.96 L344.39 296.96 L344.99 296.97 L345.60 296.97 L346.20 296.97 L346.80 296.98 L347.40 296.98 L348.00 296.98 L348.60 296.98 L349.20 296.98 L349.80 296.99 L350.40 296.99 L351.00 296.99 L351.60 296.99 L352.20 296.99 L352.80 296.99 L353.40 296.99 L354.00 296.99 L354.60 296.99 L355.20 297.00 L355.80 297.00 L356.41 297.00 L357.01 297.00 L357.61 297.00 L358.21 297.00 L358.81 297.00 L359.41 297.00 L360.01 297.00 L360.61 297.00 L361.21 297.00 L361.81 297.00 L362.41 297.00 L363.01 297.00 L363.61 297.00 L364.21 297.00 L364.81 297.00 L365.41 297.00 L366.01 297.00 L366.61 297.00 L367.22 297.00 L367.82 297.00 L368.42 297.00 L369.02 297.00 L369.62 297.00 L370.22 297.00 L370.82 297.00 L371.42 297.00 L372.02 297.00 L372.62 297.00 L373.22 297.00 L373.82 297.00 L374.42 297.00 L375.02 297.00 L375.62 297.00 L376.22 297.00 L376.82 297.00 L377.42 297.00 L378.03 297.00 L378.63 297.00 L379.23 297.00 L379.83 297.00 L380.43 297.00 L381.03 297.00 L381.63 297.00 L382.23 297.00 L382.83 297.00 L383.43 297.00 L384.03 297.00 L384.63 297.00 L385.23 297.00 L385.83 297.00 L386.43 297.00 L387.03 297.00 L387.63 297.00 L388.23 297.00 L388.84 297.00 L389.44 297.00 L390.04 297.00 L390.64 297.00 L391.24 297.00 L391.84 297.00 L392.44 297.00 L393.04 297.00 L393.64 297.00 L394.24 297.00 L394.84 297.00 L395.44 297.00 L396.04 297.00 L396.64 297.00 L397.24 297.00 L397.84 297.00 L398.44 297.00 L399.04 297.00 L399.65 297.00 L400.25 297.00 L400.85 297.00 L401.45 297.00 L402.05 297.00 L402.65 297.00 L403.25 297.00 L403.85 297.00 L404.45 297.00 L405.05 297.00 L405.65 297.00 L406.25 297.00 L406.85 297.00 L407.45 297.00 L408.05 297.00 L408.65 297.00 L409.25 297.00 L409.86 297.00 L410.46 297.00 L411.06 297.00 L411.66 297.00 L412.26 297.00 L412.86 297.00 L413.46 297.00 L414.06 297.00 L414.66 297.00 L415.26 297.00 L415.86 297.00 L416.46 297.00 L417.06 297.00 L417.66 297.00 L418.26 297.00 L418.86 297.00 L419.46 297.00 L420.06 297.00 L420.67 297.00 L421.27 297.00 L421.87 297.00 L422.47 297.00 L423.07 297.00 L423.67 297.00 L424.27 297.00 L424.87 297.00 L425.47 297.00" fill="none" stroke="#2a2aec" stroke-width="1.35"/>
<path d="M220.68 253.39 L221.28 253.97 L221.88 254.63 L222.48 255.37 L223.08 256.19 L223.68 257.08 L224.28 258.05 L224.88 259.09 L225.48 260.20 L226.08 261.39 L226.68 262.64 L227.28 263.96 L227.89 265.34 L228.49 266.77 L229.09 268.25 L229.69 269.78 L230.29 271.34 L230.89 272.94 L231.49 274.56 L232.09 276.19 L232.69 277.83 L233.29 279.46 L233.89 281.09 L234.49 282.69 L235.09 284.25 L235.69 285.77 L236.29 287.24 L236.89 288.64 L237.49 289.96 L238.09 291.19 L238.70 292.33 L239.30 293.36 L239.90 294.28 L240.50 295.07 L241.10 295.74 L241.70 296.27 L242.30 296.66 L242.90 296.90 L243.50 297.00 L244.10 296.95 L244.70 296.75 L245.30 296.41 L245.90 295.93 L246.50 295.31 L247.10 294.56 L247.70 293.68 L248.30 292.69 L248.90 291.58 L249.51 290.38 L250.11 289.09 L250.71 287.71 L251.31 286.27 L251.91 284.76 L252.51 283.21 L253.11 281.62 L253.71 280.01 L254.31 278.38 L254.91 276.74 L255.51 275.10 L256.11 273.48 L256.71 271.87 L257.31 270.30 L257.91 268.76 L258.51 267.26 L259.11 265.81 L259.71 264.41 L260.32 263.07 L260.92 261.80 L261.52 260.59 L262.12 259.45 L262.72 258.39 L263.32 257.39 L263.92 256.47 L264.52 255.63 L265.12 254.87 L265.72 254.19 L266.32 253.58 L266.92 253.05" fill="none" stroke="#4646ec" stroke-width="1.1"/>
<line x1="61.53" y1="297.00" x2="153.82" y2="297.00" stroke="#3030ee" stroke-width="2.0"/>
<line x1="242.50" y1="297.00" x2="244.70" y2="297.00" stroke="#3030ee" stroke-width="2.0"/>
<line x1="333.38" y1="297.00" x2="425.87" y2="297.00" stroke="#3030ee" stroke-width="2.0"/>
<line x1="62.50" y1="286.34" x2="64.50" y2="286.34" stroke="#909090" stroke-width="0.6"/>
<text transform="translate(61.50 289.14) scale(1.000 1)" text-anchor="end" style="font-family:'Liberation Sans',sans-serif;font-size:8.00px;font-kerning:none" fill="#000" stroke="#000" stroke-width="0.12">2</text>
<line x1="62.50" y1="275.68" x2="64.50" y2="275.68" stroke="#909090" stroke-width="0.6"/>
<text transform="translate(61.50 278.48) scale(1.000 1)" text-anchor="end" style="font-family:'Liberation Sans',sans-serif;font-size:8.00px;font-kerning:none" fill="#000" stroke="#000" stroke-width="0.12">4</text>
<line x1="62.50" y1="265.02" x2="64.50" y2="265.02" stroke="#909090" stroke-width="0.6"/>
<text transform="translate(61.50 267.82) scale(1.000 1)" text-anchor="end" style="font-family:'Liberation Sans',sans-serif;font-size:8.00px;font-kerning:none" fill="#000" stroke="#000" stroke-width="0.12">6</text>
<line x1="62.50" y1="254.36" x2="64.50" y2="254.36" stroke="#909090" stroke-width="0.6"/>
<text transform="translate(61.50 257.16) scale(1.000 1)" text-anchor="end" style="font-family:'Liberation Sans',sans-serif;font-size:8.00px;font-kerning:none" fill="#000" stroke="#000" stroke-width="0.12">8</text>
<text transform="matrix(1.0326 0 0 0.9086 65.583 254.371)" x="0" y="0" fill="#111" stroke="#111" stroke-width="0.258" style="font-kerning:none" ><tspan style="font-family:'Liberation Serif',serif;font-style:normal;font-size:10.00px" y="0.00">×</tspan></text>
<text transform="matrix(0.9039 0 0 0.7854 72.206 253.523)" x="0" y="0" fill="#111" stroke="#111" stroke-width="0.119" style="font-kerning:none" ><tspan style="font-family:'Liberation Serif',serif;font-style:normal;font-size:10.00px" y="0.00">10</tspan></text>
<text transform="matrix(0.5663 0 0 0.4594 81.784 249.655)" x="0" y="0" fill="#111" stroke="#111" stroke-width="0.098" style="font-kerning:none" ><tspan style="font-family:'Liberation Serif',serif;font-style:normal;font-size:10.00px" y="0.00">8</tspan></text>
<text transform="translate(152.66 304.90) scale(1.000 1)" text-anchor="middle" style="font-family:'Liberation Sans',sans-serif;font-size:8.40px;font-kerning:none" fill="#000" stroke="#000" stroke-width="0.12">−50</text>
<text transform="translate(243.80 304.90) scale(1.000 1)" text-anchor="middle" style="font-family:'Liberation Sans',sans-serif;font-size:8.40px;font-kerning:none" fill="#000" stroke="#000" stroke-width="0.12">0</text>
<text transform="translate(334.94 304.90) scale(1.000 1)" text-anchor="middle" style="font-family:'Liberation Sans',sans-serif;font-size:8.40px;font-kerning:none" fill="#000" stroke="#000" stroke-width="0.12">50</text>
<text transform="translate(426.07 304.90) scale(1.000 1)" text-anchor="middle" style="font-family:'Liberation Sans',sans-serif;font-size:8.40px;font-kerning:none" fill="#000" stroke="#000" stroke-width="0.12">100</text>
<text transform="matrix(1.4912 0 0 1.3361 388.472 320.542)" x="0" y="0" fill="#111" stroke="#111" stroke-width="0.071" style="font-kerning:none" ><tspan style="font-family:'Liberation Serif',serif;font-style:italic;font-size:10.00px" y="0.00">θ</tspan><tspan style="font-family:'Liberation Serif',serif;font-style:normal;font-size:10.00px" y="0.00">(</tspan><tspan style="font-family:'Liberation Serif',serif;font-style:italic;font-size:10.00px" y="0.00">μ</tspan><tspan style="font-family:'Liberation Serif',serif;font-style:normal;font-size:10.00px" y="0.00">rad)</tspan></text>
<text transform="matrix(0 -1.6333 1.6952 0 32.500 293.212)" x="0" y="0" fill="#111" stroke="#111" stroke-width="0.060" style="font-kerning:none" ><tspan style="font-family:'Liberation Serif',serif;font-style:italic;font-size:10.00px" y="0.00">F</tspan></text>
<text transform="matrix(0 -1.2429 1.2352 0 25.770 280.946)" x="0" y="0" fill="#111" stroke="#111" stroke-width="0.081" style="font-kerning:none" ><tspan style="font-family:'Liberation Serif',serif;font-style:normal;font-size:10.00px" y="0.00">(2)</tspan></text>
<text transform="matrix(0 -1.5524 1.8200 0 32.725 263.682)" x="0" y="0" fill="#111" stroke="#111" stroke-width="0.059" style="font-kerning:none" ><tspan style="font-family:'Liberation Serif',serif;font-style:normal;font-size:10.00px" y="0.00">(</tspan><tspan style="font-family:'Liberation Serif',serif;font-style:italic;font-size:10.00px" y="0.00">θ</tspan><tspan style="font-family:'Liberation Serif',serif;font-style:normal;font-size:10.00px" y="0.00">)</tspan></text>
<line x1="62.50" y1="363.50" x2="426.50" y2="363.50" stroke="#c8c8c8" stroke-width="1"/>
<line x1="62.50" y1="371.50" x2="426.50" y2="371.50" stroke="#c8c8c8" stroke-width="1"/>
<line x1="62.50" y1="379.50" x2="426.50" y2="379.50" stroke="#c8c8c8" stroke-width="1"/>
<line x1="62.50" y1="387.50" x2="426.50" y2="387.50" stroke="#c8c8c8" stroke-width="1"/>
<line x1="62.50" y1="395.50" x2="426.50" y2="395.50" stroke="#c8c8c8" stroke-width="1"/>
<line x1="153.50" y1="355.50" x2="153.50" y2="403.00" stroke="#c8c8c8" stroke-width="1"/>
<line x1="153.50" y1="355.50" x2="153.50" y2="357.70" stroke="#666" stroke-width="1"/>
<line x1="153.50" y1="400.80" x2="153.50" y2="403.00" stroke="#666" stroke-width="1"/>
<line x1="244.50" y1="355.50" x2="244.50" y2="403.00" stroke="#c8c8c8" stroke-width="1"/>
<line x1="244.50" y1="355.50" x2="244.50" y2="357.70" stroke="#666" stroke-width="1"/>
<line x1="244.50" y1="400.80" x2="244.50" y2="403.00" stroke="#666" stroke-width="1"/>
<line x1="335.50" y1="355.50" x2="335.50" y2="403.00" stroke="#c8c8c8" stroke-width="1"/>
<line x1="335.50" y1="355.50" x2="335.50" y2="357.70" stroke="#666" stroke-width="1"/>
<line x1="335.50" y1="400.80" x2="335.50" y2="403.00" stroke="#666" stroke-width="1"/>
<line x1="62.50" y1="363.50" x2="64.50" y2="363.50" stroke="#666" stroke-width="1"/>
<line x1="424.50" y1="363.50" x2="426.50" y2="363.50" stroke="#666" stroke-width="1"/>
<line x1="62.50" y1="371.50" x2="64.50" y2="371.50" stroke="#666" stroke-width="1"/>
<line x1="424.50" y1="371.50" x2="426.50" y2="371.50" stroke="#666" stroke-width="1"/>
<line x1="62.50" y1="379.50" x2="64.50" y2="379.50" stroke="#666" stroke-width="1"/>
<line x1="424.50" y1="379.50" x2="426.50" y2="379.50" stroke="#666" stroke-width="1"/>
<line x1="62.50" y1="387.50" x2="64.50" y2="387.50" stroke="#666" stroke-width="1"/>
<line x1="424.50" y1="387.50" x2="426.50" y2="387.50" stroke="#666" stroke-width="1"/>
<line x1="62.50" y1="395.50" x2="64.50" y2="395.50" stroke="#666" stroke-width="1"/>
<line x1="424.50" y1="395.50" x2="426.50" y2="395.50" stroke="#666" stroke-width="1"/>
<text transform="matrix(1.0739 0 0 1.1402 66.380 367.189)" x="0" y="0" fill="#111" stroke="#111" stroke-width="0.108" style="font-kerning:none" ><tspan style="font-family:'Liberation Serif',serif;font-style:italic;font-size:10.00px" y="0.00">ℓ</tspan></text>
<line x1="74.80" y1="362.40" x2="82.00" y2="362.40" stroke="#555" stroke-width="0.8"/>
<line x1="74.80" y1="364.50" x2="82.00" y2="364.50" stroke="#666" stroke-width="0.8"/>
<text transform="matrix(0.9090 0 0 0.9392 86.201 367.300)" x="0" y="0" fill="#111" stroke="#111" stroke-width="0.130" style="font-kerning:none" ><tspan style="font-family:'Liberation Serif',serif;font-style:normal;font-size:10.00px" y="0.00">1</tspan></text>
<text transform="matrix(1.0166 0 0 1.0794 64.292 381.089)" x="0" y="0" fill="#111" stroke="#111" stroke-width="0.115" style="font-kerning:none" ><tspan style="font-family:'Liberation Serif',serif;font-style:italic;font-size:10.00px" y="0.00">d</tspan></text>
<path d="M73.30 376.60 C75.00 374.50 76.70 375.20 77.55 375.80 C78.40 376.40 80.10 377.10 81.80 375.00" fill="none" stroke="#111" stroke-width="0.9"/>
<path d="M73.30 379.50 C75.00 377.40 76.70 378.10 77.55 378.70 C78.40 379.30 80.10 380.00 81.80 377.90" fill="none" stroke="#111" stroke-width="0.9"/>
<text transform="matrix(1.1832 0 0 1.1631 85.260 381.335)" x="0" y="0" fill="#111" stroke="#111" stroke-width="0.102" style="font-kerning:none" ><tspan style="font-family:'Liberation Serif',serif;font-style:normal;font-size:10.00px" y="0.00">1.0</tspan></text>
<text transform="matrix(1.2245 0 0 1.0187 102.343 381.400)" x="0" y="0" fill="#111" stroke="#111" stroke-width="0.107" style="font-kerning:none" ><tspan style="font-family:'Liberation Serif',serif;font-style:normal;font-size:10.00px" y="0.00">mm</tspan></text>
<path d="M62.50 395.75 L63.72 395.77 L64.93 395.78 L66.15 395.79 L67.37 395.81 L68.59 395.83 L69.80 395.85 L71.02 395.87 L72.24 395.89 L73.46 395.91 L74.67 395.93 L75.89 395.96 L77.11 395.99 L78.33 396.01 L79.54 396.04 L80.76 396.07 L81.98 396.11 L83.20 396.14 L84.41 396.18 L85.63 396.21 L86.85 396.25 L88.07 396.29 L89.28 396.33 L90.50 396.38 L91.72 396.42 L92.93 396.47 L94.15 396.52 L95.37 396.57 L96.59 396.62 L97.80 396.67 L99.02 396.73 L100.24 396.78 L101.46 396.84 L102.67 396.89 L103.89 396.95 L105.11 397.01 L106.33 397.07 L107.54 397.13 L108.76 397.20 L109.98 397.26 L111.20 397.32 L112.41 397.38 L113.63 397.44 L114.85 397.51 L116.07 397.57 L117.28 397.63 L118.50 397.69 L119.72 397.75 L120.93 397.80 L122.15 397.86 L123.37 397.91 L124.59 397.97 L125.80 398.02 L127.02 398.07 L128.24 398.11 L129.46 398.15 L130.67 398.19 L131.89 398.23 L133.11 398.26 L134.33 398.29 L135.54 398.32 L136.76 398.34 L137.98 398.35 L139.20 398.36 L140.41 398.37 L141.63 398.37 L142.85 398.36 L144.07 398.35 L145.28 398.33 L146.50 398.31 L147.72 398.28 L148.93 398.24 L150.15 398.20 L151.37 398.14 L152.59 398.08 L153.80 398.01 L155.02 397.94 L156.24 397.85 L157.46 397.75 L158.67 397.65 L159.89 397.54 L161.11 397.41 L162.33 397.28 L163.54 397.13 L164.76 396.97 L165.98 396.81 L167.20 396.63 L168.41 396.44 L169.63 396.23 L170.85 396.02 L172.07 395.79 L173.28 395.55 L174.50 395.29 L175.72 395.02 L176.93 394.74 L178.15 394.44 L179.37 394.13 L180.59 393.81 L181.80 393.47 L183.02 393.11 L184.24 392.74 L185.46 392.36 L186.67 391.96 L187.89 391.55 L189.11 391.12 L190.33 390.67 L191.54 390.22 L192.76 389.75 L193.98 389.26 L195.20 388.77 L196.41 388.26 L197.63 387.73 L198.85 387.20 L200.07 386.66 L201.28 386.11 L202.50 385.54 L203.72 384.97 L204.93 384.40 L206.15 383.82 L207.37 383.23 L208.59 382.64 L209.80 382.05 L211.02 381.46 L212.24 380.87 L213.46 380.29 L214.67 379.71 L215.89 379.13 L217.11 378.56 L218.33 378.00 L219.54 377.46 L220.76 376.92 L221.98 376.40 L223.20 375.90 L224.41 375.41 L225.63 374.95 L226.85 374.50 L228.07 374.08 L229.28 373.68 L230.50 373.31 L231.72 372.97 L232.93 372.65 L234.15 372.36 L235.37 372.11 L236.59 371.88 L237.80 371.69 L239.02 371.53 L240.24 371.41 L241.46 371.32 L242.67 371.26 L243.89 371.24 L245.11 371.25 L246.33 371.30 L247.54 371.39 L248.76 371.51 L249.98 371.66 L251.20 371.84 L252.41 372.06 L253.63 372.31 L254.85 372.60 L256.07 372.91 L257.28 373.25 L258.50 373.61 L259.72 374.01 L260.93 374.43 L262.15 374.87 L263.37 375.33 L264.59 375.81 L265.80 376.31 L267.02 376.83 L268.24 377.36 L269.46 377.91 L270.67 378.46 L271.89 379.03 L273.11 379.60 L274.33 380.18 L275.54 380.77 L276.76 381.36 L277.98 381.95 L279.20 382.54 L280.41 383.13 L281.63 383.71 L282.85 384.30 L284.07 384.87 L285.28 385.44 L286.50 386.01 L287.72 386.56 L288.93 387.10 L290.15 387.64 L291.37 388.16 L292.59 388.68 L293.80 389.17 L295.02 389.66 L296.24 390.13 L297.46 390.59 L298.67 391.04 L299.89 391.47 L301.11 391.89 L302.33 392.29 L303.54 392.68 L304.76 393.05 L305.98 393.41 L307.20 393.75 L308.41 394.08 L309.63 394.39 L310.85 394.69 L312.07 394.97 L313.28 395.25 L314.50 395.50 L315.72 395.75 L316.93 395.98 L318.15 396.20 L319.37 396.40 L320.59 396.59 L321.80 396.78 L323.02 396.95 L324.24 397.10 L325.46 397.25 L326.67 397.39 L327.89 397.51 L329.11 397.63 L330.33 397.74 L331.54 397.83 L332.76 397.92 L333.98 398.00 L335.20 398.07 L336.41 398.13 L337.63 398.19 L338.85 398.23 L340.07 398.27 L341.28 398.30 L342.50 398.33 L343.72 398.35 L344.93 398.36 L346.15 398.37 L347.37 398.37 L348.59 398.36 L349.80 398.35 L351.02 398.34 L352.24 398.32 L353.46 398.30 L354.67 398.27 L355.89 398.24 L357.11 398.20 L358.33 398.16 L359.54 398.12 L360.76 398.07 L361.98 398.03 L363.20 397.98 L364.41 397.92 L365.63 397.87 L366.85 397.81 L368.07 397.76 L369.28 397.70 L370.50 397.64 L371.72 397.58 L372.93 397.52 L374.15 397.45 L375.37 397.39 L376.59 397.33 L377.80 397.27 L379.02 397.21 L380.24 397.15 L381.46 397.08 L382.67 397.02 L383.89 396.96 L385.11 396.91 L386.33 396.85 L387.54 396.79 L388.76 396.74 L389.98 396.68 L391.20 396.63 L392.41 396.58 L393.63 396.53 L394.85 396.48 L396.07 396.43 L397.28 396.39 L398.50 396.34 L399.72 396.30 L400.93 396.26 L402.15 396.22 L403.37 396.18 L404.59 396.15 L405.80 396.11 L407.02 396.08 L408.24 396.05 L409.46 396.02 L410.67 395.99 L411.89 395.96 L413.11 395.94 L414.33 395.91 L415.54 395.89 L416.76 395.87 L417.98 395.85 L419.20 395.83 L420.41 395.81 L421.63 395.80 L422.85 395.78 L424.07 395.77 L425.28 395.75 L426.50 395.74" fill="none" stroke="#000" stroke-width="1.2"/>
<rect x="61.40" y="392.60" width="2.8" height="2.8" fill="#000"/>
<rect x="72.40" y="392.20" width="2.8" height="2.8" fill="#000"/>
<rect x="83.40" y="391.70" width="2.8" height="2.8" fill="#000"/>
<rect x="94.60" y="395.20" width="2.8" height="2.8" fill="#000"/>
<rect x="105.60" y="396.80" width="2.8" height="2.8" fill="#000"/>
<rect x="116.40" y="397.50" width="2.8" height="2.8" fill="#000"/>
<rect x="127.40" y="397.90" width="2.8" height="2.8" fill="#000"/>
<rect x="138.40" y="397.50" width="2.8" height="2.8" fill="#000"/>
<rect x="149.60" y="396.30" width="2.8" height="2.8" fill="#000"/>
<rect x="160.50" y="394.90" width="2.8" height="2.8" fill="#000"/>
<rect x="171.50" y="392.90" width="2.8" height="2.8" fill="#000"/>
<rect x="182.50" y="390.60" width="2.8" height="2.8" fill="#000"/>
<rect x="193.80" y="388.70" width="2.8" height="2.8" fill="#000"/>
<rect x="204.80" y="386.00" width="2.8" height="2.8" fill="#000"/>
<rect x="215.60" y="380.70" width="2.8" height="2.8" fill="#000"/>
<rect x="226.60" y="376.60" width="2.8" height="2.8" fill="#000"/>
<rect x="237.60" y="370.40" width="2.8" height="2.8" fill="#000"/>
<rect x="248.90" y="369.90" width="2.8" height="2.8" fill="#000"/>
<rect x="259.90" y="373.80" width="2.8" height="2.8" fill="#000"/>
<rect x="270.70" y="380.00" width="2.8" height="2.8" fill="#000"/>
<rect x="281.70" y="386.40" width="2.8" height="2.8" fill="#000"/>
<rect x="293.00" y="390.60" width="2.8" height="2.8" fill="#000"/>
<rect x="304.00" y="392.90" width="2.8" height="2.8" fill="#000"/>
<rect x="314.70" y="395.60" width="2.8" height="2.8" fill="#000"/>
<rect x="325.80" y="396.30" width="2.8" height="2.8" fill="#000"/>
<rect x="336.80" y="397.00" width="2.8" height="2.8" fill="#000"/>
<rect x="347.60" y="397.20" width="2.8" height="2.8" fill="#000"/>
<rect x="358.90" y="395.60" width="2.8" height="2.8" fill="#000"/>
<rect x="369.90" y="393.80" width="2.8" height="2.8" fill="#000"/>
<rect x="380.90" y="392.20" width="2.8" height="2.8" fill="#000"/>
<rect x="392.10" y="392.90" width="2.8" height="2.8" fill="#000"/>
<rect x="403.10" y="393.30" width="2.8" height="2.8" fill="#000"/>
<rect x="413.90" y="394.00" width="2.8" height="2.8" fill="#000"/>
<rect x="424.90" y="394.50" width="2.8" height="2.8" fill="#000"/>
<rect x="62.50" y="355.50" width="364.00" height="47.50" fill="none" stroke="#858585" stroke-width="1"/>
<text transform="translate(53.05 355.90) scale(0.930 1)" text-anchor="end" style="font-family:'Liberation Sans',sans-serif;font-size:7.80px;font-kerning:none" fill="#000" stroke="#000" stroke-width="0.12">1</text>
<text transform="translate(53.05 363.87) scale(0.930 1)" text-anchor="end" style="font-family:'Liberation Sans',sans-serif;font-size:7.80px;font-kerning:none" fill="#000" stroke="#000" stroke-width="0.12">0.9</text>
<text transform="translate(53.05 371.83) scale(0.930 1)" text-anchor="end" style="font-family:'Liberation Sans',sans-serif;font-size:7.80px;font-kerning:none" fill="#000" stroke="#000" stroke-width="0.12">0.8</text>
<text transform="translate(53.05 379.80) scale(0.930 1)" text-anchor="end" style="font-family:'Liberation Sans',sans-serif;font-size:7.80px;font-kerning:none" fill="#000" stroke="#000" stroke-width="0.12">0.7</text>
<text transform="translate(53.05 387.77) scale(0.930 1)" text-anchor="end" style="font-family:'Liberation Sans',sans-serif;font-size:7.80px;font-kerning:none" fill="#000" stroke="#000" stroke-width="0.12">0.6</text>
<text transform="translate(53.05 395.73) scale(0.930 1)" text-anchor="end" style="font-family:'Liberation Sans',sans-serif;font-size:7.80px;font-kerning:none" fill="#000" stroke="#000" stroke-width="0.12">0.5</text>
<text transform="translate(53.05 403.70) scale(0.930 1)" text-anchor="end" style="font-family:'Liberation Sans',sans-serif;font-size:7.80px;font-kerning:none" fill="#000" stroke="#000" stroke-width="0.12">0.4</text>
<text transform="translate(63.30 412.30) scale(1.040 1)" text-anchor="middle" style="font-family:'Liberation Sans',sans-serif;font-size:7.20px;font-kerning:none" fill="#000" stroke="#000" stroke-width="0.12">-100</text>
<text transform="translate(154.30 412.30) scale(1.040 1)" text-anchor="middle" style="font-family:'Liberation Sans',sans-serif;font-size:7.20px;font-kerning:none" fill="#000" stroke="#000" stroke-width="0.12">-50</text>
<text transform="translate(245.30 412.30) scale(1.040 1)" text-anchor="middle" style="font-family:'Liberation Sans',sans-serif;font-size:7.20px;font-kerning:none" fill="#000" stroke="#000" stroke-width="0.12">0</text>
<text transform="translate(336.30 412.30) scale(1.040 1)" text-anchor="middle" style="font-family:'Liberation Sans',sans-serif;font-size:7.20px;font-kerning:none" fill="#000" stroke="#000" stroke-width="0.12">50</text>
<text transform="translate(427.30 412.30) scale(1.040 1)" text-anchor="middle" style="font-family:'Liberation Sans',sans-serif;font-size:7.20px;font-kerning:none" fill="#000" stroke="#000" stroke-width="0.12">100</text>
<text transform="matrix(1.4912 0 0 1.3252 388.472 430.666)" x="0" y="0" fill="#111" stroke="#111" stroke-width="0.071" style="font-kerning:none" ><tspan style="font-family:'Liberation Serif',serif;font-style:italic;font-size:10.00px" y="0.00">θ</tspan><tspan style="font-family:'Liberation Serif',serif;font-style:normal;font-size:10.00px" y="0.00">(</tspan><tspan style="font-family:'Liberation Serif',serif;font-style:italic;font-size:10.00px" y="0.00">μ</tspan><tspan style="font-family:'Liberation Serif',serif;font-style:normal;font-size:10.00px" y="0.00">rad)</tspan></text>
<text transform="matrix(1.5236 0 0 1.4813 2.053 357.133)" x="0" y="0" fill="#000" stroke="#000" stroke-width="0.067" style="font-kerning:none" ><tspan style="font-family:'Liberation Sans',sans-serif;font-style:normal;font-size:10.00px" y="0.00">c)</tspan></text>
<text transform="matrix(0 -1.2682 1.3302 0 30.768 393.657)" x="0" y="0" fill="#111" stroke="#111" stroke-width="0.077" style="font-kerning:none" ><tspan style="font-family:'Liberation Serif',serif;font-style:italic;font-size:10.00px" y="0.00">p</tspan></text>
<text transform="matrix(0 -1.1130 1.0808 0 24.999 386.989)" x="0" y="0" fill="#111" stroke="#111" stroke-width="0.091" style="font-kerning:none" ><tspan style="font-family:'Liberation Serif',serif;font-style:normal;font-size:10.00px" y="0.00">(1)</tspan></text>
<text transform="matrix(0 -1.3373 1.5349 0 31.032 372.088)" x="0" y="0" fill="#111" stroke="#111" stroke-width="0.070" style="font-kerning:none" ><tspan style="font-family:'Liberation Serif',serif;font-style:normal;font-size:10.00px" y="0.00">(</tspan><tspan style="font-family:'Liberation Serif',serif;font-style:italic;font-size:10.00px" y="0.00">θ</tspan><tspan style="font-family:'Liberation Serif',serif;font-style:normal;font-size:10.00px" y="0.00">)</tspan></text>
<line x1="54" y1="480.50" x2="433" y2="480.50" stroke="#c0c0c0" stroke-width="1"/>
<line x1="61.50" y1="428.30" x2="61.50" y2="483.00" stroke="#c4c4c4" stroke-width="1"/>
<line x1="79.56" y1="479.30" x2="79.56" y2="480.50" stroke="#909090" stroke-width="0.6"/>
<line x1="97.78" y1="479.30" x2="97.78" y2="480.50" stroke="#909090" stroke-width="0.6"/>
<line x1="116.01" y1="479.30" x2="116.01" y2="480.50" stroke="#909090" stroke-width="0.6"/>
<line x1="134.24" y1="479.30" x2="134.24" y2="480.50" stroke="#909090" stroke-width="0.6"/>
<line x1="152.46" y1="479.30" x2="152.46" y2="480.50" stroke="#909090" stroke-width="0.6"/>
<line x1="170.69" y1="479.30" x2="170.69" y2="480.50" stroke="#909090" stroke-width="0.6"/>
<line x1="188.92" y1="479.30" x2="188.92" y2="480.50" stroke="#909090" stroke-width="0.6"/>
<line x1="207.15" y1="479.30" x2="207.15" y2="480.50" stroke="#909090" stroke-width="0.6"/>
<line x1="225.37" y1="479.30" x2="225.37" y2="480.50" stroke="#909090" stroke-width="0.6"/>
<line x1="243.60" y1="479.30" x2="243.60" y2="480.50" stroke="#909090" stroke-width="0.6"/>
<line x1="261.83" y1="479.30" x2="261.83" y2="480.50" stroke="#909090" stroke-width="0.6"/>
<line x1="280.05" y1="479.30" x2="280.05" y2="480.50" stroke="#909090" stroke-width="0.6"/>
<line x1="298.28" y1="479.30" x2="298.28" y2="480.50" stroke="#909090" stroke-width="0.6"/>
<line x1="316.51" y1="479.30" x2="316.51" y2="480.50" stroke="#909090" stroke-width="0.6"/>
<line x1="334.74" y1="479.30" x2="334.74" y2="480.50" stroke="#909090" stroke-width="0.6"/>
<line x1="352.96" y1="479.30" x2="352.96" y2="480.50" stroke="#909090" stroke-width="0.6"/>
<line x1="371.19" y1="479.30" x2="371.19" y2="480.50" stroke="#909090" stroke-width="0.6"/>
<line x1="389.42" y1="479.30" x2="389.42" y2="480.50" stroke="#909090" stroke-width="0.6"/>
<line x1="407.64" y1="479.30" x2="407.64" y2="480.50" stroke="#909090" stroke-width="0.6"/>
<line x1="425.87" y1="479.30" x2="425.87" y2="480.50" stroke="#909090" stroke-width="0.6"/>
<path d="M61.53 480.49 L62.13 480.49 L62.73 480.49 L63.33 480.49 L63.93 480.49 L64.53 480.49 L65.13 480.49 L65.73 480.49 L66.33 480.49 L66.94 480.48 L67.54 480.48 L68.14 480.48 L68.74 480.48 L69.34 480.48 L69.94 480.48 L70.54 480.48 L71.14 480.48 L71.74 480.48 L72.34 480.48 L72.94 480.48 L73.54 480.47 L74.14 480.47 L74.74 480.47 L75.34 480.47 L75.94 480.47 L76.54 480.47 L77.14 480.47 L77.75 480.47 L78.35 480.46 L78.95 480.46 L79.55 480.46 L80.15 480.46 L80.75 480.46 L81.35 480.46 L81.95 480.46 L82.55 480.45 L83.15 480.45 L83.75 480.45 L84.35 480.45 L84.95 480.45 L85.55 480.45 L86.15 480.44 L86.75 480.44 L87.35 480.44 L87.95 480.44 L88.56 480.44 L89.16 480.44 L89.76 480.44 L90.36 480.43 L90.96 480.43 L91.56 480.43 L92.16 480.43 L92.76 480.43 L93.36 480.43 L93.96 480.42 L94.56 480.42 L95.16 480.42 L95.76 480.42 L96.36 480.42 L96.96 480.42 L97.56 480.42 L98.16 480.42 L98.76 480.42 L99.37 480.42 L99.97 480.41 L100.57 480.41 L101.17 480.41 L101.77 480.41 L102.37 480.41 L102.97 480.41 L103.57 480.41 L104.17 480.41 L104.77 480.41 L105.37 480.41 L105.97 480.41 L106.57 480.41 L107.17 480.41 L107.77 480.41 L108.37 480.41 L108.97 480.41 L109.57 480.41 L110.18 480.42 L110.78 480.42 L111.38 480.42 L111.98 480.42 L112.58 480.42 L113.18 480.42 L113.78 480.42 L114.38 480.42 L114.98 480.43 L115.58 480.43 L116.18 480.43 L116.78 480.43 L117.38 480.43 L117.98 480.44 L118.58 480.44 L119.18 480.44 L119.78 480.44 L120.38 480.45 L120.99 480.45 L121.59 480.45 L122.19 480.45 L122.79 480.46 L123.39 480.46 L123.99 480.46 L124.59 480.47 L125.19 480.47 L125.79 480.47 L126.39 480.47 L126.99 480.48 L127.59 480.48 L128.19 480.48 L128.79 480.48 L129.39 480.49 L129.99 480.49 L130.59 480.49 L131.20 480.49 L131.80 480.49 L132.40 480.50 L133.00 480.50 L133.60 480.50 L134.20 480.50 L134.80 480.50 L135.40 480.50 L136.00 480.50 L136.60 480.50 L137.20 480.50 L137.80 480.50 L138.40 480.50 L139.00 480.49 L139.60 480.49 L140.20 480.49 L140.80 480.48 L141.40 480.48 L142.01 480.47 L142.61 480.47 L143.21 480.46 L143.81 480.46 L144.41 480.45 L145.01 480.44 L145.61 480.43 L146.21 480.42 L146.81 480.41 L147.41 480.40 L148.01 480.39 L148.61 480.38 L149.21 480.36 L149.81 480.35 L150.41 480.33 L151.01 480.31 L151.61 480.30 L152.21 480.28 L152.82 480.26 L153.42 480.23 L154.02 480.21 L154.62 480.19 L155.22 480.16 L155.82 480.13 L156.42 480.11 L157.02 480.08 L157.62 480.04 L158.22 480.01 L158.82 479.98 L159.42 479.94 L160.02 479.90 L160.62 479.86 L161.22 479.82 L161.82 479.78 L162.42 479.73 L163.02 479.68 L163.63 479.63 L164.23 479.58 L164.83 479.52 L165.43 479.47 L166.03 479.41 L166.63 479.35 L167.23 479.28 L167.83 479.22 L168.43 479.15 L169.03 479.08 L169.63 479.00 L170.23 478.93 L170.83 478.85 L171.43 478.76 L172.03 478.68 L172.63 478.59 L173.23 478.50 L173.83 478.40 L174.44 478.31 L175.04 478.21 L175.64 478.10 L176.24 477.99 L176.84 477.88 L177.44 477.77 L178.04 477.65 L178.64 477.53 L179.24 477.40 L179.84 477.28 L180.44 477.14 L181.04 477.01 L181.64 476.87 L182.24 476.72 L182.84 476.57 L183.44 476.42 L184.04 476.27 L184.64 476.11 L185.25 475.94 L185.85 475.78 L186.45 475.61 L187.05 475.43 L187.65 475.25 L188.25 475.07 L188.85 474.88 L189.45 474.69 L190.05 474.50 L190.65 474.30 L191.25 474.10 L191.85 473.90 L192.45 473.69 L193.05 473.49 L193.65 473.28 L194.25 473.06 L194.85 472.85 L195.45 472.64 L196.06 472.42 L196.66 472.20 L197.26 471.99 L197.86 471.78 L198.46 471.56 L199.06 471.35 L199.66 471.14 L200.26 470.92 L200.86 470.71 L201.46 470.50 L202.06 470.29 L202.66 470.10 L203.26 469.91 L203.86 469.73 L204.46 469.56 L205.06 469.40 L205.66 469.26 L206.27 469.13 L206.87 469.03 L207.47 468.94 L208.07 468.87 L208.67 468.81 L209.27 468.78 L209.87 468.77 L210.47 468.78 L211.07 468.79 L211.67 468.77 L212.27 468.77 L212.87 468.79 L213.47 468.83 L214.07 468.89 L214.67 468.96 L215.27 469.06 L215.87 469.17 L216.47 469.31 L217.08 469.46 L217.68 469.63 L218.28 469.81 L218.88 470.02 L219.48 470.24 L220.08 470.47 L220.68 470.71 L221.28 470.97 L221.88 471.24 L222.48 471.53 L223.08 471.82 L223.68 472.11 L224.28 472.42 L224.88 472.73 L225.48 473.04 L226.08 473.36 L226.68 473.68 L227.28 474.01 L227.89 474.33 L228.49 474.65 L229.09 474.97 L229.69 475.29 L230.29 475.61 L230.89 475.92 L231.49 476.23 L232.09 476.53 L232.69 476.83 L233.29 477.13 L233.89 477.41 L234.49 477.69 L235.09 477.96 L235.69 478.22 L236.29 478.48 L236.89 478.72 L237.49 478.95 L238.09 479.17 L238.70 479.38 L239.30 479.58 L239.90 479.76 L240.50 479.92 L241.10 480.07 L241.70 480.20 L242.30 480.32 L242.90 480.41 L243.50 480.49 L244.10 480.44 L244.70 480.35 L245.30 480.24 L245.90 480.12 L246.50 479.97 L247.10 479.81 L247.70 479.64 L248.30 479.45 L248.90 479.24 L249.51 479.03 L250.11 478.80 L250.71 478.56 L251.31 478.31 L251.91 478.05 L252.51 477.78 L253.11 477.51 L253.71 477.22 L254.31 476.93 L254.91 476.63 L255.51 476.33 L256.11 476.02 L256.71 475.71 L257.31 475.40 L257.91 475.08 L258.51 474.76 L259.11 474.44 L259.71 474.11 L260.32 473.79 L260.92 473.47 L261.52 473.15 L262.12 472.83 L262.72 472.52 L263.32 472.21 L263.92 471.91 L264.52 471.62 L265.12 471.34 L265.72 471.06 L266.32 470.80 L266.92 470.55 L267.52 470.31 L268.12 470.09 L268.72 469.88 L269.32 469.69 L269.92 469.51 L270.53 469.36 L271.13 469.22 L271.73 469.10 L272.33 468.99 L272.93 468.91 L273.53 468.85 L274.13 468.80 L274.73 468.78 L275.33 468.77 L275.93 468.78 L276.53 468.79 L277.13 468.77 L277.73 468.78 L278.33 468.80 L278.93 468.85 L279.53 468.91 L280.13 468.99 L280.73 469.10 L281.34 469.22 L281.94 469.35 L282.54 469.50 L283.14 469.67 L283.74 469.84 L284.34 470.03 L284.94 470.23 L285.54 470.43 L286.14 470.64 L286.74 470.85 L287.34 471.07 L287.94 471.28 L288.54 471.49 L289.14 471.70 L289.74 471.92 L290.34 472.13 L290.94 472.35 L291.54 472.56 L292.15 472.78 L292.75 472.99 L293.35 473.20 L293.95 473.42 L294.55 473.62 L295.15 473.83 L295.75 474.03 L296.35 474.24 L296.95 474.43 L297.55 474.63 L298.15 474.82 L298.75 475.01 L299.35 475.19 L299.95 475.37 L300.55 475.55 L301.15 475.72 L301.75 475.89 L302.35 476.05 L302.96 476.21 L303.56 476.37 L304.16 476.52 L304.76 476.67 L305.36 476.82 L305.96 476.96 L306.56 477.10 L307.16 477.23 L307.76 477.36 L308.36 477.49 L308.96 477.61 L309.56 477.73 L310.16 477.85 L310.76 477.96 L311.36 478.07 L311.96 478.17 L312.56 478.27 L313.16 478.37 L313.77 478.47 L314.37 478.56 L314.97 478.65 L315.57 478.74 L316.17 478.82 L316.77 478.90 L317.37 478.98 L317.97 479.05 L318.57 479.13 L319.17 479.20 L319.77 479.26 L320.37 479.33 L320.97 479.39 L321.57 479.45 L322.17 479.51 L322.77 479.56 L323.37 479.61 L323.97 479.66 L324.58 479.71 L325.18 479.76 L325.78 479.80 L326.38 479.85 L326.98 479.89 L327.58 479.93 L328.18 479.96 L328.78 480.00 L329.38 480.03 L329.98 480.07 L330.58 480.10 L331.18 480.13 L331.78 480.15 L332.38 480.18 L332.98 480.20 L333.58 480.23 L334.18 480.25 L334.78 480.27 L335.39 480.29 L335.99 480.31 L336.59 480.33 L337.19 480.34 L337.79 480.36 L338.39 480.37 L338.99 480.38 L339.59 480.40 L340.19 480.41 L340.79 480.42 L341.39 480.43 L341.99 480.44 L342.59 480.45 L343.19 480.45 L343.79 480.46 L344.39 480.47 L344.99 480.47 L345.60 480.48 L346.20 480.48 L346.80 480.49 L347.40 480.49 L348.00 480.49 L348.60 480.49 L349.20 480.50 L349.80 480.50 L350.40 480.50 L351.00 480.50 L351.60 480.50 L352.20 480.50 L352.80 480.50 L353.40 480.50 L354.00 480.50 L354.60 480.50 L355.20 480.49 L355.80 480.49 L356.41 480.49 L357.01 480.49 L357.61 480.49 L358.21 480.48 L358.81 480.48 L359.41 480.48 L360.01 480.48 L360.61 480.47 L361.21 480.47 L361.81 480.47 L362.41 480.47 L363.01 480.46 L363.61 480.46 L364.21 480.46 L364.81 480.46 L365.41 480.45 L366.01 480.45 L366.61 480.45 L367.22 480.44 L367.82 480.44 L368.42 480.44 L369.02 480.44 L369.62 480.44 L370.22 480.43 L370.82 480.43 L371.42 480.43 L372.02 480.43 L372.62 480.43 L373.22 480.42 L373.82 480.42 L374.42 480.42 L375.02 480.42 L375.62 480.42 L376.22 480.42 L376.82 480.42 L377.42 480.41 L378.03 480.41 L378.63 480.41 L379.23 480.41 L379.83 480.41 L380.43 480.41 L381.03 480.41 L381.63 480.41 L382.23 480.41 L382.83 480.41 L383.43 480.41 L384.03 480.41 L384.63 480.41 L385.23 480.41 L385.83 480.41 L386.43 480.41 L387.03 480.41 L387.63 480.41 L388.23 480.42 L388.84 480.42 L389.44 480.42 L390.04 480.42 L390.64 480.42 L391.24 480.42 L391.84 480.42 L392.44 480.42 L393.04 480.42 L393.64 480.43 L394.24 480.43 L394.84 480.43 L395.44 480.43 L396.04 480.43 L396.64 480.43 L397.24 480.43 L397.84 480.44 L398.44 480.44 L399.04 480.44 L399.65 480.44 L400.25 480.44 L400.85 480.44 L401.45 480.45 L402.05 480.45 L402.65 480.45 L403.25 480.45 L403.85 480.45 L404.45 480.45 L405.05 480.45 L405.65 480.46 L406.25 480.46 L406.85 480.46 L407.45 480.46 L408.05 480.46 L408.65 480.46 L409.25 480.47 L409.86 480.47 L410.46 480.47 L411.06 480.47 L411.66 480.47 L412.26 480.47 L412.86 480.47 L413.46 480.47 L414.06 480.47 L414.66 480.48 L415.26 480.48 L415.86 480.48 L416.46 480.48 L417.06 480.48 L417.66 480.48 L418.26 480.48 L418.86 480.48 L419.46 480.48 L420.06 480.48 L420.67 480.49 L421.27 480.49 L421.87 480.49 L422.47 480.49 L423.07 480.49 L423.67 480.49 L424.27 480.49 L424.87 480.49 L425.47 480.49 L425.47 480.49 L424.87 480.49 L424.27 480.49 L423.67 480.49 L423.07 480.49 L422.47 480.49 L421.87 480.49 L421.27 480.49 L420.67 480.49 L420.06 480.49 L419.46 480.48 L418.86 480.48 L418.26 480.48 L417.66 480.48 L417.06 480.48 L416.46 480.48 L415.86 480.48 L415.26 480.48 L414.66 480.48 L414.06 480.48 L413.46 480.47 L412.86 480.47 L412.26 480.47 L411.66 480.47 L411.06 480.47 L410.46 480.47 L409.86 480.47 L409.25 480.47 L408.65 480.47 L408.05 480.46 L407.45 480.46 L406.85 480.46 L406.25 480.46 L405.65 480.46 L405.05 480.46 L404.45 480.45 L403.85 480.45 L403.25 480.45 L402.65 480.45 L402.05 480.45 L401.45 480.45 L400.85 480.45 L400.25 480.44 L399.65 480.44 L399.04 480.44 L398.44 480.44 L397.84 480.44 L397.24 480.44 L396.64 480.43 L396.04 480.43 L395.44 480.43 L394.84 480.43 L394.24 480.43 L393.64 480.43 L393.04 480.43 L392.44 480.42 L391.84 480.42 L391.24 480.42 L390.64 480.42 L390.04 480.42 L389.44 480.42 L388.84 480.42 L388.23 480.42 L387.63 480.42 L387.03 480.41 L386.43 480.41 L385.83 480.41 L385.23 480.41 L384.63 480.41 L384.03 480.41 L383.43 480.41 L382.83 480.41 L382.23 480.41 L381.63 480.41 L381.03 480.41 L380.43 480.41 L379.83 480.41 L379.23 480.41 L378.63 480.41 L378.03 480.41 L377.42 480.42 L376.82 480.42 L376.22 480.42 L375.62 480.42 L375.02 480.42 L374.42 480.42 L373.82 480.42 L373.22 480.43 L372.62 480.43 L372.02 480.43 L371.42 480.43 L370.82 480.43 L370.22 480.44 L369.62 480.44 L369.02 480.44 L368.42 480.44 L367.82 480.44 L367.22 480.45 L366.61 480.45 L366.01 480.45 L365.41 480.46 L364.81 480.46 L364.21 480.46 L363.61 480.46 L363.01 480.47 L362.41 480.47 L361.81 480.47 L361.21 480.47 L360.61 480.48 L360.01 480.48 L359.41 480.48 L358.81 480.48 L358.21 480.49 L357.61 480.49 L357.01 480.49 L356.41 480.49 L355.80 480.49 L355.20 480.50 L354.60 480.50 L354.00 480.50 L353.40 480.50 L352.80 480.50 L352.20 480.50 L351.60 480.50 L351.00 480.50 L350.40 480.50 L349.80 480.50 L349.20 480.50 L348.60 480.50 L348.00 480.49 L347.40 480.49 L346.80 480.49 L346.20 480.49 L345.60 480.48 L344.99 480.48 L344.39 480.47 L343.79 480.47 L343.19 480.46 L342.59 480.45 L341.99 480.45 L341.39 480.44 L340.79 480.43 L340.19 480.42 L339.59 480.41 L338.99 480.40 L338.39 480.38 L337.79 480.37 L337.19 480.36 L336.59 480.34 L335.99 480.33 L335.39 480.31 L334.78 480.29 L334.18 480.27 L333.58 480.25 L332.98 480.23 L332.38 480.20 L331.78 480.18 L331.18 480.15 L330.58 480.13 L329.98 480.10 L329.38 480.07 L328.78 480.03 L328.18 480.00 L327.58 479.97 L326.98 479.93 L326.38 479.89 L325.78 479.85 L325.18 479.81 L324.58 479.76 L323.97 479.72 L323.37 479.67 L322.77 479.62 L322.17 479.57 L321.57 479.51 L320.97 479.46 L320.37 479.40 L319.77 479.34 L319.17 479.28 L318.57 479.21 L317.97 479.14 L317.37 479.08 L316.77 479.00 L316.17 478.93 L315.57 478.85 L314.97 478.78 L314.37 478.70 L313.77 478.61 L313.16 478.53 L312.56 478.44 L311.96 478.35 L311.36 478.26 L310.76 478.17 L310.16 478.07 L309.56 477.97 L308.96 477.88 L308.36 477.78 L307.76 477.67 L307.16 477.57 L306.56 477.47 L305.96 477.36 L305.36 477.25 L304.76 477.14 L304.16 477.04 L303.56 476.93 L302.96 476.82 L302.35 476.71 L301.75 476.60 L301.15 476.49 L300.55 476.38 L299.95 476.27 L299.35 476.17 L298.75 476.06 L298.15 475.96 L297.55 475.85 L296.95 475.75 L296.35 475.65 L295.75 475.56 L295.15 475.46 L294.55 475.37 L293.95 475.29 L293.35 475.20 L292.75 475.12 L292.15 475.04 L291.54 474.97 L290.94 474.90 L290.34 474.83 L289.74 474.77 L289.14 474.71 L288.54 474.66 L287.94 474.61 L287.34 474.56 L286.74 474.54 L286.14 474.51 L285.54 474.49 L284.94 474.47 L284.34 474.46 L283.74 474.45 L283.14 474.44 L282.54 474.43 L281.94 474.41 L281.34 474.40 L280.73 474.39 L280.13 474.37 L279.53 474.35 L278.93 474.33 L278.33 474.30 L277.73 474.27 L277.13 474.24 L276.53 474.21 L275.93 474.22 L275.33 474.26 L274.73 474.29 L274.13 474.33 L273.53 474.37 L272.93 474.41 L272.33 474.46 L271.73 474.51 L271.13 474.56 L270.53 474.61 L269.92 474.67 L269.32 474.74 L268.72 474.81 L268.12 474.88 L267.52 474.96 L266.92 475.05 L266.32 475.15 L265.72 475.25 L265.12 475.37 L264.52 475.49 L263.92 475.62 L263.32 475.76 L262.72 475.91 L262.12 476.07 L261.52 476.24 L260.92 476.42 L260.32 476.61 L259.71 476.81 L259.11 477.01 L258.51 477.22 L257.91 477.44 L257.31 477.66 L256.71 477.88 L256.11 478.10 L255.51 478.33 L254.91 478.55 L254.31 478.77 L253.71 478.98 L253.11 479.19 L252.51 479.38 L251.91 479.57 L251.31 479.75 L250.71 479.91 L250.11 480.06 L249.51 480.19 L248.90 480.30 L248.30 480.40 L247.70 480.48 L247.10 480.50 L246.50 480.50 L245.90 480.50 L245.30 480.50 L244.70 480.50 L244.10 480.50 L243.50 480.50 L242.90 480.50 L242.30 480.50 L241.70 480.50 L241.10 480.50 L240.50 480.50 L239.90 480.50 L239.30 480.46 L238.70 480.37 L238.09 480.27 L237.49 480.15 L236.89 480.01 L236.29 479.85 L235.69 479.69 L235.09 479.51 L234.49 479.32 L233.89 479.12 L233.29 478.91 L232.69 478.69 L232.09 478.47 L231.49 478.25 L230.89 478.03 L230.29 477.80 L229.69 477.58 L229.09 477.36 L228.49 477.15 L227.89 476.94 L227.28 476.74 L226.68 476.55 L226.08 476.36 L225.48 476.18 L224.88 476.02 L224.28 475.86 L223.68 475.71 L223.08 475.57 L222.48 475.45 L221.88 475.33 L221.28 475.22 L220.68 475.11 L220.08 475.02 L219.48 474.93 L218.88 474.86 L218.28 474.78 L217.68 474.71 L217.08 474.65 L216.47 474.59 L215.87 474.54 L215.27 474.49 L214.67 474.44 L214.07 474.40 L213.47 474.36 L212.87 474.32 L212.27 474.28 L211.67 474.24 L211.07 474.21 L210.47 474.22 L209.87 474.25 L209.27 474.28 L208.67 474.31 L208.07 474.34 L207.47 474.36 L206.87 474.38 L206.27 474.39 L205.66 474.41 L205.06 474.42 L204.46 474.43 L203.86 474.44 L203.26 474.45 L202.66 474.46 L202.06 474.48 L201.46 474.50 L200.86 474.52 L200.26 474.54 L199.66 474.58 L199.06 474.62 L198.46 474.67 L197.86 474.73 L197.26 474.79 L196.66 474.85 L196.06 474.92 L195.45 474.99 L194.85 475.07 L194.25 475.15 L193.65 475.23 L193.05 475.31 L192.45 475.40 L191.85 475.50 L191.25 475.59 L190.65 475.69 L190.05 475.79 L189.45 475.89 L188.85 475.99 L188.25 476.09 L187.65 476.20 L187.05 476.31 L186.45 476.42 L185.85 476.53 L185.25 476.63 L184.64 476.74 L184.04 476.85 L183.44 476.96 L182.84 477.07 L182.24 477.18 L181.64 477.29 L181.04 477.39 L180.44 477.50 L179.84 477.60 L179.24 477.71 L178.64 477.81 L178.04 477.91 L177.44 478.01 L176.84 478.10 L176.24 478.20 L175.64 478.29 L175.04 478.38 L174.44 478.47 L173.83 478.56 L173.23 478.64 L172.63 478.72 L172.03 478.80 L171.43 478.88 L170.83 478.95 L170.23 479.03 L169.63 479.10 L169.03 479.17 L168.43 479.23 L167.83 479.30 L167.23 479.36 L166.63 479.42 L166.03 479.48 L165.43 479.53 L164.83 479.58 L164.23 479.64 L163.63 479.69 L163.02 479.73 L162.42 479.78 L161.82 479.82 L161.22 479.86 L160.62 479.90 L160.02 479.94 L159.42 479.98 L158.82 480.01 L158.22 480.04 L157.62 480.08 L157.02 480.11 L156.42 480.13 L155.82 480.16 L155.22 480.19 L154.62 480.21 L154.02 480.23 L153.42 480.26 L152.82 480.28 L152.21 480.30 L151.61 480.31 L151.01 480.33 L150.41 480.35 L149.81 480.36 L149.21 480.38 L148.61 480.39 L148.01 480.40 L147.41 480.41 L146.81 480.42 L146.21 480.43 L145.61 480.44 L145.01 480.45 L144.41 480.46 L143.81 480.46 L143.21 480.47 L142.61 480.47 L142.01 480.48 L141.40 480.48 L140.80 480.49 L140.20 480.49 L139.60 480.49 L139.00 480.50 L138.40 480.50 L137.80 480.50 L137.20 480.50 L136.60 480.50 L136.00 480.50 L135.40 480.50 L134.80 480.50 L134.20 480.50 L133.60 480.50 L133.00 480.50 L132.40 480.50 L131.80 480.50 L131.20 480.49 L130.59 480.49 L129.99 480.49 L129.39 480.49 L128.79 480.49 L128.19 480.48 L127.59 480.48 L126.99 480.48 L126.39 480.48 L125.79 480.47 L125.19 480.47 L124.59 480.47 L123.99 480.47 L123.39 480.46 L122.79 480.46 L122.19 480.46 L121.59 480.45 L120.99 480.45 L120.38 480.45 L119.78 480.45 L119.18 480.44 L118.58 480.44 L117.98 480.44 L117.38 480.44 L116.78 480.43 L116.18 480.43 L115.58 480.43 L114.98 480.43 L114.38 480.43 L113.78 480.42 L113.18 480.42 L112.58 480.42 L111.98 480.42 L111.38 480.42 L110.78 480.42 L110.18 480.42 L109.57 480.42 L108.97 480.41 L108.37 480.41 L107.77 480.41 L107.17 480.41 L106.57 480.41 L105.97 480.41 L105.37 480.41 L104.77 480.41 L104.17 480.41 L103.57 480.41 L102.97 480.41 L102.37 480.41 L101.77 480.41 L101.17 480.41 L100.57 480.41 L99.97 480.42 L99.37 480.42 L98.76 480.42 L98.16 480.42 L97.56 480.42 L96.96 480.42 L96.36 480.42 L95.76 480.42 L95.16 480.42 L94.56 480.42 L93.96 480.43 L93.36 480.43 L92.76 480.43 L92.16 480.43 L91.56 480.43 L90.96 480.43 L90.36 480.44 L89.76 480.44 L89.16 480.44 L88.56 480.44 L87.95 480.44 L87.35 480.44 L86.75 480.44 L86.15 480.45 L85.55 480.45 L84.95 480.45 L84.35 480.45 L83.75 480.45 L83.15 480.45 L82.55 480.46 L81.95 480.46 L81.35 480.46 L80.75 480.46 L80.15 480.46 L79.55 480.46 L78.95 480.46 L78.35 480.47 L77.75 480.47 L77.14 480.47 L76.54 480.47 L75.94 480.47 L75.34 480.47 L74.74 480.47 L74.14 480.47 L73.54 480.48 L72.94 480.48 L72.34 480.48 L71.74 480.48 L71.14 480.48 L70.54 480.48 L69.94 480.48 L69.34 480.48 L68.74 480.48 L68.14 480.48 L67.54 480.48 L66.94 480.49 L66.33 480.49 L65.73 480.49 L65.13 480.49 L64.53 480.49 L63.93 480.49 L63.33 480.49 L62.73 480.49 L62.13 480.49 L61.53 480.49 Z" fill="#d0d0fa"/>
<path d="M61.53 480.49 L62.13 480.49 L62.73 480.49 L63.33 480.49 L63.93 480.49 L64.53 480.49 L65.13 480.49 L65.73 480.49 L66.33 480.49 L66.94 480.48 L67.54 480.48 L68.14 480.48 L68.74 480.48 L69.34 480.48 L69.94 480.48 L70.54 480.48 L71.14 480.48 L71.74 480.48 L72.34 480.48 L72.94 480.48 L73.54 480.47 L74.14 480.47 L74.74 480.47 L75.34 480.47 L75.94 480.47 L76.54 480.47 L77.14 480.47 L77.75 480.47 L78.35 480.46 L78.95 480.46 L79.55 480.46 L80.15 480.46 L80.75 480.46 L81.35 480.46 L81.95 480.46 L82.55 480.45 L83.15 480.45 L83.75 480.45 L84.35 480.45 L84.95 480.45 L85.55 480.45 L86.15 480.45 L86.75 480.44 L87.35 480.44 L87.95 480.44 L88.56 480.44 L89.16 480.44 L89.76 480.44 L90.36 480.43 L90.96 480.43 L91.56 480.43 L92.16 480.43 L92.76 480.43 L93.36 480.43 L93.96 480.43 L94.56 480.42 L95.16 480.42 L95.76 480.42 L96.36 480.42 L96.96 480.42 L97.56 480.42 L98.16 480.42 L98.76 480.42 L99.37 480.42 L99.97 480.41 L100.57 480.41 L101.17 480.41 L101.77 480.41 L102.37 480.41 L102.97 480.41 L103.57 480.41 L104.17 480.41 L104.77 480.41 L105.37 480.41 L105.97 480.41 L106.57 480.41 L107.17 480.41 L107.77 480.41 L108.37 480.41 L108.97 480.41 L109.57 480.41 L110.18 480.42 L110.78 480.42 L111.38 480.42 L111.98 480.42 L112.58 480.42 L113.18 480.42 L113.78 480.42 L114.38 480.43 L114.98 480.43 L115.58 480.43 L116.18 480.43 L116.78 480.43 L117.38 480.44 L117.98 480.44 L118.58 480.44 L119.18 480.44 L119.78 480.44 L120.38 480.45 L120.99 480.45 L121.59 480.45 L122.19 480.46 L122.79 480.46 L123.39 480.46 L123.99 480.46 L124.59 480.47 L125.19 480.47 L125.79 480.47 L126.39 480.47 L126.99 480.48 L127.59 480.48 L128.19 480.48 L128.79 480.48 L129.39 480.49 L129.99 480.49 L130.59 480.49 L131.20 480.49 L131.80 480.49 L132.40 480.50 L133.00 480.50 L133.60 480.50 L134.20 480.50 L134.80 480.50 L135.40 480.50 L136.00 480.50 L136.60 480.50 L137.20 480.50 L137.80 480.50 L138.40 480.50 L139.00 480.49 L139.60 480.49 L140.20 480.49 L140.80 480.48 L141.40 480.48 L142.01 480.48 L142.61 480.47 L143.21 480.46 L143.81 480.46 L144.41 480.45 L145.01 480.44 L145.61 480.43 L146.21 480.43 L146.81 480.42 L147.41 480.40 L148.01 480.39 L148.61 480.38 L149.21 480.37 L149.81 480.35 L150.41 480.34 L151.01 480.32 L151.61 480.30 L152.21 480.28 L152.82 480.26 L153.42 480.24 L154.02 480.22 L154.62 480.19 L155.22 480.17 L155.82 480.14 L156.42 480.11 L157.02 480.08 L157.62 480.05 L158.22 480.02 L158.82 479.99 L159.42 479.95 L160.02 479.91 L160.62 479.87 L161.22 479.83 L161.82 479.79 L162.42 479.74 L163.02 479.70 L163.63 479.65 L164.23 479.59 L164.83 479.54 L165.43 479.49 L166.03 479.43 L166.63 479.37 L167.23 479.30 L167.83 479.24 L168.43 479.17 L169.03 479.10 L169.63 479.03 L170.23 478.95 L170.83 478.88 L171.43 478.80 L172.03 478.71 L172.63 478.63 L173.23 478.54 L173.83 478.45 L174.44 478.35 L175.04 478.25 L175.64 478.15 L176.24 478.05 L176.84 477.94 L177.44 477.83 L178.04 477.72 L178.64 477.61 L179.24 477.49 L179.84 477.37 L180.44 477.24 L181.04 477.11 L181.64 476.98 L182.24 476.85 L182.84 476.71 L183.44 476.57 L184.04 476.43 L184.64 476.28 L185.25 476.13 L185.85 475.98 L186.45 475.83 L187.05 475.67 L187.65 475.51 L188.25 475.35 L188.85 475.19 L189.45 475.02 L190.05 474.85 L190.65 474.68 L191.25 474.51 L191.85 474.34 L192.45 474.16 L193.05 473.99 L193.65 473.81 L194.25 473.64 L194.85 473.46 L195.45 473.28 L196.06 473.11 L196.66 472.93 L197.26 472.76 L197.86 472.59 L198.46 472.42 L199.06 472.25 L199.66 472.09 L200.26 471.92 L200.86 471.76 L201.46 471.60 L202.06 471.44 L202.66 471.30 L203.26 471.16 L203.86 471.02 L204.46 470.90 L205.06 470.78 L205.66 470.68 L206.27 470.58 L206.87 470.50 L207.47 470.43 L208.07 470.37 L208.67 470.33 L209.27 470.30 L209.87 470.28 L210.47 470.28 L211.07 470.28 L211.67 470.28 L212.27 470.29 L212.87 470.31 L213.47 470.35 L214.07 470.40 L214.67 470.47 L215.27 470.55 L215.87 470.65 L216.47 470.76 L217.08 470.89 L217.68 471.03 L218.28 471.18 L218.88 471.35 L219.48 471.53 L220.08 471.72 L220.68 471.92 L221.28 472.14 L221.88 472.37 L222.48 472.60 L223.08 472.85 L223.68 473.10 L224.28 473.36 L224.88 473.63 L225.48 473.91 L226.08 474.19 L226.68 474.47 L227.28 474.76 L227.89 475.05 L228.49 475.34 L229.09 475.63 L229.69 475.92 L230.29 476.21 L230.89 476.50 L231.49 476.79 L232.09 477.07 L232.69 477.34 L233.29 477.62 L233.89 477.88 L234.49 478.14 L235.09 478.39 L235.69 478.63 L236.29 478.86 L236.89 479.07 L237.49 479.28 L238.09 479.47 L238.70 479.65 L239.30 479.82 L239.90 479.97 L240.50 480.10 L241.10 480.21 L241.70 480.31 L242.30 480.39 L242.90 480.45 L243.50 480.49 L244.10 480.47 L244.70 480.41 L245.30 480.34 L245.90 480.25 L246.50 480.14 L247.10 480.01 L247.70 479.87 L248.30 479.71 L248.90 479.54 L249.51 479.35 L250.11 479.14 L250.71 478.93 L251.31 478.70 L251.91 478.47 L252.51 478.22 L253.11 477.97 L253.71 477.70 L254.31 477.44 L254.91 477.16 L255.51 476.88 L256.11 476.60 L256.71 476.31 L257.31 476.02 L257.91 475.73 L258.51 475.44 L259.11 475.14 L259.71 474.85 L260.32 474.57 L260.92 474.28 L261.52 474.00 L262.12 473.72 L262.72 473.45 L263.32 473.19 L263.92 472.93 L264.52 472.68 L265.12 472.44 L265.72 472.21 L266.32 472.00 L266.92 471.79 L267.52 471.59 L268.12 471.41 L268.72 471.23 L269.32 471.08 L269.92 470.93 L270.53 470.80 L271.13 470.69 L271.73 470.58 L272.33 470.50 L272.93 470.42 L273.53 470.37 L274.13 470.32 L274.73 470.29 L275.33 470.28 L275.93 470.28 L276.53 470.28 L277.13 470.28 L277.73 470.29 L278.33 470.31 L278.93 470.35 L279.53 470.41 L280.13 470.47 L280.73 470.55 L281.34 470.64 L281.94 470.74 L282.54 470.86 L283.14 470.98 L283.74 471.11 L284.34 471.25 L284.94 471.39 L285.54 471.55 L286.14 471.70 L286.74 471.86 L287.34 472.03 L287.94 472.20 L288.54 472.36 L289.14 472.53 L289.74 472.70 L290.34 472.88 L290.94 473.05 L291.54 473.23 L292.15 473.40 L292.75 473.58 L293.35 473.75 L293.95 473.93 L294.55 474.11 L295.15 474.28 L295.75 474.45 L296.35 474.63 L296.95 474.80 L297.55 474.96 L298.15 475.13 L298.75 475.30 L299.35 475.46 L299.95 475.62 L300.55 475.78 L301.15 475.93 L301.75 476.08 L302.35 476.23 L302.96 476.38 L303.56 476.52 L304.16 476.66 L304.76 476.80 L305.36 476.94 L305.96 477.07 L306.56 477.20 L307.16 477.32 L307.76 477.45 L308.36 477.57 L308.96 477.68 L309.56 477.80 L310.16 477.91 L310.76 478.02 L311.36 478.12 L311.96 478.22 L312.56 478.32 L313.16 478.42 L313.77 478.51 L314.37 478.60 L314.97 478.68 L315.57 478.77 L316.17 478.85 L316.77 478.93 L317.37 479.01 L317.97 479.08 L318.57 479.15 L319.17 479.22 L319.77 479.28 L320.37 479.35 L320.97 479.41 L321.57 479.47 L322.17 479.52 L322.77 479.58 L323.37 479.63 L323.97 479.68 L324.58 479.73 L325.18 479.77 L325.78 479.82 L326.38 479.86 L326.98 479.90 L327.58 479.94 L328.18 479.97 L328.78 480.01 L329.38 480.04 L329.98 480.07 L330.58 480.10 L331.18 480.13 L331.78 480.16 L332.38 480.19 L332.98 480.21 L333.58 480.23 L334.18 480.25 L334.78 480.28 L335.39 480.29 L335.99 480.31 L336.59 480.33 L337.19 480.35 L337.79 480.36 L338.39 480.38 L338.99 480.39 L339.59 480.40 L340.19 480.41 L340.79 480.42 L341.39 480.43 L341.99 480.44 L342.59 480.45 L343.19 480.46 L343.79 480.46 L344.39 480.47 L344.99 480.47 L345.60 480.48 L346.20 480.48 L346.80 480.49 L347.40 480.49 L348.00 480.49 L348.60 480.49 L349.20 480.50 L349.80 480.50 L350.40 480.50 L351.00 480.50 L351.60 480.50 L352.20 480.50 L352.80 480.50 L353.40 480.50 L354.00 480.50 L354.60 480.50 L355.20 480.49 L355.80 480.49 L356.41 480.49 L357.01 480.49 L357.61 480.49 L358.21 480.49 L358.81 480.48 L359.41 480.48 L360.01 480.48 L360.61 480.48 L361.21 480.47 L361.81 480.47 L362.41 480.47 L363.01 480.46 L363.61 480.46 L364.21 480.46 L364.81 480.46 L365.41 480.45 L366.01 480.45 L366.61 480.45 L367.22 480.45 L367.82 480.44 L368.42 480.44 L369.02 480.44 L369.62 480.44 L370.22 480.43 L370.82 480.43 L371.42 480.43 L372.02 480.43 L372.62 480.43 L373.22 480.42 L373.82 480.42 L374.42 480.42 L375.02 480.42 L375.62 480.42 L376.22 480.42 L376.82 480.42 L377.42 480.41 L378.03 480.41 L378.63 480.41 L379.23 480.41 L379.83 480.41 L380.43 480.41 L381.03 480.41 L381.63 480.41 L382.23 480.41 L382.83 480.41 L383.43 480.41 L384.03 480.41 L384.63 480.41 L385.23 480.41 L385.83 480.41 L386.43 480.41 L387.03 480.41 L387.63 480.42 L388.23 480.42 L388.84 480.42 L389.44 480.42 L390.04 480.42 L390.64 480.42 L391.24 480.42 L391.84 480.42 L392.44 480.42 L393.04 480.42 L393.64 480.43 L394.24 480.43 L394.84 480.43 L395.44 480.43 L396.04 480.43 L396.64 480.43 L397.24 480.44 L397.84 480.44 L398.44 480.44 L399.04 480.44 L399.65 480.44 L400.25 480.44 L400.85 480.44 L401.45 480.45 L402.05 480.45 L402.65 480.45 L403.25 480.45 L403.85 480.45 L404.45 480.45 L405.05 480.46 L405.65 480.46 L406.25 480.46 L406.85 480.46 L407.45 480.46 L408.05 480.46 L408.65 480.46 L409.25 480.47 L409.86 480.47 L410.46 480.47 L411.06 480.47 L411.66 480.47 L412.26 480.47 L412.86 480.47 L413.46 480.47 L414.06 480.48 L414.66 480.48 L415.26 480.48 L415.86 480.48 L416.46 480.48 L417.06 480.48 L417.66 480.48 L418.26 480.48 L418.86 480.48 L419.46 480.48 L420.06 480.48 L420.67 480.49 L421.27 480.49 L421.87 480.49 L422.47 480.49 L423.07 480.49 L423.67 480.49 L424.27 480.49 L424.87 480.49 L425.47 480.49 L425.47 480.49 L424.87 480.49 L424.27 480.49 L423.67 480.49 L423.07 480.49 L422.47 480.49 L421.87 480.49 L421.27 480.49 L420.67 480.49 L420.06 480.49 L419.46 480.48 L418.86 480.48 L418.26 480.48 L417.66 480.48 L417.06 480.48 L416.46 480.48 L415.86 480.48 L415.26 480.48 L414.66 480.48 L414.06 480.48 L413.46 480.47 L412.86 480.47 L412.26 480.47 L411.66 480.47 L411.06 480.47 L410.46 480.47 L409.86 480.47 L409.25 480.47 L408.65 480.46 L408.05 480.46 L407.45 480.46 L406.85 480.46 L406.25 480.46 L405.65 480.46 L405.05 480.46 L404.45 480.45 L403.85 480.45 L403.25 480.45 L402.65 480.45 L402.05 480.45 L401.45 480.45 L400.85 480.45 L400.25 480.44 L399.65 480.44 L399.04 480.44 L398.44 480.44 L397.84 480.44 L397.24 480.44 L396.64 480.43 L396.04 480.43 L395.44 480.43 L394.84 480.43 L394.24 480.43 L393.64 480.43 L393.04 480.43 L392.44 480.42 L391.84 480.42 L391.24 480.42 L390.64 480.42 L390.04 480.42 L389.44 480.42 L388.84 480.42 L388.23 480.42 L387.63 480.42 L387.03 480.41 L386.43 480.41 L385.83 480.41 L385.23 480.41 L384.63 480.41 L384.03 480.41 L383.43 480.41 L382.83 480.41 L382.23 480.41 L381.63 480.41 L381.03 480.41 L380.43 480.41 L379.83 480.41 L379.23 480.41 L378.63 480.41 L378.03 480.41 L377.42 480.42 L376.82 480.42 L376.22 480.42 L375.62 480.42 L375.02 480.42 L374.42 480.42 L373.82 480.42 L373.22 480.42 L372.62 480.43 L372.02 480.43 L371.42 480.43 L370.82 480.43 L370.22 480.43 L369.62 480.44 L369.02 480.44 L368.42 480.44 L367.82 480.44 L367.22 480.45 L366.61 480.45 L366.01 480.45 L365.41 480.45 L364.81 480.46 L364.21 480.46 L363.61 480.46 L363.01 480.47 L362.41 480.47 L361.81 480.47 L361.21 480.47 L360.61 480.48 L360.01 480.48 L359.41 480.48 L358.81 480.48 L358.21 480.49 L357.61 480.49 L357.01 480.49 L356.41 480.49 L355.80 480.49 L355.20 480.50 L354.60 480.50 L354.00 480.50 L353.40 480.50 L352.80 480.50 L352.20 480.50 L351.60 480.50 L351.00 480.50 L350.40 480.50 L349.80 480.50 L349.20 480.50 L348.60 480.50 L348.00 480.49 L347.40 480.49 L346.80 480.49 L346.20 480.48 L345.60 480.48 L344.99 480.48 L344.39 480.47 L343.79 480.47 L343.19 480.46 L342.59 480.45 L341.99 480.44 L341.39 480.44 L340.79 480.43 L340.19 480.42 L339.59 480.41 L338.99 480.39 L338.39 480.38 L337.79 480.37 L337.19 480.35 L336.59 480.34 L335.99 480.32 L335.39 480.30 L334.78 480.28 L334.18 480.26 L333.58 480.24 L332.98 480.22 L332.38 480.20 L331.78 480.17 L331.18 480.15 L330.58 480.12 L329.98 480.09 L329.38 480.06 L328.78 480.02 L328.18 479.99 L327.58 479.95 L326.98 479.92 L326.38 479.88 L325.78 479.84 L325.18 479.79 L324.58 479.75 L323.97 479.70 L323.37 479.65 L322.77 479.60 L322.17 479.55 L321.57 479.50 L320.97 479.44 L320.37 479.38 L319.77 479.32 L319.17 479.25 L318.57 479.19 L317.97 479.12 L317.37 479.05 L316.77 478.98 L316.17 478.90 L315.57 478.82 L314.97 478.74 L314.37 478.66 L313.77 478.57 L313.16 478.49 L312.56 478.39 L311.96 478.30 L311.36 478.21 L310.76 478.11 L310.16 478.01 L309.56 477.91 L308.96 477.80 L308.36 477.70 L307.76 477.59 L307.16 477.48 L306.56 477.36 L305.96 477.25 L305.36 477.13 L304.76 477.01 L304.16 476.89 L303.56 476.77 L302.96 476.65 L302.35 476.53 L301.75 476.40 L301.15 476.28 L300.55 476.15 L299.95 476.02 L299.35 475.90 L298.75 475.77 L298.15 475.64 L297.55 475.52 L296.95 475.39 L296.35 475.26 L295.75 475.14 L295.15 475.01 L294.55 474.89 L293.95 474.77 L293.35 474.65 L292.75 474.54 L292.15 474.42 L291.54 474.31 L290.94 474.20 L290.34 474.09 L289.74 473.99 L289.14 473.88 L288.54 473.79 L287.94 473.69 L287.34 473.60 L286.74 473.52 L286.14 473.45 L285.54 473.37 L284.94 473.31 L284.34 473.24 L283.74 473.18 L283.14 473.12 L282.54 473.07 L281.94 473.02 L281.34 472.98 L280.73 472.93 L280.13 472.89 L279.53 472.86 L278.93 472.82 L278.33 472.79 L277.73 472.76 L277.13 472.74 L276.53 472.72 L275.93 472.73 L275.33 472.75 L274.73 472.78 L274.13 472.81 L273.53 472.85 L272.93 472.90 L272.33 472.96 L271.73 473.02 L271.13 473.09 L270.53 473.17 L269.92 473.25 L269.32 473.35 L268.72 473.45 L268.12 473.56 L267.52 473.68 L266.92 473.81 L266.32 473.95 L265.72 474.10 L265.12 474.26 L264.52 474.42 L263.92 474.60 L263.32 474.78 L262.72 474.98 L262.12 475.18 L261.52 475.39 L260.92 475.61 L260.32 475.83 L259.71 476.07 L259.11 476.30 L258.51 476.54 L257.91 476.79 L257.31 477.03 L256.71 477.28 L256.11 477.53 L255.51 477.78 L254.91 478.02 L254.31 478.26 L253.71 478.50 L253.11 478.72 L252.51 478.94 L251.91 479.15 L251.31 479.35 L250.71 479.54 L250.11 479.71 L249.51 479.87 L248.90 480.01 L248.30 480.14 L247.70 480.25 L247.10 480.34 L246.50 480.41 L245.90 480.47 L245.30 480.50 L244.70 480.50 L244.10 480.50 L243.50 480.50 L242.90 480.50 L242.30 480.50 L241.70 480.49 L241.10 480.45 L240.50 480.39 L239.90 480.31 L239.30 480.21 L238.70 480.10 L238.09 479.97 L237.49 479.82 L236.89 479.65 L236.29 479.48 L235.69 479.29 L235.09 479.08 L234.49 478.87 L233.89 478.65 L233.29 478.42 L232.69 478.18 L232.09 477.94 L231.49 477.70 L230.89 477.45 L230.29 477.20 L229.69 476.95 L229.09 476.71 L228.49 476.46 L227.89 476.22 L227.28 475.99 L226.68 475.76 L226.08 475.54 L225.48 475.32 L224.88 475.11 L224.28 474.91 L223.68 474.72 L223.08 474.54 L222.48 474.37 L221.88 474.20 L221.28 474.05 L220.68 473.90 L220.08 473.77 L219.48 473.64 L218.88 473.52 L218.28 473.42 L217.68 473.32 L217.08 473.22 L216.47 473.14 L215.87 473.07 L215.27 473.00 L214.67 472.94 L214.07 472.88 L213.47 472.84 L212.87 472.80 L212.27 472.77 L211.67 472.74 L211.07 472.72 L210.47 472.73 L209.87 472.75 L209.27 472.77 L208.67 472.80 L208.07 472.83 L207.47 472.87 L206.87 472.91 L206.27 472.95 L205.66 472.99 L205.06 473.04 L204.46 473.09 L203.86 473.14 L203.26 473.20 L202.66 473.26 L202.06 473.33 L201.46 473.40 L200.86 473.47 L200.26 473.55 L199.66 473.63 L199.06 473.72 L198.46 473.82 L197.86 473.92 L197.26 474.02 L196.66 474.13 L196.06 474.23 L195.45 474.34 L194.85 474.46 L194.25 474.57 L193.65 474.69 L193.05 474.81 L192.45 474.93 L191.85 475.06 L191.25 475.18 L190.65 475.31 L190.05 475.43 L189.45 475.56 L188.85 475.69 L188.25 475.81 L187.65 475.94 L187.05 476.07 L186.45 476.19 L185.85 476.32 L185.25 476.44 L184.64 476.57 L184.04 476.69 L183.44 476.81 L182.84 476.94 L182.24 477.05 L181.64 477.17 L181.04 477.29 L180.44 477.40 L179.84 477.51 L179.24 477.62 L178.64 477.73 L178.04 477.84 L177.44 477.94 L176.84 478.04 L176.24 478.14 L175.64 478.24 L175.04 478.33 L174.44 478.43 L173.83 478.51 L173.23 478.60 L172.63 478.69 L172.03 478.77 L171.43 478.85 L170.83 478.93 L170.23 479.00 L169.63 479.07 L169.03 479.14 L168.43 479.21 L167.83 479.28 L167.23 479.34 L166.63 479.40 L166.03 479.46 L165.43 479.51 L164.83 479.57 L164.23 479.62 L163.63 479.67 L163.02 479.72 L162.42 479.76 L161.82 479.81 L161.22 479.85 L160.62 479.89 L160.02 479.93 L159.42 479.97 L158.82 480.00 L158.22 480.04 L157.62 480.07 L157.02 480.10 L156.42 480.13 L155.82 480.15 L155.22 480.18 L154.62 480.20 L154.02 480.23 L153.42 480.25 L152.82 480.27 L152.21 480.29 L151.61 480.31 L151.01 480.33 L150.41 480.34 L149.81 480.36 L149.21 480.37 L148.61 480.39 L148.01 480.40 L147.41 480.41 L146.81 480.42 L146.21 480.43 L145.61 480.44 L145.01 480.45 L144.41 480.45 L143.81 480.46 L143.21 480.47 L142.61 480.47 L142.01 480.48 L141.40 480.48 L140.80 480.49 L140.20 480.49 L139.60 480.49 L139.00 480.49 L138.40 480.50 L137.80 480.50 L137.20 480.50 L136.60 480.50 L136.00 480.50 L135.40 480.50 L134.80 480.50 L134.20 480.50 L133.60 480.50 L133.00 480.50 L132.40 480.50 L131.80 480.50 L131.20 480.49 L130.59 480.49 L129.99 480.49 L129.39 480.49 L128.79 480.49 L128.19 480.48 L127.59 480.48 L126.99 480.48 L126.39 480.48 L125.79 480.47 L125.19 480.47 L124.59 480.47 L123.99 480.46 L123.39 480.46 L122.79 480.46 L122.19 480.46 L121.59 480.45 L120.99 480.45 L120.38 480.45 L119.78 480.45 L119.18 480.44 L118.58 480.44 L117.98 480.44 L117.38 480.44 L116.78 480.43 L116.18 480.43 L115.58 480.43 L114.98 480.43 L114.38 480.43 L113.78 480.42 L113.18 480.42 L112.58 480.42 L111.98 480.42 L111.38 480.42 L110.78 480.42 L110.18 480.42 L109.57 480.42 L108.97 480.41 L108.37 480.41 L107.77 480.41 L107.17 480.41 L106.57 480.41 L105.97 480.41 L105.37 480.41 L104.77 480.41 L104.17 480.41 L103.57 480.41 L102.97 480.41 L102.37 480.41 L101.77 480.41 L101.17 480.41 L100.57 480.41 L99.97 480.41 L99.37 480.42 L98.76 480.42 L98.16 480.42 L97.56 480.42 L96.96 480.42 L96.36 480.42 L95.76 480.42 L95.16 480.42 L94.56 480.42 L93.96 480.43 L93.36 480.43 L92.76 480.43 L92.16 480.43 L91.56 480.43 L90.96 480.43 L90.36 480.43 L89.76 480.44 L89.16 480.44 L88.56 480.44 L87.95 480.44 L87.35 480.44 L86.75 480.44 L86.15 480.45 L85.55 480.45 L84.95 480.45 L84.35 480.45 L83.75 480.45 L83.15 480.45 L82.55 480.46 L81.95 480.46 L81.35 480.46 L80.75 480.46 L80.15 480.46 L79.55 480.46 L78.95 480.46 L78.35 480.47 L77.75 480.47 L77.14 480.47 L76.54 480.47 L75.94 480.47 L75.34 480.47 L74.74 480.47 L74.14 480.47 L73.54 480.47 L72.94 480.48 L72.34 480.48 L71.74 480.48 L71.14 480.48 L70.54 480.48 L69.94 480.48 L69.34 480.48 L68.74 480.48 L68.14 480.48 L67.54 480.48 L66.94 480.49 L66.33 480.49 L65.73 480.49 L65.13 480.49 L64.53 480.49 L63.93 480.49 L63.33 480.49 L62.73 480.49 L62.13 480.49 L61.53 480.49 Z" fill="#a4a4f4"/>
<path d="M61.53 480.49 L62.13 480.49 L62.73 480.49 L63.33 480.49 L63.93 480.49 L64.53 480.49 L65.13 480.49 L65.73 480.49 L66.33 480.49 L66.94 480.49 L67.54 480.48 L68.14 480.48 L68.74 480.48 L69.34 480.48 L69.94 480.48 L70.54 480.48 L71.14 480.48 L71.74 480.48 L72.34 480.48 L72.94 480.48 L73.54 480.47 L74.14 480.47 L74.74 480.47 L75.34 480.47 L75.94 480.47 L76.54 480.47 L77.14 480.47 L77.75 480.47 L78.35 480.46 L78.95 480.46 L79.55 480.46 L80.15 480.46 L80.75 480.46 L81.35 480.46 L81.95 480.46 L82.55 480.45 L83.15 480.45 L83.75 480.45 L84.35 480.45 L84.95 480.45 L85.55 480.45 L86.15 480.45 L86.75 480.44 L87.35 480.44 L87.95 480.44 L88.56 480.44 L89.16 480.44 L89.76 480.44 L90.36 480.43 L90.96 480.43 L91.56 480.43 L92.16 480.43 L92.76 480.43 L93.36 480.43 L93.96 480.43 L94.56 480.42 L95.16 480.42 L95.76 480.42 L96.36 480.42 L96.96 480.42 L97.56 480.42 L98.16 480.42 L98.76 480.42 L99.37 480.42 L99.97 480.41 L100.57 480.41 L101.17 480.41 L101.77 480.41 L102.37 480.41 L102.97 480.41 L103.57 480.41 L104.17 480.41 L104.77 480.41 L105.37 480.41 L105.97 480.41 L106.57 480.41 L107.17 480.41 L107.77 480.41 L108.37 480.41 L108.97 480.41 L109.57 480.41 L110.18 480.42 L110.78 480.42 L111.38 480.42 L111.98 480.42 L112.58 480.42 L113.18 480.42 L113.78 480.42 L114.38 480.43 L114.98 480.43 L115.58 480.43 L116.18 480.43 L116.78 480.43 L117.38 480.44 L117.98 480.44 L118.58 480.44 L119.18 480.44 L119.78 480.45 L120.38 480.45 L120.99 480.45 L121.59 480.45 L122.19 480.46 L122.79 480.46 L123.39 480.46 L123.99 480.46 L124.59 480.47 L125.19 480.47 L125.79 480.47 L126.39 480.48 L126.99 480.48 L127.59 480.48 L128.19 480.48 L128.79 480.48 L129.39 480.49 L129.99 480.49 L130.59 480.49 L131.20 480.49 L131.80 480.49 L132.40 480.50 L133.00 480.50 L133.60 480.50 L134.20 480.50 L134.80 480.50 L135.40 480.50 L136.00 480.50 L136.60 480.50 L137.20 480.50 L137.80 480.50 L138.40 480.50 L139.00 480.49 L139.60 480.49 L140.20 480.49 L140.80 480.49 L141.40 480.48 L142.01 480.48 L142.61 480.47 L143.21 480.47 L143.81 480.46 L144.41 480.45 L145.01 480.45 L145.61 480.44 L146.21 480.43 L146.81 480.42 L147.41 480.41 L148.01 480.40 L148.61 480.38 L149.21 480.37 L149.81 480.35 L150.41 480.34 L151.01 480.32 L151.61 480.30 L152.21 480.29 L152.82 480.27 L153.42 480.25 L154.02 480.22 L154.62 480.20 L155.22 480.17 L155.82 480.15 L156.42 480.12 L157.02 480.09 L157.62 480.06 L158.22 480.03 L158.82 479.99 L159.42 479.96 L160.02 479.92 L160.62 479.88 L161.22 479.84 L161.82 479.80 L162.42 479.75 L163.02 479.71 L163.63 479.66 L164.23 479.61 L164.83 479.55 L165.43 479.50 L166.03 479.44 L166.63 479.38 L167.23 479.32 L167.83 479.26 L168.43 479.19 L169.03 479.12 L169.63 479.05 L170.23 478.98 L170.83 478.90 L171.43 478.82 L172.03 478.74 L172.63 478.66 L173.23 478.57 L173.83 478.48 L174.44 478.39 L175.04 478.29 L175.64 478.20 L176.24 478.10 L176.84 477.99 L177.44 477.89 L178.04 477.78 L178.64 477.67 L179.24 477.56 L179.84 477.44 L180.44 477.32 L181.04 477.20 L181.64 477.08 L182.24 476.95 L182.84 476.82 L183.44 476.69 L184.04 476.56 L184.64 476.43 L185.25 476.29 L185.85 476.15 L186.45 476.01 L187.05 475.87 L187.65 475.73 L188.25 475.58 L188.85 475.44 L189.45 475.29 L190.05 475.14 L190.65 474.99 L191.25 474.85 L191.85 474.70 L192.45 474.55 L193.05 474.40 L193.65 474.25 L194.25 474.11 L194.85 473.96 L195.45 473.81 L196.06 473.67 L196.66 473.53 L197.26 473.39 L197.86 473.25 L198.46 473.12 L199.06 472.99 L199.66 472.86 L200.26 472.73 L200.86 472.61 L201.46 472.50 L202.06 472.39 L202.66 472.28 L203.26 472.18 L203.86 472.08 L204.46 471.99 L205.06 471.91 L205.66 471.83 L206.27 471.76 L206.87 471.70 L207.47 471.65 L208.07 471.60 L208.67 471.56 L209.27 471.53 L209.87 471.51 L210.47 471.50 L211.07 471.50 L211.67 471.51 L212.27 471.53 L212.87 471.56 L213.47 471.59 L214.07 471.64 L214.67 471.70 L215.27 471.78" fill="none" stroke="#2a2aec" stroke-width="1.35"/>
<path d="M271.73 471.80 L272.33 471.73 L272.93 471.66 L273.53 471.61 L274.13 471.57 L274.73 471.54 L275.33 471.51 L275.93 471.50 L276.53 471.50 L277.13 471.51 L277.73 471.53 L278.33 471.55 L278.93 471.59 L279.53 471.63 L280.13 471.68 L280.73 471.74 L281.34 471.81 L281.94 471.88 L282.54 471.96 L283.14 472.05 L283.74 472.15 L284.34 472.25 L284.94 472.35 L285.54 472.46 L286.14 472.57 L286.74 472.69 L287.34 472.82 L287.94 472.94 L288.54 473.07 L289.14 473.21 L289.74 473.34 L290.34 473.48 L290.94 473.62 L291.54 473.77 L292.15 473.91 L292.75 474.06 L293.35 474.20 L293.95 474.35 L294.55 474.50 L295.15 474.65 L295.75 474.80 L296.35 474.94 L296.95 475.09 L297.55 475.24 L298.15 475.39 L298.75 475.53 L299.35 475.68 L299.95 475.82 L300.55 475.96 L301.15 476.10 L301.75 476.24 L302.35 476.38 L302.96 476.52 L303.56 476.65 L304.16 476.78 L304.76 476.91 L305.36 477.04 L305.96 477.16 L306.56 477.28 L307.16 477.40 L307.76 477.52 L308.36 477.63 L308.96 477.74 L309.56 477.85 L310.16 477.96 L310.76 478.06 L311.36 478.16 L311.96 478.26 L312.56 478.36 L313.16 478.45 L313.77 478.54 L314.37 478.63 L314.97 478.71 L315.57 478.80 L316.17 478.88 L316.77 478.95 L317.37 479.03 L317.97 479.10 L318.57 479.17 L319.17 479.24 L319.77 479.30 L320.37 479.36 L320.97 479.42 L321.57 479.48 L322.17 479.54 L322.77 479.59 L323.37 479.64 L323.97 479.69 L324.58 479.74 L325.18 479.78 L325.78 479.83 L326.38 479.87 L326.98 479.91 L327.58 479.95 L328.18 479.98 L328.78 480.02 L329.38 480.05 L329.98 480.08 L330.58 480.11 L331.18 480.14 L331.78 480.17 L332.38 480.19 L332.98 480.22 L333.58 480.24 L334.18 480.26 L334.78 480.28 L335.39 480.30 L335.99 480.32 L336.59 480.33 L337.19 480.35 L337.79 480.36 L338.39 480.38 L338.99 480.39 L339.59 480.40 L340.19 480.41 L340.79 480.42 L341.39 480.43 L341.99 480.44 L342.59 480.45 L343.19 480.46 L343.79 480.46 L344.39 480.47 L344.99 480.48 L345.60 480.48 L346.20 480.48 L346.80 480.49 L347.40 480.49 L348.00 480.49 L348.60 480.50 L349.20 480.50 L349.80 480.50 L350.40 480.50 L351.00 480.50 L351.60 480.50 L352.20 480.50 L352.80 480.50 L353.40 480.50 L354.00 480.50 L354.60 480.50 L355.20 480.50 L355.80 480.49 L356.41 480.49 L357.01 480.49 L357.61 480.49 L358.21 480.49 L358.81 480.48 L359.41 480.48 L360.01 480.48 L360.61 480.48 L361.21 480.47 L361.81 480.47 L362.41 480.47 L363.01 480.47 L363.61 480.46 L364.21 480.46 L364.81 480.46 L365.41 480.45 L366.01 480.45 L366.61 480.45 L367.22 480.45 L367.82 480.44 L368.42 480.44 L369.02 480.44 L369.62 480.44 L370.22 480.43 L370.82 480.43 L371.42 480.43 L372.02 480.43 L372.62 480.43 L373.22 480.42 L373.82 480.42 L374.42 480.42 L375.02 480.42 L375.62 480.42 L376.22 480.42 L376.82 480.42 L377.42 480.42 L378.03 480.41 L378.63 480.41 L379.23 480.41 L379.83 480.41 L380.43 480.41 L381.03 480.41 L381.63 480.41 L382.23 480.41 L382.83 480.41 L383.43 480.41 L384.03 480.41 L384.63 480.41 L385.23 480.41 L385.83 480.41 L386.43 480.41 L387.03 480.41 L387.63 480.42 L388.23 480.42 L388.84 480.42 L389.44 480.42 L390.04 480.42 L390.64 480.42 L391.24 480.42 L391.84 480.42 L392.44 480.42 L393.04 480.43 L393.64 480.43 L394.24 480.43 L394.84 480.43 L395.44 480.43 L396.04 480.43 L396.64 480.43 L397.24 480.44 L397.84 480.44 L398.44 480.44 L399.04 480.44 L399.65 480.44 L400.25 480.44 L400.85 480.44 L401.45 480.45 L402.05 480.45 L402.65 480.45 L403.25 480.45 L403.85 480.45 L404.45 480.45 L405.05 480.46 L405.65 480.46 L406.25 480.46 L406.85 480.46 L407.45 480.46 L408.05 480.46 L408.65 480.46 L409.25 480.47 L409.86 480.47 L410.46 480.47 L411.06 480.47 L411.66 480.47 L412.26 480.47 L412.86 480.47 L413.46 480.47 L414.06 480.48 L414.66 480.48 L415.26 480.48 L415.86 480.48 L416.46 480.48 L417.06 480.48 L417.66 480.48 L418.26 480.48 L418.86 480.48 L419.46 480.48 L420.06 480.48 L420.67 480.49 L421.27 480.49 L421.87 480.49 L422.47 480.49 L423.07 480.49 L423.67 480.49 L424.27 480.49 L424.87 480.49 L425.47 480.49" fill="none" stroke="#2a2aec" stroke-width="1.35"/>
<path d="M215.87 471.86 L216.47 471.95 L217.08 472.06 L217.68 472.17 L218.28 472.30 L218.88 472.44 L219.48 472.58 L220.08 472.74 L220.68 472.91 L221.28 473.09 L221.88 473.29 L222.48 473.49 L223.08 473.69 L223.68 473.91 L224.28 474.14 L224.88 474.37 L225.48 474.61 L226.08 474.86 L226.68 475.11 L227.28 475.37 L227.89 475.64 L228.49 475.90 L229.09 476.17 L229.69 476.44 L230.29 476.71 L230.89 476.97 L231.49 477.24 L232.09 477.50 L232.69 477.76 L233.29 478.02 L233.89 478.26 L234.49 478.50 L235.09 478.73 L235.69 478.96 L236.29 479.17 L236.89 479.36 L237.49 479.55 L238.09 479.72 L238.70 479.88 L239.30 480.02 L239.90 480.14 L240.50 480.25 L241.10 480.33 L241.70 480.40 L242.30 480.45 L242.90 480.49 L243.50 480.50 L244.10 480.49 L244.70 480.47 L245.30 480.42 L245.90 480.36 L246.50 480.28 L247.10 480.18 L247.70 480.06 L248.30 479.92 L248.90 479.77 L249.51 479.61 L250.11 479.43 L250.71 479.23 L251.31 479.03 L251.91 478.81 L252.51 478.58 L253.11 478.35 L253.71 478.10 L254.31 477.85 L254.91 477.59 L255.51 477.33 L256.11 477.06 L256.71 476.80 L257.31 476.53 L257.91 476.26 L258.51 475.99 L259.11 475.72 L259.71 475.46 L260.32 475.20 L260.92 474.95 L261.52 474.70 L262.12 474.45 L262.72 474.22 L263.32 473.99 L263.92 473.77 L264.52 473.55 L265.12 473.35 L265.72 473.16 L266.32 472.97 L266.92 472.80 L267.52 472.64 L268.12 472.48 L268.72 472.34 L269.32 472.21 L269.92 472.09 L270.53 471.98 L271.13 471.89" fill="none" stroke="#4646ec" stroke-width="1.1"/>
<line x1="61.53" y1="480.50" x2="153.22" y2="480.50" stroke="#3030ee" stroke-width="2.0"/>
<line x1="240.70" y1="480.50" x2="246.50" y2="480.50" stroke="#3030ee" stroke-width="2.0"/>
<line x1="333.98" y1="480.50" x2="425.87" y2="480.50" stroke="#3030ee" stroke-width="2.0"/>
<line x1="61.50" y1="465.43" x2="63.50" y2="465.43" stroke="#909090" stroke-width="0.6"/>
<text transform="translate(60.50 468.23) scale(1.000 1)" text-anchor="end" style="font-family:'Liberation Sans',sans-serif;font-size:8.00px;font-kerning:none" fill="#000" stroke="#000" stroke-width="0.12">1</text>
<line x1="61.50" y1="450.36" x2="63.50" y2="450.36" stroke="#909090" stroke-width="0.6"/>
<text transform="translate(60.50 453.16) scale(1.000 1)" text-anchor="end" style="font-family:'Liberation Sans',sans-serif;font-size:8.00px;font-kerning:none" fill="#000" stroke="#000" stroke-width="0.12">2</text>
<line x1="61.50" y1="435.29" x2="63.50" y2="435.29" stroke="#909090" stroke-width="0.6"/>
<text transform="translate(60.50 438.09) scale(1.000 1)" text-anchor="end" style="font-family:'Liberation Sans',sans-serif;font-size:8.00px;font-kerning:none" fill="#000" stroke="#000" stroke-width="0.12">3</text>
<text transform="matrix(0.9834 0 0 1.2278 63.522 441.083)" x="0" y="0" fill="#111" stroke="#111" stroke-width="0.228" style="font-kerning:none" ><tspan style="font-family:'Liberation Serif',serif;font-style:normal;font-size:10.00px" y="0.00">×</tspan></text>
<text transform="matrix(0.9382 0 0 0.9781 70.275 439.404)" x="0" y="0" fill="#111" stroke="#111" stroke-width="0.104" style="font-kerning:none" ><tspan style="font-family:'Liberation Serif',serif;font-style:normal;font-size:10.00px" y="0.00">10</tspan></text>
<text transform="matrix(0.7030 0 0 0.5060 80.173 434.651)" x="0" y="0" fill="#111" stroke="#111" stroke-width="0.084" style="font-kerning:none" ><tspan style="font-family:'Liberation Serif',serif;font-style:normal;font-size:10.00px" y="0.00">9</tspan></text>
<text transform="translate(152.66 488.10) scale(1.000 1)" text-anchor="middle" style="font-family:'Liberation Sans',sans-serif;font-size:8.40px;font-kerning:none" fill="#000" stroke="#000" stroke-width="0.12">−50</text>
<text transform="translate(243.80 488.10) scale(1.000 1)" text-anchor="middle" style="font-family:'Liberation Sans',sans-serif;font-size:8.40px;font-kerning:none" fill="#000" stroke="#000" stroke-width="0.12">0</text>
<text transform="translate(334.94 488.10) scale(1.000 1)" text-anchor="middle" style="font-family:'Liberation Sans',sans-serif;font-size:8.40px;font-kerning:none" fill="#000" stroke="#000" stroke-width="0.12">50</text>
<text transform="translate(426.07 488.10) scale(1.000 1)" text-anchor="middle" style="font-family:'Liberation Sans',sans-serif;font-size:8.40px;font-kerning:none" fill="#000" stroke="#000" stroke-width="0.12">100</text>
<text transform="matrix(1.4912 0 0 1.3033 388.472 502.013)" x="0" y="0" fill="#111" stroke="#111" stroke-width="0.072" style="font-kerning:none" ><tspan style="font-family:'Liberation Serif',serif;font-style:italic;font-size:10.00px" y="0.00">θ</tspan><tspan style="font-family:'Liberation Serif',serif;font-style:normal;font-size:10.00px" y="0.00">(</tspan><tspan style="font-family:'Liberation Serif',serif;font-style:italic;font-size:10.00px" y="0.00">μ</tspan><tspan style="font-family:'Liberation Serif',serif;font-style:normal;font-size:10.00px" y="0.00">rad)</tspan></text>
<text transform="matrix(0 -1.6333 1.7105 0 32.600 473.712)" x="0" y="0" fill="#111" stroke="#111" stroke-width="0.060" style="font-kerning:none" ><tspan style="font-family:'Liberation Serif',serif;font-style:italic;font-size:10.00px" y="0.00">F</tspan></text>
<text transform="matrix(0 -1.2522 1.1801 0 25.788 461.350)" x="0" y="0" fill="#111" stroke="#111" stroke-width="0.082" style="font-kerning:none" ><tspan style="font-family:'Liberation Serif',serif;font-style:normal;font-size:10.00px" y="0.00">(1)</tspan></text>
<text transform="matrix(0 -1.4963 1.7542 0 32.766 443.258)" x="0" y="0" fill="#111" stroke="#111" stroke-width="0.062" style="font-kerning:none" ><tspan style="font-family:'Liberation Serif',serif;font-style:normal;font-size:10.00px" y="0.00">(</tspan><tspan style="font-family:'Liberation Serif',serif;font-style:italic;font-size:10.00px" y="0.00">θ</tspan><tspan style="font-family:'Liberation Serif',serif;font-style:normal;font-size:10.00px" y="0.00">)</tspan></text>
<line x1="62.50" y1="537.50" x2="426.50" y2="537.50" stroke="#c8c8c8" stroke-width="1"/>
<line x1="62.50" y1="545.50" x2="426.50" y2="545.50" stroke="#c8c8c8" stroke-width="1"/>
<line x1="62.50" y1="553.00" x2="426.50" y2="553.00" stroke="#c8c8c8" stroke-width="1"/>
<line x1="62.50" y1="560.50" x2="426.50" y2="560.50" stroke="#c8c8c8" stroke-width="1"/>
<line x1="62.50" y1="568.50" x2="426.50" y2="568.50" stroke="#c8c8c8" stroke-width="1"/>
<line x1="153.50" y1="529.50" x2="153.50" y2="576.00" stroke="#c8c8c8" stroke-width="1"/>
<line x1="153.50" y1="529.50" x2="153.50" y2="531.70" stroke="#666" stroke-width="1"/>
<line x1="153.50" y1="573.80" x2="153.50" y2="576.00" stroke="#666" stroke-width="1"/>
<line x1="244.50" y1="529.50" x2="244.50" y2="576.00" stroke="#c8c8c8" stroke-width="1"/>
<line x1="244.50" y1="529.50" x2="244.50" y2="531.70" stroke="#666" stroke-width="1"/>
<line x1="244.50" y1="573.80" x2="244.50" y2="576.00" stroke="#666" stroke-width="1"/>
<line x1="335.50" y1="529.50" x2="335.50" y2="576.00" stroke="#c8c8c8" stroke-width="1"/>
<line x1="335.50" y1="529.50" x2="335.50" y2="531.70" stroke="#666" stroke-width="1"/>
<line x1="335.50" y1="573.80" x2="335.50" y2="576.00" stroke="#666" stroke-width="1"/>
<line x1="62.50" y1="537.50" x2="64.50" y2="537.50" stroke="#666" stroke-width="1"/>
<line x1="424.50" y1="537.50" x2="426.50" y2="537.50" stroke="#666" stroke-width="1"/>
<line x1="62.50" y1="545.50" x2="64.50" y2="545.50" stroke="#666" stroke-width="1"/>
<line x1="424.50" y1="545.50" x2="426.50" y2="545.50" stroke="#666" stroke-width="1"/>
<line x1="62.50" y1="553.00" x2="64.50" y2="553.00" stroke="#666" stroke-width="1"/>
<line x1="424.50" y1="553.00" x2="426.50" y2="553.00" stroke="#666" stroke-width="1"/>
<line x1="62.50" y1="560.50" x2="64.50" y2="560.50" stroke="#666" stroke-width="1"/>
<line x1="424.50" y1="560.50" x2="426.50" y2="560.50" stroke="#666" stroke-width="1"/>
<line x1="62.50" y1="568.50" x2="64.50" y2="568.50" stroke="#666" stroke-width="1"/>
<line x1="424.50" y1="568.50" x2="426.50" y2="568.50" stroke="#666" stroke-width="1"/>
<text transform="matrix(1.2273 0 0 1.0958 64.148 541.093)" x="0" y="0" fill="#111" stroke="#111" stroke-width="0.103" style="font-kerning:none" ><tspan style="font-family:'Liberation Serif',serif;font-style:italic;font-size:10.00px" y="0.00">ℓ</tspan></text>
<rect x="73.00" y="536.40" width="8.00" height="3.20" fill="#aaa"/>
<text transform="matrix(1.1724 0 0 0.9515 85.485 541.200)" x="0" y="0" fill="#111" stroke="#111" stroke-width="0.114" style="font-kerning:none" ><tspan style="font-family:'Liberation Serif',serif;font-style:normal;font-size:10.00px" y="0.00">2</tspan></text>
<text transform="matrix(1.1860 0 0 1.1078 61.741 555.286)" x="0" y="0" fill="#111" stroke="#111" stroke-width="0.105" style="font-kerning:none" ><tspan style="font-family:'Liberation Serif',serif;font-style:italic;font-size:10.00px" y="0.00">d</tspan></text>
<path d="M71.10 551.90 C72.88 549.80 74.66 550.50 75.55 551.10 C76.44 551.70 78.22 552.40 80.00 550.30" fill="none" stroke="#111" stroke-width="0.9"/>
<path d="M71.10 554.40 C72.88 552.30 74.66 553.00 75.55 553.60 C76.44 554.20 78.22 554.90 80.00 552.80" fill="none" stroke="#111" stroke-width="0.9"/>
<text transform="matrix(1.2633 0 0 1.1631 82.590 555.435)" x="0" y="0" fill="#111" stroke="#111" stroke-width="0.099" style="font-kerning:none" ><tspan style="font-family:'Liberation Serif',serif;font-style:normal;font-size:10.00px" y="0.00">1.0</tspan></text>
<text transform="matrix(1.2245 0 0 1.0187 100.643 555.500)" x="0" y="0" fill="#111" stroke="#111" stroke-width="0.107" style="font-kerning:none" ><tspan style="font-family:'Liberation Serif',serif;font-style:normal;font-size:10.00px" y="0.00">mm</tspan></text>
<path d="M62.50 567.90 L63.72 567.90 L64.93 567.90 L66.15 567.90 L67.37 567.90 L68.59 567.90 L69.80 567.90 L71.02 567.90 L72.24 567.90 L73.46 567.90 L74.67 567.90 L75.89 567.90 L77.11 567.90 L78.33 567.90 L79.54 567.90 L80.76 567.90 L81.98 567.90 L83.20 567.90 L84.41 567.90 L85.63 567.90 L86.85 567.90 L88.07 567.90 L89.28 567.90 L90.50 567.90 L91.72 567.90 L92.93 567.90 L94.15 567.90 L95.37 567.90 L96.59 567.90 L97.80 567.90 L99.02 567.90 L100.24 567.90 L101.46 567.90 L102.67 567.90 L103.89 567.90 L105.11 567.90 L106.33 567.90 L107.54 567.90 L108.76 567.90 L109.98 567.90 L111.20 567.90 L112.41 567.90 L113.63 567.90 L114.85 567.90 L116.07 567.90 L117.28 567.90 L118.50 567.90 L119.72 567.90 L120.93 567.90 L122.15 567.91 L123.37 567.91 L124.59 567.91 L125.80 567.91 L127.02 567.92 L128.24 567.92 L129.46 567.92 L130.67 567.93 L131.89 567.94 L133.11 567.95 L134.33 567.96 L135.54 567.97 L136.76 567.98 L137.98 568.00 L139.20 568.02 L140.41 568.04 L141.63 568.07 L142.85 568.10 L144.07 568.13 L145.28 568.17 L146.50 568.22 L147.72 568.27 L148.93 568.33 L150.15 568.39 L151.37 568.46 L152.59 568.54 L153.80 568.63 L155.02 568.72 L156.24 568.83 L157.46 568.94 L158.67 569.06 L159.89 569.18 L161.11 569.32 L162.33 569.46 L163.54 569.60 L164.76 569.76 L165.98 569.91 L167.20 570.07 L168.41 570.23 L169.63 570.39 L170.85 570.55 L172.07 570.70 L173.28 570.85 L174.50 570.99 L175.72 571.12 L176.93 571.24 L178.15 571.34 L179.37 571.43 L180.59 571.50 L181.80 571.55 L183.02 571.57 L184.24 571.58 L185.46 571.55 L186.67 571.50 L187.89 571.42 L189.11 571.31 L190.33 571.16 L191.54 570.99 L192.76 570.78 L193.98 570.53 L195.20 570.25 L196.41 569.92 L197.63 569.57 L198.85 569.17 L200.07 568.73 L201.28 568.25 L202.50 567.73 L203.72 567.17 L204.93 566.57 L206.15 565.93 L207.37 565.24 L208.59 564.51 L209.80 563.74 L211.02 562.93 L212.24 562.08 L213.46 561.19 L214.67 560.26 L215.89 559.29 L217.11 558.30 L218.33 557.27 L219.54 556.22 L220.76 555.16 L221.98 554.07 L223.20 552.98 L224.41 551.88 L225.63 550.78 L226.85 549.70 L228.07 548.63 L229.28 547.59 L230.50 546.59 L231.72 545.63 L232.93 544.71 L234.15 543.86 L235.37 543.08 L236.59 542.37 L237.80 541.73 L239.02 541.19 L240.24 540.74 L241.46 540.39 L242.67 540.14 L243.89 539.99 L245.11 539.94 L246.33 540.01 L247.54 540.17 L248.76 540.44 L249.98 540.82 L251.20 541.28 L252.41 541.84 L253.63 542.49 L254.85 543.21 L256.07 544.01 L257.28 544.87 L258.50 545.79 L259.72 546.76 L260.93 547.78 L262.15 548.82 L263.37 549.89 L264.59 550.98 L265.80 552.07 L267.02 553.17 L268.24 554.26 L269.46 555.35 L270.67 556.41 L271.89 557.46 L273.11 558.48 L274.33 559.47 L275.54 560.43 L276.76 561.35 L277.98 562.23 L279.20 563.08 L280.41 563.88 L281.63 564.64 L282.85 565.37 L284.07 566.04 L285.28 566.68 L286.50 567.28 L287.72 567.83 L288.93 568.34 L290.15 568.81 L291.37 569.24 L292.59 569.63 L293.80 569.98 L295.02 570.30 L296.24 570.58 L297.46 570.82 L298.67 571.02 L299.89 571.19 L301.11 571.33 L302.33 571.44 L303.54 571.51 L304.76 571.56 L305.98 571.58 L307.20 571.57 L308.41 571.54 L309.63 571.49 L310.85 571.41 L312.07 571.32 L313.28 571.22 L314.50 571.09 L315.72 570.96 L316.93 570.82 L318.15 570.67 L319.37 570.52 L320.59 570.36 L321.80 570.20 L323.02 570.04 L324.24 569.88 L325.46 569.73 L326.67 569.58 L327.89 569.43 L329.11 569.29 L330.33 569.16 L331.54 569.04 L332.76 568.92 L333.98 568.81 L335.20 568.71 L336.41 568.61 L337.63 568.53 L338.85 568.45 L340.07 568.38 L341.28 568.32 L342.50 568.26 L343.72 568.21 L344.93 568.17 L346.15 568.13 L347.37 568.09 L348.59 568.06 L349.80 568.04 L351.02 568.01 L352.24 567.99 L353.46 567.98 L354.67 567.96 L355.89 567.95 L357.11 567.94 L358.33 567.94 L359.54 567.93 L360.76 567.92 L361.98 567.92 L363.20 567.91 L364.41 567.91 L365.63 567.91 L366.85 567.91 L368.07 567.91 L369.28 567.90 L370.50 567.90 L371.72 567.90 L372.93 567.90 L374.15 567.90 L375.37 567.90 L376.59 567.90 L377.80 567.90 L379.02 567.90 L380.24 567.90 L381.46 567.90 L382.67 567.90 L383.89 567.90 L385.11 567.90 L386.33 567.90 L387.54 567.90 L388.76 567.90 L389.98 567.90 L391.20 567.90 L392.41 567.90 L393.63 567.90 L394.85 567.90 L396.07 567.90 L397.28 567.90 L398.50 567.90 L399.72 567.90 L400.93 567.90 L402.15 567.90 L403.37 567.90 L404.59 567.90 L405.80 567.90 L407.02 567.90 L408.24 567.90 L409.46 567.90 L410.67 567.90 L411.89 567.90 L413.11 567.90 L414.33 567.90 L415.54 567.90 L416.76 567.90 L417.98 567.90 L419.20 567.90 L420.41 567.90 L421.63 567.90 L422.85 567.90 L424.07 567.90 L425.28 567.90 L426.50 567.90" fill="none" stroke="#e00000" stroke-width="1.2"/>
<circle cx="66.00" cy="567.40" r="1.3" fill="#e00000"/>
<circle cx="72.61" cy="567.90" r="1.3" fill="#e00000"/>
<circle cx="79.22" cy="567.40" r="1.3" fill="#e00000"/>
<circle cx="85.83" cy="569.30" r="1.3" fill="#e00000"/>
<circle cx="92.44" cy="567.40" r="1.3" fill="#e00000"/>
<circle cx="99.05" cy="568.10" r="1.3" fill="#e00000"/>
<circle cx="105.66" cy="568.60" r="1.3" fill="#e00000"/>
<circle cx="112.26" cy="566.30" r="1.3" fill="#e00000"/>
<circle cx="118.87" cy="567.40" r="1.3" fill="#e00000"/>
<circle cx="125.48" cy="567.90" r="1.3" fill="#e00000"/>
<circle cx="132.09" cy="567.40" r="1.3" fill="#e00000"/>
<circle cx="138.70" cy="567.40" r="1.3" fill="#e00000"/>
<circle cx="145.31" cy="567.40" r="1.3" fill="#e00000"/>
<circle cx="151.92" cy="570.20" r="1.3" fill="#e00000"/>
<circle cx="158.53" cy="567.40" r="1.3" fill="#e00000"/>
<circle cx="165.14" cy="568.10" r="1.3" fill="#e00000"/>
<circle cx="171.75" cy="570.40" r="1.3" fill="#e00000"/>
<circle cx="178.36" cy="572.50" r="1.3" fill="#e00000"/>
<circle cx="184.97" cy="571.60" r="1.3" fill="#e00000"/>
<circle cx="191.58" cy="572.50" r="1.3" fill="#e00000"/>
<circle cx="198.19" cy="570.20" r="1.3" fill="#e00000"/>
<circle cx="204.79" cy="567.00" r="1.3" fill="#e00000"/>
<circle cx="211.40" cy="564.00" r="1.3" fill="#e00000"/>
<circle cx="218.01" cy="557.10" r="1.3" fill="#e00000"/>
<circle cx="224.62" cy="554.10" r="1.3" fill="#e00000"/>
<circle cx="231.23" cy="549.50" r="1.3" fill="#e00000"/>
<circle cx="237.84" cy="545.00" r="1.3" fill="#e00000"/>
<circle cx="244.45" cy="543.80" r="1.3" fill="#e00000"/>
<circle cx="251.06" cy="541.10" r="1.3" fill="#e00000"/>
<circle cx="257.67" cy="542.90" r="1.3" fill="#e00000"/>
<circle cx="264.28" cy="545.00" r="1.3" fill="#e00000"/>
<circle cx="270.89" cy="561.00" r="1.3" fill="#e00000"/>
<circle cx="277.50" cy="573.20" r="1.3" fill="#e00000"/>
<circle cx="284.11" cy="573.20" r="1.3" fill="#e00000"/>
<circle cx="290.71" cy="572.00" r="1.3" fill="#e00000"/>
<circle cx="297.32" cy="570.20" r="1.3" fill="#e00000"/>
<circle cx="303.93" cy="569.30" r="1.3" fill="#e00000"/>
<circle cx="310.54" cy="567.00" r="1.3" fill="#e00000"/>
<circle cx="317.15" cy="568.60" r="1.3" fill="#e00000"/>
<circle cx="323.76" cy="567.40" r="1.3" fill="#e00000"/>
<circle cx="330.37" cy="567.40" r="1.3" fill="#e00000"/>
<circle cx="336.98" cy="567.40" r="1.3" fill="#e00000"/>
<circle cx="343.59" cy="567.90" r="1.3" fill="#e00000"/>
<circle cx="350.20" cy="568.60" r="1.3" fill="#e00000"/>
<circle cx="356.81" cy="567.90" r="1.3" fill="#e00000"/>
<circle cx="363.42" cy="568.10" r="1.3" fill="#e00000"/>
<circle cx="370.03" cy="568.60" r="1.3" fill="#e00000"/>
<circle cx="376.64" cy="567.90" r="1.3" fill="#e00000"/>
<circle cx="383.24" cy="569.70" r="1.3" fill="#e00000"/>
<circle cx="389.85" cy="566.70" r="1.3" fill="#e00000"/>
<circle cx="396.46" cy="569.70" r="1.3" fill="#e00000"/>
<circle cx="403.07" cy="567.90" r="1.3" fill="#e00000"/>
<circle cx="409.68" cy="568.60" r="1.3" fill="#e00000"/>
<circle cx="416.29" cy="569.30" r="1.3" fill="#e00000"/>
<circle cx="422.90" cy="567.90" r="1.3" fill="#e00000"/>
<rect x="62.50" y="529.50" width="364.00" height="46.50" fill="none" stroke="#858585" stroke-width="1"/>
<text transform="translate(53.05 530.10) scale(0.930 1)" text-anchor="end" style="font-family:'Liberation Sans',sans-serif;font-size:7.80px;font-kerning:none" fill="#000" stroke="#000" stroke-width="0.12">1</text>
<text transform="translate(53.05 537.80) scale(0.930 1)" text-anchor="end" style="font-family:'Liberation Sans',sans-serif;font-size:7.80px;font-kerning:none" fill="#000" stroke="#000" stroke-width="0.12">0.9</text>
<text transform="translate(53.05 545.50) scale(0.930 1)" text-anchor="end" style="font-family:'Liberation Sans',sans-serif;font-size:7.80px;font-kerning:none" fill="#000" stroke="#000" stroke-width="0.12">0.8</text>
<text transform="translate(53.05 553.20) scale(0.930 1)" text-anchor="end" style="font-family:'Liberation Sans',sans-serif;font-size:7.80px;font-kerning:none" fill="#000" stroke="#000" stroke-width="0.12">0.7</text>
<text transform="translate(53.05 560.90) scale(0.930 1)" text-anchor="end" style="font-family:'Liberation Sans',sans-serif;font-size:7.80px;font-kerning:none" fill="#000" stroke="#000" stroke-width="0.12">0.6</text>
<text transform="translate(53.05 568.60) scale(0.930 1)" text-anchor="end" style="font-family:'Liberation Sans',sans-serif;font-size:7.80px;font-kerning:none" fill="#000" stroke="#000" stroke-width="0.12">0.5</text>
<text transform="translate(53.05 576.30) scale(0.930 1)" text-anchor="end" style="font-family:'Liberation Sans',sans-serif;font-size:7.80px;font-kerning:none" fill="#000" stroke="#000" stroke-width="0.12">0.4</text>
<text transform="translate(63.30 584.90) scale(1.040 1)" text-anchor="middle" style="font-family:'Liberation Sans',sans-serif;font-size:7.20px;font-kerning:none" fill="#000" stroke="#000" stroke-width="0.12">-100</text>
<text transform="translate(154.30 584.90) scale(1.040 1)" text-anchor="middle" style="font-family:'Liberation Sans',sans-serif;font-size:7.20px;font-kerning:none" fill="#000" stroke="#000" stroke-width="0.12">-50</text>
<text transform="translate(245.30 584.90) scale(1.040 1)" text-anchor="middle" style="font-family:'Liberation Sans',sans-serif;font-size:7.20px;font-kerning:none" fill="#000" stroke="#000" stroke-width="0.12">0</text>
<text transform="translate(336.30 584.90) scale(1.040 1)" text-anchor="middle" style="font-family:'Liberation Sans',sans-serif;font-size:7.20px;font-kerning:none" fill="#000" stroke="#000" stroke-width="0.12">50</text>
<text transform="translate(427.30 584.90) scale(1.040 1)" text-anchor="middle" style="font-family:'Liberation Sans',sans-serif;font-size:7.20px;font-kerning:none" fill="#000" stroke="#000" stroke-width="0.12">100</text>
<text transform="matrix(1.4912 0 0 1.2376 388.472 604.653)" x="0" y="0" fill="#111" stroke="#111" stroke-width="0.074" style="font-kerning:none" ><tspan style="font-family:'Liberation Serif',serif;font-style:italic;font-size:10.00px" y="0.00">θ</tspan><tspan style="font-family:'Liberation Serif',serif;font-style:normal;font-size:10.00px" y="0.00">(</tspan><tspan style="font-family:'Liberation Serif',serif;font-style:italic;font-size:10.00px" y="0.00">μ</tspan><tspan style="font-family:'Liberation Serif',serif;font-style:normal;font-size:10.00px" y="0.00">rad)</tspan></text>
<text transform="matrix(1.4774 0 0 1.4920 1.580 539.011)" x="0" y="0" fill="#000" stroke="#000" stroke-width="0.067" style="font-kerning:none" ><tspan style="font-family:'Liberation Sans',sans-serif;font-style:normal;font-size:10.00px" y="0.00">d)</tspan></text>
<text transform="matrix(0 -1.2682 1.3302 0 30.768 569.857)" x="0" y="0" fill="#111" stroke="#111" stroke-width="0.077" style="font-kerning:none" ><tspan style="font-family:'Liberation Serif',serif;font-style:italic;font-size:10.00px" y="0.00">p</tspan></text>
<text transform="matrix(0 -1.1130 1.1470 0 25.258 563.189)" x="0" y="0" fill="#111" stroke="#111" stroke-width="0.089" style="font-kerning:none" ><tspan style="font-family:'Liberation Serif',serif;font-style:normal;font-size:10.00px" y="0.00">(2)</tspan></text>
<text transform="matrix(0 -1.3092 1.5349 0 31.032 547.975)" x="0" y="0" fill="#111" stroke="#111" stroke-width="0.071" style="font-kerning:none" ><tspan style="font-family:'Liberation Serif',serif;font-style:normal;font-size:10.00px" y="0.00">(</tspan><tspan style="font-family:'Liberation Serif',serif;font-style:italic;font-size:10.00px" y="0.00">θ</tspan><tspan style="font-family:'Liberation Serif',serif;font-style:normal;font-size:10.00px" y="0.00">)</tspan></text>
<line x1="54" y1="645.50" x2="433" y2="645.50" stroke="#c0c0c0" stroke-width="1"/>
<line x1="62.50" y1="595.00" x2="62.50" y2="648.00" stroke="#c4c4c4" stroke-width="1"/>
<line x1="79.56" y1="644.30" x2="79.56" y2="645.50" stroke="#909090" stroke-width="0.6"/>
<line x1="97.78" y1="644.30" x2="97.78" y2="645.50" stroke="#909090" stroke-width="0.6"/>
<line x1="116.01" y1="644.30" x2="116.01" y2="645.50" stroke="#909090" stroke-width="0.6"/>
<line x1="134.24" y1="644.30" x2="134.24" y2="645.50" stroke="#909090" stroke-width="0.6"/>
<line x1="152.46" y1="644.30" x2="152.46" y2="645.50" stroke="#909090" stroke-width="0.6"/>
<line x1="170.69" y1="644.30" x2="170.69" y2="645.50" stroke="#909090" stroke-width="0.6"/>
<line x1="188.92" y1="644.30" x2="188.92" y2="645.50" stroke="#909090" stroke-width="0.6"/>
<line x1="207.15" y1="644.30" x2="207.15" y2="645.50" stroke="#909090" stroke-width="0.6"/>
<line x1="225.37" y1="644.30" x2="225.37" y2="645.50" stroke="#909090" stroke-width="0.6"/>
<line x1="243.60" y1="644.30" x2="243.60" y2="645.50" stroke="#909090" stroke-width="0.6"/>
<line x1="261.83" y1="644.30" x2="261.83" y2="645.50" stroke="#909090" stroke-width="0.6"/>
<line x1="280.05" y1="644.30" x2="280.05" y2="645.50" stroke="#909090" stroke-width="0.6"/>
<line x1="298.28" y1="644.30" x2="298.28" y2="645.50" stroke="#909090" stroke-width="0.6"/>
<line x1="316.51" y1="644.30" x2="316.51" y2="645.50" stroke="#909090" stroke-width="0.6"/>
<line x1="334.74" y1="644.30" x2="334.74" y2="645.50" stroke="#909090" stroke-width="0.6"/>
<line x1="352.96" y1="644.30" x2="352.96" y2="645.50" stroke="#909090" stroke-width="0.6"/>
<line x1="371.19" y1="644.30" x2="371.19" y2="645.50" stroke="#909090" stroke-width="0.6"/>
<line x1="389.42" y1="644.30" x2="389.42" y2="645.50" stroke="#909090" stroke-width="0.6"/>
<line x1="407.64" y1="644.30" x2="407.64" y2="645.50" stroke="#909090" stroke-width="0.6"/>
<line x1="425.87" y1="644.30" x2="425.87" y2="645.50" stroke="#909090" stroke-width="0.6"/>
<path d="M61.53 645.50 L62.13 645.50 L62.73 645.50 L63.33 645.50 L63.93 645.50 L64.53 645.50 L65.13 645.50 L65.73 645.50 L66.33 645.50 L66.94 645.50 L67.54 645.50 L68.14 645.50 L68.74 645.50 L69.34 645.50 L69.94 645.50 L70.54 645.50 L71.14 645.50 L71.74 645.50 L72.34 645.50 L72.94 645.50 L73.54 645.50 L74.14 645.50 L74.74 645.50 L75.34 645.50 L75.94 645.50 L76.54 645.50 L77.14 645.50 L77.75 645.50 L78.35 645.50 L78.95 645.50 L79.55 645.50 L80.15 645.50 L80.75 645.50 L81.35 645.50 L81.95 645.50 L82.55 645.50 L83.15 645.50 L83.75 645.50 L84.35 645.50 L84.95 645.50 L85.55 645.50 L86.15 645.50 L86.75 645.50 L87.35 645.50 L87.95 645.50 L88.56 645.50 L89.16 645.50 L89.76 645.50 L90.36 645.50 L90.96 645.50 L91.56 645.50 L92.16 645.50 L92.76 645.50 L93.36 645.50 L93.96 645.50 L94.56 645.50 L95.16 645.50 L95.76 645.50 L96.36 645.50 L96.96 645.50 L97.56 645.50 L98.16 645.50 L98.76 645.50 L99.37 645.50 L99.97 645.50 L100.57 645.50 L101.17 645.50 L101.77 645.50 L102.37 645.50 L102.97 645.50 L103.57 645.50 L104.17 645.50 L104.77 645.50 L105.37 645.50 L105.97 645.50 L106.57 645.50 L107.17 645.50 L107.77 645.50 L108.37 645.50 L108.97 645.50 L109.57 645.50 L110.18 645.50 L110.78 645.50 L111.38 645.50 L111.98 645.50 L112.58 645.50 L113.18 645.50 L113.78 645.50 L114.38 645.50 L114.98 645.50 L115.58 645.50 L116.18 645.50 L116.78 645.50 L117.38 645.50 L117.98 645.50 L118.58 645.50 L119.18 645.50 L119.78 645.50 L120.38 645.50 L120.99 645.50 L121.59 645.50 L122.19 645.50 L122.79 645.50 L123.39 645.50 L123.99 645.50 L124.59 645.50 L125.19 645.50 L125.79 645.50 L126.39 645.50 L126.99 645.50 L127.59 645.50 L128.19 645.50 L128.79 645.50 L129.39 645.50 L129.99 645.50 L130.59 645.50 L131.20 645.50 L131.80 645.50 L132.40 645.50 L133.00 645.50 L133.60 645.50 L134.20 645.50 L134.80 645.50 L135.40 645.50 L136.00 645.50 L136.60 645.50 L137.20 645.50 L137.80 645.50 L138.40 645.50 L139.00 645.49 L139.60 645.49 L140.20 645.49 L140.80 645.49 L141.40 645.49 L142.01 645.49 L142.61 645.49 L143.21 645.48 L143.81 645.48 L144.41 645.48 L145.01 645.47 L145.61 645.47 L146.21 645.46 L146.81 645.46 L147.41 645.45 L148.01 645.45 L148.61 645.44 L149.21 645.43 L149.81 645.42 L150.41 645.41 L151.01 645.40 L151.61 645.39 L152.21 645.38 L152.82 645.36 L153.42 645.35 L154.02 645.33 L154.62 645.32 L155.22 645.30 L155.82 645.28 L156.42 645.26 L157.02 645.23 L157.62 645.21 L158.22 645.19 L158.82 645.16 L159.42 645.14 L160.02 645.11 L160.62 645.09 L161.22 645.06 L161.82 645.03 L162.42 645.01 L163.02 644.98 L163.63 644.96 L164.23 644.93 L164.83 644.91 L165.43 644.89 L166.03 644.87 L166.63 644.85 L167.23 644.84 L167.83 644.83 L168.43 644.82 L169.03 644.81 L169.63 644.81 L170.23 644.81 L170.83 644.81 L171.43 644.82 L172.03 644.83 L172.63 644.84 L173.23 644.86 L173.83 644.88 L174.44 644.91 L175.04 644.94 L175.64 644.97 L176.24 645.00 L176.84 645.04 L177.44 645.08 L178.04 645.13 L178.64 645.17 L179.24 645.22 L179.84 645.26 L180.44 645.30 L181.04 645.34 L181.64 645.38 L182.24 645.42 L182.84 645.45 L183.44 645.47 L184.04 645.49 L184.64 645.50 L185.25 645.49 L185.85 645.48 L186.45 645.45 L187.05 645.41 L187.65 645.36 L188.25 645.29 L188.85 645.21 L189.45 645.11 L190.05 644.99 L190.65 644.86 L191.25 644.70 L191.85 644.53 L192.45 644.34 L193.05 644.13 L193.65 643.90 L194.25 643.64 L194.85 643.37 L195.45 643.07 L196.06 642.74 L196.66 642.40 L197.26 642.03 L197.86 641.63 L198.46 641.21 L199.06 640.76 L199.66 640.28 L200.26 639.78 L200.86 639.24 L201.46 638.68 L202.06 638.09 L202.66 637.46 L203.26 636.81 L203.86 636.12 L204.46 635.40 L205.06 634.64 L205.66 633.85 L206.27 633.02 L206.87 632.16 L207.47 631.26 L208.07 630.32 L208.67 629.34 L209.27 628.33 L209.87 627.27 L210.47 626.18 L211.07 625.04 L211.67 623.87 L212.27 622.66 L212.87 621.42 L213.47 620.14 L214.07 618.83 L214.67 617.49 L215.27 616.12 L215.87 614.74 L216.47 613.33 L217.08 611.92 L217.68 610.51 L218.28 609.11 L218.88 607.72 L219.48 606.37 L220.08 605.05 L220.68 603.65 L221.28 602.31 L221.88 601.06 L222.48 599.93 L223.08 598.97 L223.68 598.21 L224.28 597.68 L224.88 597.41 L225.48 597.39 L226.08 597.54 L226.68 597.34 L227.28 597.35 L227.89 597.57 L228.49 598.02 L229.09 598.69 L229.69 599.59 L230.29 600.71 L230.89 602.05 L231.49 603.58 L232.09 605.31 L232.69 607.20 L233.29 609.24 L233.89 611.41 L234.49 613.69 L235.09 616.05 L235.69 618.48 L236.29 620.95 L236.89 623.45 L237.49 625.95 L238.09 628.43 L238.70 630.87 L239.30 633.24 L239.90 635.52 L240.50 637.68 L241.10 639.67 L241.70 641.48 L242.30 643.05 L242.90 644.35 L243.50 645.36 L244.10 644.72 L244.70 643.51 L245.30 642.03 L245.90 640.30 L246.50 638.36 L247.10 636.26 L247.70 634.02 L248.30 631.67 L248.90 629.25 L249.51 626.78 L250.11 624.28 L250.71 621.78 L251.31 619.30 L251.91 616.86 L252.51 614.47 L253.11 612.16 L253.71 609.95 L254.31 607.86 L254.91 605.92 L255.51 604.14 L256.11 602.54 L256.71 601.13 L257.31 599.94 L257.91 598.97 L258.51 598.22 L259.11 597.70 L259.71 597.40 L260.32 597.32 L260.92 597.45 L261.52 597.44 L262.12 597.37 L262.72 597.56 L263.32 598.01 L263.92 598.69 L264.52 599.59 L265.12 600.67 L265.72 601.88 L266.32 603.19 L266.92 604.57 L267.52 605.92 L268.12 607.27 L268.72 608.64 L269.32 610.04 L269.92 611.45 L270.53 612.86 L271.13 614.27 L271.73 615.66 L272.33 617.04 L272.93 618.38 L273.53 619.71 L274.13 621.00 L274.73 622.25 L275.33 623.47 L275.93 624.66 L276.53 625.80 L277.13 626.91 L277.73 627.98 L278.33 629.01 L278.93 630.00 L279.53 630.95 L280.13 631.86 L280.73 632.74 L281.34 633.58 L281.94 634.38 L282.54 635.15 L283.14 635.88 L283.74 636.58 L284.34 637.25 L284.94 637.88 L285.54 638.48 L286.14 639.06 L286.74 639.60 L287.34 640.11 L287.94 640.60 L288.54 641.06 L289.14 641.49 L289.74 641.90 L290.34 642.28 L290.94 642.63 L291.54 642.96 L292.15 643.27 L292.75 643.55 L293.35 643.82 L293.95 644.06 L294.55 644.27 L295.15 644.47 L295.75 644.65 L296.35 644.81 L296.95 644.95 L297.55 645.07 L298.15 645.17 L298.75 645.26 L299.35 645.34 L299.95 645.39 L300.55 645.44 L301.15 645.47 L301.75 645.49 L302.35 645.50 L302.96 645.49 L303.56 645.48 L304.16 645.46 L304.76 645.43 L305.36 645.39 L305.96 645.36 L306.56 645.32 L307.16 645.27 L307.76 645.23 L308.36 645.19 L308.96 645.14 L309.56 645.10 L310.16 645.06 L310.76 645.02 L311.36 644.98 L311.96 644.95 L312.56 644.92 L313.16 644.89 L313.77 644.86 L314.37 644.85 L314.97 644.83 L315.57 644.82 L316.17 644.81 L316.77 644.81 L317.37 644.81 L317.97 644.81 L318.57 644.81 L319.17 644.82 L319.77 644.83 L320.37 644.85 L320.97 644.86 L321.57 644.88 L322.17 644.90 L322.77 644.93 L323.37 644.95 L323.97 644.97 L324.58 645.00 L325.18 645.03 L325.78 645.05 L326.38 645.08 L326.98 645.10 L327.58 645.13 L328.18 645.16 L328.78 645.18 L329.38 645.20 L329.98 645.23 L330.58 645.25 L331.18 645.27 L331.78 645.29 L332.38 645.31 L332.98 645.33 L333.58 645.34 L334.18 645.36 L334.78 645.37 L335.39 645.39 L335.99 645.40 L336.59 645.41 L337.19 645.42 L337.79 645.43 L338.39 645.44 L338.99 645.44 L339.59 645.45 L340.19 645.46 L340.79 645.46 L341.39 645.47 L341.99 645.47 L342.59 645.48 L343.19 645.48 L343.79 645.48 L344.39 645.48 L344.99 645.49 L345.60 645.49 L346.20 645.49 L346.80 645.49 L347.40 645.49 L348.00 645.49 L348.60 645.50 L349.20 645.50 L349.80 645.50 L350.40 645.50 L351.00 645.50 L351.60 645.50 L352.20 645.50 L352.80 645.50 L353.40 645.50 L354.00 645.50 L354.60 645.50 L355.20 645.50 L355.80 645.50 L356.41 645.50 L357.01 645.50 L357.61 645.50 L358.21 645.50 L358.81 645.50 L359.41 645.50 L360.01 645.50 L360.61 645.50 L361.21 645.50 L361.81 645.50 L362.41 645.50 L363.01 645.50 L363.61 645.50 L364.21 645.50 L364.81 645.50 L365.41 645.50 L366.01 645.50 L366.61 645.50 L367.22 645.50 L367.82 645.50 L368.42 645.50 L369.02 645.50 L369.62 645.50 L370.22 645.50 L370.82 645.50 L371.42 645.50 L372.02 645.50 L372.62 645.50 L373.22 645.50 L373.82 645.50 L374.42 645.50 L375.02 645.50 L375.62 645.50 L376.22 645.50 L376.82 645.50 L377.42 645.50 L378.03 645.50 L378.63 645.50 L379.23 645.50 L379.83 645.50 L380.43 645.50 L381.03 645.50 L381.63 645.50 L382.23 645.50 L382.83 645.50 L383.43 645.50 L384.03 645.50 L384.63 645.50 L385.23 645.50 L385.83 645.50 L386.43 645.50 L387.03 645.50 L387.63 645.50 L388.23 645.50 L388.84 645.50 L389.44 645.50 L390.04 645.50 L390.64 645.50 L391.24 645.50 L391.84 645.50 L392.44 645.50 L393.04 645.50 L393.64 645.50 L394.24 645.50 L394.84 645.50 L395.44 645.50 L396.04 645.50 L396.64 645.50 L397.24 645.50 L397.84 645.50 L398.44 645.50 L399.04 645.50 L399.65 645.50 L400.25 645.50 L400.85 645.50 L401.45 645.50 L402.05 645.50 L402.65 645.50 L403.25 645.50 L403.85 645.50 L404.45 645.50 L405.05 645.50 L405.65 645.50 L406.25 645.50 L406.85 645.50 L407.45 645.50 L408.05 645.50 L408.65 645.50 L409.25 645.50 L409.86 645.50 L410.46 645.50 L411.06 645.50 L411.66 645.50 L412.26 645.50 L412.86 645.50 L413.46 645.50 L414.06 645.50 L414.66 645.50 L415.26 645.50 L415.86 645.50 L416.46 645.50 L417.06 645.50 L417.66 645.50 L418.26 645.50 L418.86 645.50 L419.46 645.50 L420.06 645.50 L420.67 645.50 L421.27 645.50 L421.87 645.50 L422.47 645.50 L423.07 645.50 L423.67 645.50 L424.27 645.50 L424.87 645.50 L425.47 645.50 L425.47 645.50 L424.87 645.50 L424.27 645.50 L423.67 645.50 L423.07 645.50 L422.47 645.50 L421.87 645.50 L421.27 645.50 L420.67 645.50 L420.06 645.50 L419.46 645.50 L418.86 645.50 L418.26 645.50 L417.66 645.50 L417.06 645.50 L416.46 645.50 L415.86 645.50 L415.26 645.50 L414.66 645.50 L414.06 645.50 L413.46 645.50 L412.86 645.50 L412.26 645.50 L411.66 645.50 L411.06 645.50 L410.46 645.50 L409.86 645.50 L409.25 645.50 L408.65 645.50 L408.05 645.50 L407.45 645.50 L406.85 645.50 L406.25 645.50 L405.65 645.50 L405.05 645.50 L404.45 645.50 L403.85 645.50 L403.25 645.50 L402.65 645.50 L402.05 645.50 L401.45 645.50 L400.85 645.50 L400.25 645.50 L399.65 645.50 L399.04 645.50 L398.44 645.50 L397.84 645.50 L397.24 645.50 L396.64 645.50 L396.04 645.50 L395.44 645.50 L394.84 645.50 L394.24 645.50 L393.64 645.50 L393.04 645.50 L392.44 645.50 L391.84 645.50 L391.24 645.50 L390.64 645.50 L390.04 645.50 L389.44 645.50 L388.84 645.50 L388.23 645.50 L387.63 645.50 L387.03 645.50 L386.43 645.50 L385.83 645.50 L385.23 645.50 L384.63 645.50 L384.03 645.50 L383.43 645.50 L382.83 645.50 L382.23 645.50 L381.63 645.50 L381.03 645.50 L380.43 645.50 L379.83 645.50 L379.23 645.50 L378.63 645.50 L378.03 645.50 L377.42 645.50 L376.82 645.50 L376.22 645.50 L375.62 645.50 L375.02 645.50 L374.42 645.50 L373.82 645.50 L373.22 645.50 L372.62 645.50 L372.02 645.50 L371.42 645.50 L370.82 645.50 L370.22 645.50 L369.62 645.50 L369.02 645.50 L368.42 645.50 L367.82 645.50 L367.22 645.50 L366.61 645.50 L366.01 645.50 L365.41 645.50 L364.81 645.50 L364.21 645.50 L363.61 645.50 L363.01 645.50 L362.41 645.50 L361.81 645.50 L361.21 645.50 L360.61 645.50 L360.01 645.50 L359.41 645.50 L358.81 645.50 L358.21 645.50 L357.61 645.50 L357.01 645.50 L356.41 645.50 L355.80 645.50 L355.20 645.50 L354.60 645.50 L354.00 645.50 L353.40 645.50 L352.80 645.50 L352.20 645.50 L351.60 645.50 L351.00 645.50 L350.40 645.50 L349.80 645.50 L349.20 645.50 L348.60 645.50 L348.00 645.49 L347.40 645.49 L346.80 645.49 L346.20 645.49 L345.60 645.49 L344.99 645.49 L344.39 645.49 L343.79 645.48 L343.19 645.48 L342.59 645.48 L341.99 645.47 L341.39 645.47 L340.79 645.47 L340.19 645.46 L339.59 645.46 L338.99 645.45 L338.39 645.44 L337.79 645.43 L337.19 645.43 L336.59 645.42 L335.99 645.41 L335.39 645.40 L334.78 645.38 L334.18 645.37 L333.58 645.35 L332.98 645.34 L332.38 645.32 L331.78 645.30 L331.18 645.29 L330.58 645.27 L329.98 645.24 L329.38 645.22 L328.78 645.20 L328.18 645.17 L327.58 645.15 L326.98 645.12 L326.38 645.10 L325.78 645.07 L325.18 645.05 L324.58 645.02 L323.97 644.99 L323.37 644.97 L322.77 644.94 L322.17 644.92 L321.57 644.90 L320.97 644.88 L320.37 644.86 L319.77 644.84 L319.17 644.83 L318.57 644.82 L317.97 644.81 L317.37 644.81 L316.77 644.81 L316.17 644.82 L315.57 644.83 L314.97 644.84 L314.37 644.86 L313.77 644.88 L313.16 644.91 L312.56 644.94 L311.96 644.97 L311.36 645.01 L310.76 645.05 L310.16 645.09 L309.56 645.13 L308.96 645.18 L308.36 645.22 L307.76 645.26 L307.16 645.31 L306.56 645.35 L305.96 645.39 L305.36 645.42 L304.76 645.45 L304.16 645.47 L303.56 645.49 L302.96 645.50 L302.35 645.50 L301.75 645.50 L301.15 645.49 L300.55 645.46 L299.95 645.43 L299.35 645.38 L298.75 645.32 L298.15 645.24 L297.55 645.15 L296.95 645.04 L296.35 644.91 L295.75 644.77 L295.15 644.61 L294.55 644.42 L293.95 644.22 L293.35 644.00 L292.75 643.75 L292.15 643.49 L291.54 643.20 L290.94 642.89 L290.34 642.55 L289.74 642.19 L289.14 641.81 L288.54 641.40 L287.94 640.97 L287.34 640.52 L286.74 640.03 L286.14 639.53 L285.54 638.99 L284.94 638.43 L284.34 637.85 L283.74 637.24 L283.14 636.60 L282.54 635.94 L281.94 635.26 L281.34 634.55 L280.73 633.83 L280.13 633.08 L279.53 632.31 L278.93 631.52 L278.33 630.71 L277.73 629.90 L277.13 629.07 L276.53 628.23 L275.93 627.39 L275.33 626.55 L274.73 625.70 L274.13 624.86 L273.53 624.04 L272.93 623.22 L272.33 622.42 L271.73 621.65 L271.13 620.90 L270.53 620.18 L269.92 619.49 L269.32 618.83 L268.72 618.22 L268.12 617.65 L267.52 617.12 L266.92 616.68 L266.32 616.38 L265.72 616.13 L265.12 615.92 L264.52 615.73 L263.92 615.53 L263.32 615.30 L262.72 615.03 L262.12 614.72 L261.52 614.39 L260.92 614.38 L260.32 614.77 L259.71 615.23 L259.11 615.77 L258.51 616.38 L257.91 617.09 L257.31 617.89 L256.71 618.80 L256.11 619.82 L255.51 620.96 L254.91 622.22 L254.31 623.63 L253.71 625.16 L253.11 626.82 L252.51 628.59 L251.91 630.46 L251.31 632.40 L250.71 634.38 L250.11 636.35 L249.51 638.27 L248.90 640.10 L248.30 641.78 L247.70 643.26 L247.10 644.50 L246.50 645.46 L245.90 645.50 L245.30 645.50 L244.70 645.50 L244.10 645.50 L243.50 645.50 L242.90 645.50 L242.30 645.50 L241.70 645.50 L241.10 645.50 L240.50 645.17 L239.90 644.11 L239.30 642.79 L238.70 641.24 L238.09 639.50 L237.49 637.64 L236.89 635.69 L236.29 633.71 L235.69 631.75 L235.09 629.83 L234.49 627.99 L233.89 626.25 L233.29 624.63 L232.69 623.14 L232.09 621.79 L231.49 620.56 L230.89 619.46 L230.29 618.48 L229.69 617.61 L229.09 616.84 L228.49 616.17 L227.89 615.58 L227.28 615.07 L226.68 614.63 L226.08 614.26 L225.48 614.50 L224.88 614.83 L224.28 615.12 L223.68 615.38 L223.08 615.60 L222.48 615.79 L221.88 615.99 L221.28 616.21 L220.68 616.47 L220.08 616.79 L219.48 617.29 L218.88 617.83 L218.28 618.42 L217.68 619.05 L217.08 619.71 L216.47 620.41 L215.87 621.14 L215.27 621.90 L214.67 622.69 L214.07 623.49 L213.47 624.31 L212.87 625.14 L212.27 625.98 L211.67 626.83 L211.07 627.67 L210.47 628.51 L209.87 629.35 L209.27 630.17 L208.67 630.98 L208.07 631.78 L207.47 632.56 L206.87 633.33 L206.27 634.07 L205.66 634.79 L205.06 635.49 L204.46 636.17 L203.86 636.82 L203.26 637.45 L202.66 638.05 L202.06 638.62 L201.46 639.17 L200.86 639.70 L200.26 640.20 L199.66 640.67 L199.06 641.12 L198.46 641.54 L197.86 641.94 L197.26 642.32 L196.66 642.67 L196.06 642.99 L195.45 643.30 L194.85 643.58 L194.25 643.84 L193.65 644.08 L193.05 644.29 L192.45 644.49 L191.85 644.66 L191.25 644.82 L190.65 644.96 L190.05 645.08 L189.45 645.18 L188.85 645.27 L188.25 645.34 L187.65 645.40 L187.05 645.44 L186.45 645.47 L185.85 645.49 L185.25 645.50 L184.64 645.50 L184.04 645.50 L183.44 645.49 L182.84 645.47 L182.24 645.44 L181.64 645.41 L181.04 645.37 L180.44 645.33 L179.84 645.29 L179.24 645.25 L178.64 645.20 L178.04 645.16 L177.44 645.12 L176.84 645.07 L176.24 645.03 L175.64 645.00 L175.04 644.96 L174.44 644.93 L173.83 644.90 L173.23 644.87 L172.63 644.85 L172.03 644.84 L171.43 644.82 L170.83 644.81 L170.23 644.81 L169.63 644.81 L169.03 644.81 L168.43 644.82 L167.83 644.83 L167.23 644.85 L166.63 644.87 L166.03 644.88 L165.43 644.90 L164.83 644.93 L164.23 644.95 L163.63 644.98 L163.02 645.00 L162.42 645.03 L161.82 645.05 L161.22 645.08 L160.62 645.11 L160.02 645.13 L159.42 645.16 L158.82 645.18 L158.22 645.21 L157.62 645.23 L157.02 645.25 L156.42 645.27 L155.82 645.29 L155.22 645.31 L154.62 645.33 L154.02 645.34 L153.42 645.36 L152.82 645.37 L152.21 645.39 L151.61 645.40 L151.01 645.41 L150.41 645.42 L149.81 645.43 L149.21 645.44 L148.61 645.44 L148.01 645.45 L147.41 645.46 L146.81 645.46 L146.21 645.47 L145.61 645.47 L145.01 645.48 L144.41 645.48 L143.81 645.48 L143.21 645.48 L142.61 645.49 L142.01 645.49 L141.40 645.49 L140.80 645.49 L140.20 645.49 L139.60 645.49 L139.00 645.50 L138.40 645.50 L137.80 645.50 L137.20 645.50 L136.60 645.50 L136.00 645.50 L135.40 645.50 L134.80 645.50 L134.20 645.50 L133.60 645.50 L133.00 645.50 L132.40 645.50 L131.80 645.50 L131.20 645.50 L130.59 645.50 L129.99 645.50 L129.39 645.50 L128.79 645.50 L128.19 645.50 L127.59 645.50 L126.99 645.50 L126.39 645.50 L125.79 645.50 L125.19 645.50 L124.59 645.50 L123.99 645.50 L123.39 645.50 L122.79 645.50 L122.19 645.50 L121.59 645.50 L120.99 645.50 L120.38 645.50 L119.78 645.50 L119.18 645.50 L118.58 645.50 L117.98 645.50 L117.38 645.50 L116.78 645.50 L116.18 645.50 L115.58 645.50 L114.98 645.50 L114.38 645.50 L113.78 645.50 L113.18 645.50 L112.58 645.50 L111.98 645.50 L111.38 645.50 L110.78 645.50 L110.18 645.50 L109.57 645.50 L108.97 645.50 L108.37 645.50 L107.77 645.50 L107.17 645.50 L106.57 645.50 L105.97 645.50 L105.37 645.50 L104.77 645.50 L104.17 645.50 L103.57 645.50 L102.97 645.50 L102.37 645.50 L101.77 645.50 L101.17 645.50 L100.57 645.50 L99.97 645.50 L99.37 645.50 L98.76 645.50 L98.16 645.50 L97.56 645.50 L96.96 645.50 L96.36 645.50 L95.76 645.50 L95.16 645.50 L94.56 645.50 L93.96 645.50 L93.36 645.50 L92.76 645.50 L92.16 645.50 L91.56 645.50 L90.96 645.50 L90.36 645.50 L89.76 645.50 L89.16 645.50 L88.56 645.50 L87.95 645.50 L87.35 645.50 L86.75 645.50 L86.15 645.50 L85.55 645.50 L84.95 645.50 L84.35 645.50 L83.75 645.50 L83.15 645.50 L82.55 645.50 L81.95 645.50 L81.35 645.50 L80.75 645.50 L80.15 645.50 L79.55 645.50 L78.95 645.50 L78.35 645.50 L77.75 645.50 L77.14 645.50 L76.54 645.50 L75.94 645.50 L75.34 645.50 L74.74 645.50 L74.14 645.50 L73.54 645.50 L72.94 645.50 L72.34 645.50 L71.74 645.50 L71.14 645.50 L70.54 645.50 L69.94 645.50 L69.34 645.50 L68.74 645.50 L68.14 645.50 L67.54 645.50 L66.94 645.50 L66.33 645.50 L65.73 645.50 L65.13 645.50 L64.53 645.50 L63.93 645.50 L63.33 645.50 L62.73 645.50 L62.13 645.50 L61.53 645.50 Z" fill="#d0d0fa"/>
<path d="M61.53 645.50 L62.13 645.50 L62.73 645.50 L63.33 645.50 L63.93 645.50 L64.53 645.50 L65.13 645.50 L65.73 645.50 L66.33 645.50 L66.94 645.50 L67.54 645.50 L68.14 645.50 L68.74 645.50 L69.34 645.50 L69.94 645.50 L70.54 645.50 L71.14 645.50 L71.74 645.50 L72.34 645.50 L72.94 645.50 L73.54 645.50 L74.14 645.50 L74.74 645.50 L75.34 645.50 L75.94 645.50 L76.54 645.50 L77.14 645.50 L77.75 645.50 L78.35 645.50 L78.95 645.50 L79.55 645.50 L80.15 645.50 L80.75 645.50 L81.35 645.50 L81.95 645.50 L82.55 645.50 L83.15 645.50 L83.75 645.50 L84.35 645.50 L84.95 645.50 L85.55 645.50 L86.15 645.50 L86.75 645.50 L87.35 645.50 L87.95 645.50 L88.56 645.50 L89.16 645.50 L89.76 645.50 L90.36 645.50 L90.96 645.50 L91.56 645.50 L92.16 645.50 L92.76 645.50 L93.36 645.50 L93.96 645.50 L94.56 645.50 L95.16 645.50 L95.76 645.50 L96.36 645.50 L96.96 645.50 L97.56 645.50 L98.16 645.50 L98.76 645.50 L99.37 645.50 L99.97 645.50 L100.57 645.50 L101.17 645.50 L101.77 645.50 L102.37 645.50 L102.97 645.50 L103.57 645.50 L104.17 645.50 L104.77 645.50 L105.37 645.50 L105.97 645.50 L106.57 645.50 L107.17 645.50 L107.77 645.50 L108.37 645.50 L108.97 645.50 L109.57 645.50 L110.18 645.50 L110.78 645.50 L111.38 645.50 L111.98 645.50 L112.58 645.50 L113.18 645.50 L113.78 645.50 L114.38 645.50 L114.98 645.50 L115.58 645.50 L116.18 645.50 L116.78 645.50 L117.38 645.50 L117.98 645.50 L118.58 645.50 L119.18 645.50 L119.78 645.50 L120.38 645.50 L120.99 645.50 L121.59 645.50 L122.19 645.50 L122.79 645.50 L123.39 645.50 L123.99 645.50 L124.59 645.50 L125.19 645.50 L125.79 645.50 L126.39 645.50 L126.99 645.50 L127.59 645.50 L128.19 645.50 L128.79 645.50 L129.39 645.50 L129.99 645.50 L130.59 645.50 L131.20 645.50 L131.80 645.50 L132.40 645.50 L133.00 645.50 L133.60 645.50 L134.20 645.50 L134.80 645.50 L135.40 645.50 L136.00 645.50 L136.60 645.50 L137.20 645.50 L137.80 645.50 L138.40 645.50 L139.00 645.49 L139.60 645.49 L140.20 645.49 L140.80 645.49 L141.40 645.49 L142.01 645.49 L142.61 645.49 L143.21 645.48 L143.81 645.48 L144.41 645.48 L145.01 645.47 L145.61 645.47 L146.21 645.47 L146.81 645.46 L147.41 645.45 L148.01 645.45 L148.61 645.44 L149.21 645.43 L149.81 645.42 L150.41 645.41 L151.01 645.40 L151.61 645.39 L152.21 645.38 L152.82 645.37 L153.42 645.35 L154.02 645.34 L154.62 645.32 L155.22 645.30 L155.82 645.28 L156.42 645.26 L157.02 645.24 L157.62 645.22 L158.22 645.19 L158.82 645.17 L159.42 645.14 L160.02 645.12 L160.62 645.09 L161.22 645.07 L161.82 645.04 L162.42 645.01 L163.02 644.99 L163.63 644.96 L164.23 644.94 L164.83 644.92 L165.43 644.89 L166.03 644.87 L166.63 644.86 L167.23 644.84 L167.83 644.83 L168.43 644.82 L169.03 644.81 L169.63 644.81 L170.23 644.81 L170.83 644.81 L171.43 644.82 L172.03 644.83 L172.63 644.84 L173.23 644.86 L173.83 644.89 L174.44 644.91 L175.04 644.94 L175.64 644.98 L176.24 645.01 L176.84 645.05 L177.44 645.09 L178.04 645.14 L178.64 645.18 L179.24 645.23 L179.84 645.27 L180.44 645.31 L181.04 645.35 L181.64 645.39 L182.24 645.42 L182.84 645.45 L183.44 645.48 L184.04 645.49 L184.64 645.50 L185.25 645.50 L185.85 645.48 L186.45 645.46 L187.05 645.42 L187.65 645.37 L188.25 645.30 L188.85 645.22 L189.45 645.13 L190.05 645.01 L190.65 644.88 L191.25 644.74 L191.85 644.57 L192.45 644.38 L193.05 644.17 L193.65 643.95 L194.25 643.70 L194.85 643.43 L195.45 643.13 L196.06 642.81 L196.66 642.47 L197.26 642.11 L197.86 641.72 L198.46 641.30 L199.06 640.86 L199.66 640.39 L200.26 639.89 L200.86 639.37 L201.46 638.81 L202.06 638.23 L202.66 637.62 L203.26 636.98 L203.86 636.31 L204.46 635.61 L205.06 634.87 L205.66 634.11 L206.27 633.31 L206.87 632.48 L207.47 631.62 L208.07 630.72 L208.67 629.79 L209.27 628.83 L209.87 627.84 L210.47 626.82 L211.07 625.77 L211.67 624.69 L212.27 623.58 L212.87 622.44 L213.47 621.29 L214.07 620.11 L214.67 618.92 L215.27 617.71 L215.87 616.50 L216.47 615.28 L217.08 614.07 L217.68 612.86 L218.28 611.67 L218.88 610.50 L219.48 609.37 L220.08 608.28 L220.68 607.18 L221.28 606.13 L221.88 605.17 L222.48 604.30 L223.08 603.54 L223.68 602.93 L224.28 602.48 L224.88 602.20 L225.48 602.10 L226.08 602.14 L226.68 602.09 L227.28 602.22 L227.89 602.52 L228.49 603.01 L229.09 603.68 L229.69 604.55 L230.29 605.60 L230.89 606.84 L231.49 608.25 L232.09 609.84 L232.69 611.58 L233.29 613.47 L233.89 615.49 L234.49 617.62 L235.09 619.84 L235.69 622.13 L236.29 624.46 L236.89 626.82 L237.49 629.16 L238.09 631.47 L238.70 633.72 L239.30 635.87 L239.90 637.89 L240.50 639.74 L241.10 641.39 L241.70 642.82 L242.30 643.98 L242.90 644.86 L243.50 645.44 L244.10 645.09 L244.70 644.31 L245.30 643.24 L245.90 641.90 L246.50 640.32 L247.10 638.52 L247.70 636.56 L248.30 634.45 L248.90 632.23 L249.51 629.94 L250.11 627.60 L250.71 625.25 L251.31 622.90 L251.91 620.60 L252.51 618.35 L253.11 616.19 L253.71 614.13 L254.31 612.20 L254.91 610.40 L255.51 608.76 L256.11 607.29 L256.71 605.99 L257.31 604.88 L257.91 603.95 L258.51 603.21 L259.11 602.67 L259.71 602.30 L260.32 602.12 L260.92 602.10 L261.52 602.10 L262.12 602.14 L262.72 602.36 L263.32 602.76 L263.92 603.32 L264.52 604.03 L265.12 604.86 L265.72 605.80 L266.32 606.82 L266.92 607.90 L267.52 609.00 L268.12 610.12 L268.72 611.28 L269.32 612.46 L269.92 613.66 L270.53 614.88 L271.13 616.09 L271.73 617.31 L272.33 618.52 L272.93 619.71 L273.53 620.90 L274.13 622.06 L274.73 623.20 L275.33 624.32 L275.93 625.41 L276.53 626.47 L277.13 627.50 L277.73 628.51 L278.33 629.48 L278.93 630.42 L279.53 631.32 L280.13 632.20 L280.73 633.04 L281.34 633.85 L281.94 634.62 L282.54 635.37 L283.14 636.08 L283.74 636.76 L284.34 637.41 L284.94 638.03 L285.54 638.62 L286.14 639.19 L286.74 639.72 L287.34 640.22 L287.94 640.70 L288.54 641.15 L289.14 641.58 L289.74 641.98 L290.34 642.35 L290.94 642.70 L291.54 643.03 L292.15 643.33 L292.75 643.61 L293.35 643.87 L293.95 644.10 L294.55 644.32 L295.15 644.51 L295.75 644.68 L296.35 644.84 L296.95 644.97 L297.55 645.09 L298.15 645.19 L298.75 645.28 L299.35 645.35 L299.95 645.40 L300.55 645.45 L301.15 645.47 L301.75 645.49 L302.35 645.50 L302.96 645.49 L303.56 645.48 L304.16 645.46 L304.76 645.43 L305.36 645.40 L305.96 645.37 L306.56 645.33 L307.16 645.28 L307.76 645.24 L308.36 645.20 L308.96 645.15 L309.56 645.11 L310.16 645.07 L310.76 645.03 L311.36 644.99 L311.96 644.95 L312.56 644.92 L313.16 644.89 L313.77 644.87 L314.37 644.85 L314.97 644.83 L315.57 644.82 L316.17 644.81 L316.77 644.81 L317.37 644.81 L317.97 644.81 L318.57 644.82 L319.17 644.82 L319.77 644.84 L320.37 644.85 L320.97 644.87 L321.57 644.89 L322.17 644.91 L322.77 644.93 L323.37 644.95 L323.97 644.98 L324.58 645.00 L325.18 645.03 L325.78 645.06 L326.38 645.08 L326.98 645.11 L327.58 645.14 L328.18 645.16 L328.78 645.19 L329.38 645.21 L329.98 645.23 L330.58 645.25 L331.18 645.27 L331.78 645.29 L332.38 645.31 L332.98 645.33 L333.58 645.35 L334.18 645.36 L334.78 645.38 L335.39 645.39 L335.99 645.40 L336.59 645.41 L337.19 645.42 L337.79 645.43 L338.39 645.44 L338.99 645.45 L339.59 645.45 L340.19 645.46 L340.79 645.46 L341.39 645.47 L341.99 645.47 L342.59 645.48 L343.19 645.48 L343.79 645.48 L344.39 645.48 L344.99 645.49 L345.60 645.49 L346.20 645.49 L346.80 645.49 L347.40 645.49 L348.00 645.49 L348.60 645.50 L349.20 645.50 L349.80 645.50 L350.40 645.50 L351.00 645.50 L351.60 645.50 L352.20 645.50 L352.80 645.50 L353.40 645.50 L354.00 645.50 L354.60 645.50 L355.20 645.50 L355.80 645.50 L356.41 645.50 L357.01 645.50 L357.61 645.50 L358.21 645.50 L358.81 645.50 L359.41 645.50 L360.01 645.50 L360.61 645.50 L361.21 645.50 L361.81 645.50 L362.41 645.50 L363.01 645.50 L363.61 645.50 L364.21 645.50 L364.81 645.50 L365.41 645.50 L366.01 645.50 L366.61 645.50 L367.22 645.50 L367.82 645.50 L368.42 645.50 L369.02 645.50 L369.62 645.50 L370.22 645.50 L370.82 645.50 L371.42 645.50 L372.02 645.50 L372.62 645.50 L373.22 645.50 L373.82 645.50 L374.42 645.50 L375.02 645.50 L375.62 645.50 L376.22 645.50 L376.82 645.50 L377.42 645.50 L378.03 645.50 L378.63 645.50 L379.23 645.50 L379.83 645.50 L380.43 645.50 L381.03 645.50 L381.63 645.50 L382.23 645.50 L382.83 645.50 L383.43 645.50 L384.03 645.50 L384.63 645.50 L385.23 645.50 L385.83 645.50 L386.43 645.50 L387.03 645.50 L387.63 645.50 L388.23 645.50 L388.84 645.50 L389.44 645.50 L390.04 645.50 L390.64 645.50 L391.24 645.50 L391.84 645.50 L392.44 645.50 L393.04 645.50 L393.64 645.50 L394.24 645.50 L394.84 645.50 L395.44 645.50 L396.04 645.50 L396.64 645.50 L397.24 645.50 L397.84 645.50 L398.44 645.50 L399.04 645.50 L399.65 645.50 L400.25 645.50 L400.85 645.50 L401.45 645.50 L402.05 645.50 L402.65 645.50 L403.25 645.50 L403.85 645.50 L404.45 645.50 L405.05 645.50 L405.65 645.50 L406.25 645.50 L406.85 645.50 L407.45 645.50 L408.05 645.50 L408.65 645.50 L409.25 645.50 L409.86 645.50 L410.46 645.50 L411.06 645.50 L411.66 645.50 L412.26 645.50 L412.86 645.50 L413.46 645.50 L414.06 645.50 L414.66 645.50 L415.26 645.50 L415.86 645.50 L416.46 645.50 L417.06 645.50 L417.66 645.50 L418.26 645.50 L418.86 645.50 L419.46 645.50 L420.06 645.50 L420.67 645.50 L421.27 645.50 L421.87 645.50 L422.47 645.50 L423.07 645.50 L423.67 645.50 L424.27 645.50 L424.87 645.50 L425.47 645.50 L425.47 645.50 L424.87 645.50 L424.27 645.50 L423.67 645.50 L423.07 645.50 L422.47 645.50 L421.87 645.50 L421.27 645.50 L420.67 645.50 L420.06 645.50 L419.46 645.50 L418.86 645.50 L418.26 645.50 L417.66 645.50 L417.06 645.50 L416.46 645.50 L415.86 645.50 L415.26 645.50 L414.66 645.50 L414.06 645.50 L413.46 645.50 L412.86 645.50 L412.26 645.50 L411.66 645.50 L411.06 645.50 L410.46 645.50 L409.86 645.50 L409.25 645.50 L408.65 645.50 L408.05 645.50 L407.45 645.50 L406.85 645.50 L406.25 645.50 L405.65 645.50 L405.05 645.50 L404.45 645.50 L403.85 645.50 L403.25 645.50 L402.65 645.50 L402.05 645.50 L401.45 645.50 L400.85 645.50 L400.25 645.50 L399.65 645.50 L399.04 645.50 L398.44 645.50 L397.84 645.50 L397.24 645.50 L396.64 645.50 L396.04 645.50 L395.44 645.50 L394.84 645.50 L394.24 645.50 L393.64 645.50 L393.04 645.50 L392.44 645.50 L391.84 645.50 L391.24 645.50 L390.64 645.50 L390.04 645.50 L389.44 645.50 L388.84 645.50 L388.23 645.50 L387.63 645.50 L387.03 645.50 L386.43 645.50 L385.83 645.50 L385.23 645.50 L384.63 645.50 L384.03 645.50 L383.43 645.50 L382.83 645.50 L382.23 645.50 L381.63 645.50 L381.03 645.50 L380.43 645.50 L379.83 645.50 L379.23 645.50 L378.63 645.50 L378.03 645.50 L377.42 645.50 L376.82 645.50 L376.22 645.50 L375.62 645.50 L375.02 645.50 L374.42 645.50 L373.82 645.50 L373.22 645.50 L372.62 645.50 L372.02 645.50 L371.42 645.50 L370.82 645.50 L370.22 645.50 L369.62 645.50 L369.02 645.50 L368.42 645.50 L367.82 645.50 L367.22 645.50 L366.61 645.50 L366.01 645.50 L365.41 645.50 L364.81 645.50 L364.21 645.50 L363.61 645.50 L363.01 645.50 L362.41 645.50 L361.81 645.50 L361.21 645.50 L360.61 645.50 L360.01 645.50 L359.41 645.50 L358.81 645.50 L358.21 645.50 L357.61 645.50 L357.01 645.50 L356.41 645.50 L355.80 645.50 L355.20 645.50 L354.60 645.50 L354.00 645.50 L353.40 645.50 L352.80 645.50 L352.20 645.50 L351.60 645.50 L351.00 645.50 L350.40 645.50 L349.80 645.50 L349.20 645.50 L348.60 645.50 L348.00 645.49 L347.40 645.49 L346.80 645.49 L346.20 645.49 L345.60 645.49 L344.99 645.49 L344.39 645.49 L343.79 645.48 L343.19 645.48 L342.59 645.48 L341.99 645.47 L341.39 645.47 L340.79 645.47 L340.19 645.46 L339.59 645.45 L338.99 645.45 L338.39 645.44 L337.79 645.43 L337.19 645.42 L336.59 645.41 L335.99 645.40 L335.39 645.39 L334.78 645.38 L334.18 645.37 L333.58 645.35 L332.98 645.34 L332.38 645.32 L331.78 645.30 L331.18 645.28 L330.58 645.26 L329.98 645.24 L329.38 645.22 L328.78 645.19 L328.18 645.17 L327.58 645.14 L326.98 645.12 L326.38 645.09 L325.78 645.07 L325.18 645.04 L324.58 645.01 L323.97 644.99 L323.37 644.96 L322.77 644.94 L322.17 644.92 L321.57 644.89 L320.97 644.87 L320.37 644.86 L319.77 644.84 L319.17 644.83 L318.57 644.82 L317.97 644.81 L317.37 644.81 L316.77 644.81 L316.17 644.82 L315.57 644.82 L314.97 644.84 L314.37 644.86 L313.77 644.88 L313.16 644.90 L312.56 644.93 L311.96 644.96 L311.36 645.00 L310.76 645.04 L310.16 645.08 L309.56 645.12 L308.96 645.17 L308.36 645.21 L307.76 645.25 L307.16 645.30 L306.56 645.34 L305.96 645.38 L305.36 645.41 L304.76 645.44 L304.16 645.47 L303.56 645.49 L302.96 645.50 L302.35 645.50 L301.75 645.50 L301.15 645.48 L300.55 645.46 L299.95 645.42 L299.35 645.37 L298.75 645.30 L298.15 645.22 L297.55 645.13 L296.95 645.01 L296.35 644.88 L295.75 644.74 L295.15 644.57 L294.55 644.38 L293.95 644.18 L293.35 643.95 L292.75 643.70 L292.15 643.43 L291.54 643.13 L290.94 642.82 L290.34 642.48 L289.74 642.11 L289.14 641.72 L288.54 641.31 L287.94 640.87 L287.34 640.40 L286.74 639.91 L286.14 639.40 L285.54 638.85 L284.94 638.28 L284.34 637.68 L283.74 637.06 L283.14 636.41 L282.54 635.73 L281.94 635.02 L281.34 634.29 L280.73 633.53 L280.13 632.74 L279.53 631.93 L278.93 631.10 L278.33 630.25 L277.73 629.37 L277.13 628.48 L276.53 627.56 L275.93 626.64 L275.33 625.70 L274.73 624.75 L274.13 623.80 L273.53 622.85 L272.93 621.89 L272.33 620.94 L271.73 620.00 L271.13 619.07 L270.53 618.17 L269.92 617.28 L269.32 616.42 L268.72 615.59 L268.12 614.79 L267.52 614.04 L266.92 613.35 L266.32 612.75 L265.72 612.21 L265.12 611.73 L264.52 611.29 L263.92 610.90 L263.32 610.54 L262.72 610.22 L262.12 609.95 L261.52 609.73 L260.92 609.72 L260.32 609.97 L259.71 610.33 L259.11 610.80 L258.51 611.39 L257.91 612.11 L257.31 612.96 L256.71 613.94 L256.11 615.06 L255.51 616.33 L254.91 617.74 L254.31 619.29 L253.71 620.98 L253.11 622.79 L252.51 624.71 L251.91 626.72 L251.31 628.80 L250.71 630.91 L250.11 633.03 L249.51 635.11 L248.90 637.11 L248.30 639.00 L247.70 640.72 L247.10 642.23 L246.50 643.51 L245.90 644.51 L245.30 645.22 L244.70 645.50 L244.10 645.50 L243.50 645.50 L242.90 645.50 L242.30 645.50 L241.70 645.02 L241.10 644.21 L240.50 643.11 L239.90 641.75 L239.30 640.16 L238.70 638.39 L238.09 636.46 L237.49 634.42 L236.89 632.33 L236.29 630.20 L235.69 628.10 L235.09 626.04 L234.49 624.05 L233.89 622.17 L233.29 620.40 L232.69 618.76 L232.09 617.25 L231.49 615.89 L230.89 614.67 L230.29 613.60 L229.69 612.66 L229.09 611.85 L228.49 611.18 L227.89 610.63 L227.28 610.19 L226.68 609.87 L226.08 609.66 L225.48 609.80 L224.88 610.04 L224.28 610.33 L223.68 610.66 L223.08 611.02 L222.48 611.43 L221.88 611.88 L221.28 612.39 L220.68 612.95 L220.08 613.56 L219.48 614.29 L218.88 615.05 L218.28 615.86 L217.68 616.70 L217.08 617.57 L216.47 618.47 L215.87 619.38 L215.27 620.31 L214.67 621.26 L214.07 622.21 L213.47 623.16 L212.87 624.12 L212.27 625.07 L211.67 626.01 L211.07 626.95 L210.47 627.87 L209.87 628.78 L209.27 629.66 L208.67 630.53 L208.07 631.38 L207.47 632.21 L206.87 633.01 L206.27 633.78 L205.66 634.53 L205.06 635.26 L204.46 635.96 L203.86 636.63 L203.26 637.27 L202.66 637.89 L202.06 638.47 L201.46 639.04 L200.86 639.57 L200.26 640.08 L199.66 640.56 L199.06 641.02 L198.46 641.45 L197.86 641.86 L197.26 642.24 L196.66 642.59 L196.06 642.93 L195.45 643.23 L194.85 643.52 L194.25 643.78 L193.65 644.03 L193.05 644.25 L192.45 644.45 L191.85 644.63 L191.25 644.79 L190.65 644.93 L190.05 645.05 L189.45 645.16 L188.85 645.25 L188.25 645.33 L187.65 645.39 L187.05 645.43 L186.45 645.47 L185.85 645.49 L185.25 645.50 L184.64 645.50 L184.04 645.49 L183.44 645.48 L182.84 645.46 L182.24 645.43 L181.64 645.40 L181.04 645.37 L180.44 645.33 L179.84 645.28 L179.24 645.24 L178.64 645.20 L178.04 645.15 L177.44 645.11 L176.84 645.07 L176.24 645.03 L175.64 644.99 L175.04 644.95 L174.44 644.92 L173.83 644.89 L173.23 644.87 L172.63 644.85 L172.03 644.83 L171.43 644.82 L170.83 644.81 L170.23 644.81 L169.63 644.81 L169.03 644.81 L168.43 644.82 L167.83 644.83 L167.23 644.85 L166.63 644.86 L166.03 644.88 L165.43 644.90 L164.83 644.92 L164.23 644.95 L163.63 644.97 L163.02 645.00 L162.42 645.02 L161.82 645.05 L161.22 645.08 L160.62 645.10 L160.02 645.13 L159.42 645.15 L158.82 645.18 L158.22 645.20 L157.62 645.22 L157.02 645.25 L156.42 645.27 L155.82 645.29 L155.22 645.31 L154.62 645.32 L154.02 645.34 L153.42 645.36 L152.82 645.37 L152.21 645.38 L151.61 645.40 L151.01 645.41 L150.41 645.42 L149.81 645.43 L149.21 645.44 L148.61 645.44 L148.01 645.45 L147.41 645.46 L146.81 645.46 L146.21 645.47 L145.61 645.47 L145.01 645.48 L144.41 645.48 L143.81 645.48 L143.21 645.48 L142.61 645.49 L142.01 645.49 L141.40 645.49 L140.80 645.49 L140.20 645.49 L139.60 645.49 L139.00 645.49 L138.40 645.50 L137.80 645.50 L137.20 645.50 L136.60 645.50 L136.00 645.50 L135.40 645.50 L134.80 645.50 L134.20 645.50 L133.60 645.50 L133.00 645.50 L132.40 645.50 L131.80 645.50 L131.20 645.50 L130.59 645.50 L129.99 645.50 L129.39 645.50 L128.79 645.50 L128.19 645.50 L127.59 645.50 L126.99 645.50 L126.39 645.50 L125.79 645.50 L125.19 645.50 L124.59 645.50 L123.99 645.50 L123.39 645.50 L122.79 645.50 L122.19 645.50 L121.59 645.50 L120.99 645.50 L120.38 645.50 L119.78 645.50 L119.18 645.50 L118.58 645.50 L117.98 645.50 L117.38 645.50 L116.78 645.50 L116.18 645.50 L115.58 645.50 L114.98 645.50 L114.38 645.50 L113.78 645.50 L113.18 645.50 L112.58 645.50 L111.98 645.50 L111.38 645.50 L110.78 645.50 L110.18 645.50 L109.57 645.50 L108.97 645.50 L108.37 645.50 L107.77 645.50 L107.17 645.50 L106.57 645.50 L105.97 645.50 L105.37 645.50 L104.77 645.50 L104.17 645.50 L103.57 645.50 L102.97 645.50 L102.37 645.50 L101.77 645.50 L101.17 645.50 L100.57 645.50 L99.97 645.50 L99.37 645.50 L98.76 645.50 L98.16 645.50 L97.56 645.50 L96.96 645.50 L96.36 645.50 L95.76 645.50 L95.16 645.50 L94.56 645.50 L93.96 645.50 L93.36 645.50 L92.76 645.50 L92.16 645.50 L91.56 645.50 L90.96 645.50 L90.36 645.50 L89.76 645.50 L89.16 645.50 L88.56 645.50 L87.95 645.50 L87.35 645.50 L86.75 645.50 L86.15 645.50 L85.55 645.50 L84.95 645.50 L84.35 645.50 L83.75 645.50 L83.15 645.50 L82.55 645.50 L81.95 645.50 L81.35 645.50 L80.75 645.50 L80.15 645.50 L79.55 645.50 L78.95 645.50 L78.35 645.50 L77.75 645.50 L77.14 645.50 L76.54 645.50 L75.94 645.50 L75.34 645.50 L74.74 645.50 L74.14 645.50 L73.54 645.50 L72.94 645.50 L72.34 645.50 L71.74 645.50 L71.14 645.50 L70.54 645.50 L69.94 645.50 L69.34 645.50 L68.74 645.50 L68.14 645.50 L67.54 645.50 L66.94 645.50 L66.33 645.50 L65.73 645.50 L65.13 645.50 L64.53 645.50 L63.93 645.50 L63.33 645.50 L62.73 645.50 L62.13 645.50 L61.53 645.50 Z" fill="#a4a4f4"/>
<path d="M61.53 645.50 L62.13 645.50 L62.73 645.50 L63.33 645.50 L63.93 645.50 L64.53 645.50 L65.13 645.50 L65.73 645.50 L66.33 645.50 L66.94 645.50 L67.54 645.50 L68.14 645.50 L68.74 645.50 L69.34 645.50 L69.94 645.50 L70.54 645.50 L71.14 645.50 L71.74 645.50 L72.34 645.50 L72.94 645.50 L73.54 645.50 L74.14 645.50 L74.74 645.50 L75.34 645.50 L75.94 645.50 L76.54 645.50 L77.14 645.50 L77.75 645.50 L78.35 645.50 L78.95 645.50 L79.55 645.50 L80.15 645.50 L80.75 645.50 L81.35 645.50 L81.95 645.50 L82.55 645.50 L83.15 645.50 L83.75 645.50 L84.35 645.50 L84.95 645.50 L85.55 645.50 L86.15 645.50 L86.75 645.50 L87.35 645.50 L87.95 645.50 L88.56 645.50 L89.16 645.50 L89.76 645.50 L90.36 645.50 L90.96 645.50 L91.56 645.50 L92.16 645.50 L92.76 645.50 L93.36 645.50 L93.96 645.50 L94.56 645.50 L95.16 645.50 L95.76 645.50 L96.36 645.50 L96.96 645.50 L97.56 645.50 L98.16 645.50 L98.76 645.50 L99.37 645.50 L99.97 645.50 L100.57 645.50 L101.17 645.50 L101.77 645.50 L102.37 645.50 L102.97 645.50 L103.57 645.50 L104.17 645.50 L104.77 645.50 L105.37 645.50 L105.97 645.50 L106.57 645.50 L107.17 645.50 L107.77 645.50 L108.37 645.50 L108.97 645.50 L109.57 645.50 L110.18 645.50 L110.78 645.50 L111.38 645.50 L111.98 645.50 L112.58 645.50 L113.18 645.50 L113.78 645.50 L114.38 645.50 L114.98 645.50 L115.58 645.50 L116.18 645.50 L116.78 645.50 L117.38 645.50 L117.98 645.50 L118.58 645.50 L119.18 645.50 L119.78 645.50 L120.38 645.50 L120.99 645.50 L121.59 645.50 L122.19 645.50 L122.79 645.50 L123.39 645.50 L123.99 645.50 L124.59 645.50 L125.19 645.50 L125.79 645.50 L126.39 645.50 L126.99 645.50 L127.59 645.50 L128.19 645.50 L128.79 645.50 L129.39 645.50 L129.99 645.50 L130.59 645.50 L131.20 645.50 L131.80 645.50 L132.40 645.50 L133.00 645.50 L133.60 645.50 L134.20 645.50 L134.80 645.50 L135.40 645.50 L136.00 645.50 L136.60 645.50 L137.20 645.50 L137.80 645.50 L138.40 645.50 L139.00 645.49 L139.60 645.49 L140.20 645.49 L140.80 645.49 L141.40 645.49 L142.01 645.49 L142.61 645.49 L143.21 645.48 L143.81 645.48 L144.41 645.48 L145.01 645.47 L145.61 645.47 L146.21 645.47 L146.81 645.46 L147.41 645.46 L148.01 645.45 L148.61 645.44 L149.21 645.43 L149.81 645.43 L150.41 645.42 L151.01 645.41 L151.61 645.39 L152.21 645.38 L152.82 645.37 L153.42 645.35 L154.02 645.34 L154.62 645.32 L155.22 645.30 L155.82 645.28 L156.42 645.26 L157.02 645.24 L157.62 645.22 L158.22 645.20 L158.82 645.17 L159.42 645.15 L160.02 645.12 L160.62 645.10 L161.22 645.07 L161.82 645.04 L162.42 645.02 L163.02 644.99 L163.63 644.97 L164.23 644.94 L164.83 644.92 L165.43 644.90 L166.03 644.88 L166.63 644.86 L167.23 644.84 L167.83 644.83 L168.43 644.82 L169.03 644.81 L169.63 644.81 L170.23 644.81 L170.83 644.81 L171.43 644.82 L172.03 644.83 L172.63 644.85 L173.23 644.87 L173.83 644.89 L174.44 644.92 L175.04 644.95 L175.64 644.98 L176.24 645.02 L176.84 645.06 L177.44 645.10 L178.04 645.14 L178.64 645.19 L179.24 645.23 L179.84 645.28 L180.44 645.32 L181.04 645.36 L181.64 645.40 L182.24 645.43 L182.84 645.46 L183.44 645.48 L184.04 645.49 L184.64 645.50 L185.25 645.50 L185.85 645.48 L186.45 645.46 L187.05 645.43 L187.65 645.38 L188.25 645.31 L188.85 645.24 L189.45 645.14 L190.05 645.03 L190.65 644.91 L191.25 644.76 L191.85 644.60 L192.45 644.41 L193.05 644.21 L193.65 643.99 L194.25 643.74 L194.85 643.47 L195.45 643.18 L196.06 642.87 L196.66 642.53 L197.26 642.17 L197.86 641.79 L198.46 641.37 L199.06 640.94 L199.66 640.48 L200.26 639.99 L200.86 639.47 L201.46 638.93 L202.06 638.35 L202.66 637.75 L203.26 637.13 L203.86 636.47 L204.46 635.78 L205.06 635.07 L205.66 634.32 L206.27 633.55 L206.87 632.74 L207.47 631.91 L208.07 631.05 L208.67 630.16 L209.27 629.25 L209.87 628.31 L210.47 627.34 L211.07 626.36 L211.67 625.35 L212.27 624.32 L212.87 623.28 L213.47 622.23 L214.07 621.16 L214.67 620.09 L215.27 619.01 L215.87 617.94 L216.47 616.87 L217.08 615.82 L217.68 614.78 L218.28 613.76 L218.88 612.78 L219.48 611.83 L220.08 610.92 L220.68 610.06 L221.28 609.26 L221.88 608.53 L222.48 607.86 L223.08 607.28 L223.68 606.79 L224.28 606.40 L224.88 606.12 L225.48 605.95 L226.08 605.90 L226.68 605.98 L227.28 606.21 L227.89 606.58 L228.49 607.09" fill="none" stroke="#2a2aec" stroke-width="1.35"/>
<path d="M258.51 607.30 L259.11 606.73 L259.71 606.31 L260.32 606.04 L260.92 605.91 L261.52 605.92 L262.12 606.05 L262.72 606.29 L263.32 606.65 L263.92 607.11 L264.52 607.66 L265.12 608.30 L265.72 609.01 L266.32 609.79 L266.92 610.63 L267.52 611.52 L268.12 612.46 L268.72 613.43 L269.32 614.44 L269.92 615.47 L270.53 616.52 L271.13 617.58 L271.73 618.65 L272.33 619.73 L272.93 620.80 L273.53 621.87 L274.13 622.93 L274.73 623.98 L275.33 625.01 L275.93 626.02 L276.53 627.02 L277.13 627.99 L277.73 628.94 L278.33 629.86 L278.93 630.76 L279.53 631.63 L280.13 632.47 L280.73 633.28 L281.34 634.07 L281.94 634.82 L282.54 635.55 L283.14 636.24 L283.74 636.91 L284.34 637.55 L284.94 638.16 L285.54 638.74 L286.14 639.29 L286.74 639.82 L287.34 640.31 L287.94 640.79 L288.54 641.23 L289.14 641.65 L289.74 642.05 L290.34 642.41 L290.94 642.76 L291.54 643.08 L292.15 643.38 L292.75 643.65 L293.35 643.91 L293.95 644.14 L294.55 644.35 L295.15 644.54 L295.75 644.71 L296.35 644.86 L296.95 644.99 L297.55 645.11 L298.15 645.21 L298.75 645.29 L299.35 645.36 L299.95 645.41 L300.55 645.45 L301.15 645.48 L301.75 645.49 L302.35 645.50 L302.96 645.50 L303.56 645.48 L304.16 645.46 L304.76 645.44 L305.36 645.41 L305.96 645.37 L306.56 645.33 L307.16 645.29 L307.76 645.25 L308.36 645.20 L308.96 645.16 L309.56 645.12 L310.16 645.07 L310.76 645.03 L311.36 644.99 L311.96 644.96 L312.56 644.93 L313.16 644.90 L313.77 644.87 L314.37 644.85 L314.97 644.84 L315.57 644.82 L316.17 644.81 L316.77 644.81 L317.37 644.81 L317.97 644.81 L318.57 644.82 L319.17 644.83 L319.77 644.84 L320.37 644.85 L320.97 644.87 L321.57 644.89 L322.17 644.91 L322.77 644.93 L323.37 644.96 L323.97 644.98 L324.58 645.01 L325.18 645.04 L325.78 645.06 L326.38 645.09 L326.98 645.11 L327.58 645.14 L328.18 645.17 L328.78 645.19 L329.38 645.21 L329.98 645.24 L330.58 645.26 L331.18 645.28 L331.78 645.30 L332.38 645.32 L332.98 645.33 L333.58 645.35 L334.18 645.36 L334.78 645.38 L335.39 645.39 L335.99 645.40 L336.59 645.41 L337.19 645.42 L337.79 645.43 L338.39 645.44 L338.99 645.45 L339.59 645.45 L340.19 645.46 L340.79 645.46 L341.39 645.47 L341.99 645.47 L342.59 645.48 L343.19 645.48 L343.79 645.48 L344.39 645.49 L344.99 645.49 L345.60 645.49 L346.20 645.49 L346.80 645.49 L347.40 645.49 L348.00 645.49 L348.60 645.50 L349.20 645.50 L349.80 645.50 L350.40 645.50 L351.00 645.50 L351.60 645.50 L352.20 645.50 L352.80 645.50 L353.40 645.50 L354.00 645.50 L354.60 645.50 L355.20 645.50 L355.80 645.50 L356.41 645.50 L357.01 645.50 L357.61 645.50 L358.21 645.50 L358.81 645.50 L359.41 645.50 L360.01 645.50 L360.61 645.50 L361.21 645.50 L361.81 645.50 L362.41 645.50 L363.01 645.50 L363.61 645.50 L364.21 645.50 L364.81 645.50 L365.41 645.50 L366.01 645.50 L366.61 645.50 L367.22 645.50 L367.82 645.50 L368.42 645.50 L369.02 645.50 L369.62 645.50 L370.22 645.50 L370.82 645.50 L371.42 645.50 L372.02 645.50 L372.62 645.50 L373.22 645.50 L373.82 645.50 L374.42 645.50 L375.02 645.50 L375.62 645.50 L376.22 645.50 L376.82 645.50 L377.42 645.50 L378.03 645.50 L378.63 645.50 L379.23 645.50 L379.83 645.50 L380.43 645.50 L381.03 645.50 L381.63 645.50 L382.23 645.50 L382.83 645.50 L383.43 645.50 L384.03 645.50 L384.63 645.50 L385.23 645.50 L385.83 645.50 L386.43 645.50 L387.03 645.50 L387.63 645.50 L388.23 645.50 L388.84 645.50 L389.44 645.50 L390.04 645.50 L390.64 645.50 L391.24 645.50 L391.84 645.50 L392.44 645.50 L393.04 645.50 L393.64 645.50 L394.24 645.50 L394.84 645.50 L395.44 645.50 L396.04 645.50 L396.64 645.50 L397.24 645.50 L397.84 645.50 L398.44 645.50 L399.04 645.50 L399.65 645.50 L400.25 645.50 L400.85 645.50 L401.45 645.50 L402.05 645.50 L402.65 645.50 L403.25 645.50 L403.85 645.50 L404.45 645.50 L405.05 645.50 L405.65 645.50 L406.25 645.50 L406.85 645.50 L407.45 645.50 L408.05 645.50 L408.65 645.50 L409.25 645.50 L409.86 645.50 L410.46 645.50 L411.06 645.50 L411.66 645.50 L412.26 645.50 L412.86 645.50 L413.46 645.50 L414.06 645.50 L414.66 645.50 L415.26 645.50 L415.86 645.50 L416.46 645.50 L417.06 645.50 L417.66 645.50 L418.26 645.50 L418.86 645.50 L419.46 645.50 L420.06 645.50 L420.67 645.50 L421.27 645.50 L421.87 645.50 L422.47 645.50 L423.07 645.50 L423.67 645.50 L424.27 645.50 L424.87 645.50 L425.47 645.50" fill="none" stroke="#2a2aec" stroke-width="1.35"/>
<path d="M229.09 607.77 L229.69 608.60 L230.29 609.60 L230.89 610.75 L231.49 612.07 L232.09 613.55 L232.69 615.17 L233.29 616.94 L233.89 618.83 L234.49 620.84 L235.09 622.94 L235.69 625.11 L236.29 627.33 L236.89 629.57 L237.49 631.79 L238.09 633.97 L238.70 636.05 L239.30 638.02 L239.90 639.82 L240.50 641.43 L241.10 642.80 L241.70 643.92 L242.30 644.75 L242.90 645.28 L243.50 645.50 L244.10 645.39 L244.70 644.96 L245.30 644.23 L245.90 643.21 L246.50 641.91 L247.10 640.38 L247.70 638.64 L248.30 636.72 L248.90 634.67 L249.51 632.53 L250.11 630.32 L250.71 628.08 L251.31 625.85 L251.91 623.66 L252.51 621.53 L253.11 619.49 L253.71 617.55 L254.31 615.74 L254.91 614.07 L255.51 612.55 L256.11 611.18 L256.71 609.97 L257.31 608.92 L257.91 608.03" fill="none" stroke="#4646ec" stroke-width="1.1"/>
<line x1="61.53" y1="645.50" x2="156.82" y2="645.50" stroke="#3030ee" stroke-width="2.0"/>
<line x1="179.64" y1="645.50" x2="188.65" y2="645.50" stroke="#3030ee" stroke-width="2.0"/>
<line x1="298.55" y1="645.50" x2="307.56" y2="645.50" stroke="#3030ee" stroke-width="2.0"/>
<line x1="330.38" y1="645.50" x2="425.87" y2="645.50" stroke="#3030ee" stroke-width="2.0"/>
<line x1="62.50" y1="631.27" x2="64.50" y2="631.27" stroke="#909090" stroke-width="0.6"/>
<text transform="translate(61.50 634.07) scale(1.000 1)" text-anchor="end" style="font-family:'Liberation Sans',sans-serif;font-size:8.00px;font-kerning:none" fill="#000" stroke="#000" stroke-width="0.12">1</text>
<line x1="62.50" y1="617.04" x2="64.50" y2="617.04" stroke="#909090" stroke-width="0.6"/>
<text transform="translate(61.50 619.84) scale(1.000 1)" text-anchor="end" style="font-family:'Liberation Sans',sans-serif;font-size:8.00px;font-kerning:none" fill="#000" stroke="#000" stroke-width="0.12">2</text>
<line x1="62.50" y1="602.81" x2="64.50" y2="602.81" stroke="#909090" stroke-width="0.6"/>
<text transform="translate(61.50 605.61) scale(1.000 1)" text-anchor="end" style="font-family:'Liberation Sans',sans-serif;font-size:8.00px;font-kerning:none" fill="#000" stroke="#000" stroke-width="0.12">3</text>
<text transform="matrix(0.9834 0 0 0.8349 63.522 602.576)" x="0" y="0" fill="#111" stroke="#111" stroke-width="0.276" style="font-kerning:none" ><tspan style="font-family:'Liberation Serif',serif;font-style:normal;font-size:10.00px" y="0.00">×</tspan></text>
<text transform="matrix(0.9039 0 0 0.7410 70.606 601.428)" x="0" y="0" fill="#111" stroke="#111" stroke-width="0.122" style="font-kerning:none" ><tspan style="font-family:'Liberation Serif',serif;font-style:normal;font-size:10.00px" y="0.00">10</tspan></text>
<text transform="matrix(0.7498 0 0 0.4465 80.158 597.856)" x="0" y="0" fill="#111" stroke="#111" stroke-width="0.086" style="font-kerning:none" ><tspan style="font-family:'Liberation Serif',serif;font-style:normal;font-size:10.00px" y="0.00">9</tspan></text>
<text transform="translate(152.66 653.90) scale(1.000 1)" text-anchor="middle" style="font-family:'Liberation Sans',sans-serif;font-size:8.40px;font-kerning:none" fill="#000" stroke="#000" stroke-width="0.12">−50</text>
<text transform="translate(243.80 653.90) scale(1.000 1)" text-anchor="middle" style="font-family:'Liberation Sans',sans-serif;font-size:8.40px;font-kerning:none" fill="#000" stroke="#000" stroke-width="0.12">0</text>
<text transform="translate(334.94 653.90) scale(1.000 1)" text-anchor="middle" style="font-family:'Liberation Sans',sans-serif;font-size:8.40px;font-kerning:none" fill="#000" stroke="#000" stroke-width="0.12">50</text>
<text transform="translate(426.07 653.90) scale(1.000 1)" text-anchor="middle" style="font-family:'Liberation Sans',sans-serif;font-size:8.40px;font-kerning:none" fill="#000" stroke="#000" stroke-width="0.12">100</text>
<text transform="matrix(1.4912 0 0 1.2704 388.472 672.183)" x="0" y="0" fill="#111" stroke="#111" stroke-width="0.073" style="font-kerning:none" ><tspan style="font-family:'Liberation Serif',serif;font-style:italic;font-size:10.00px" y="0.00">θ</tspan><tspan style="font-family:'Liberation Serif',serif;font-style:normal;font-size:10.00px" y="0.00">(</tspan><tspan style="font-family:'Liberation Serif',serif;font-style:italic;font-size:10.00px" y="0.00">μ</tspan><tspan style="font-family:'Liberation Serif',serif;font-style:normal;font-size:10.00px" y="0.00">rad)</tspan></text>
<text transform="matrix(0 -1.7133 1.7868 0 40.800 640.308)" x="0" y="0" fill="#111" stroke="#111" stroke-width="0.057" style="font-kerning:none" ><tspan style="font-family:'Liberation Serif',serif;font-style:italic;font-size:10.00px" y="0.00">F</tspan></text>
<text transform="matrix(0 -1.1687 1.2352 0 33.870 627.514)" x="0" y="0" fill="#111" stroke="#111" stroke-width="0.083" style="font-kerning:none" ><tspan style="font-family:'Liberation Serif',serif;font-style:normal;font-size:10.00px" y="0.00">(2)</tspan></text>
<text transform="matrix(0 -1.5337 1.8090 0 40.749 610.374)" x="0" y="0" fill="#111" stroke="#111" stroke-width="0.060" style="font-kerning:none" ><tspan style="font-family:'Liberation Serif',serif;font-style:normal;font-size:10.00px" y="0.00">(</tspan><tspan style="font-family:'Liberation Serif',serif;font-style:italic;font-size:10.00px" y="0.00">θ</tspan><tspan style="font-family:'Liberation Serif',serif;font-style:normal;font-size:10.00px" y="0.00">)</tspan></text>
</svg></body></html>
